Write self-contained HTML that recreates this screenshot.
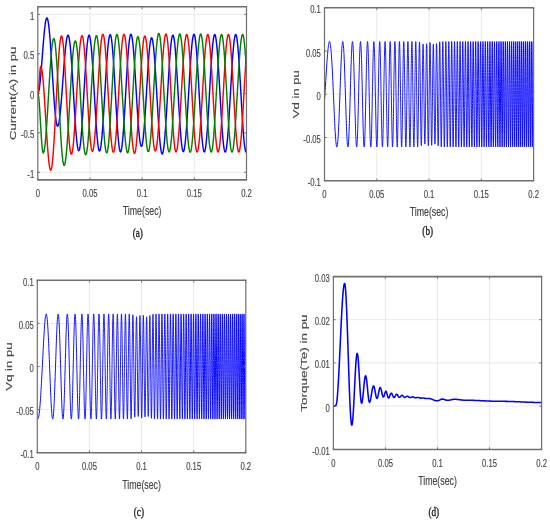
<!DOCTYPE html><html><head><meta charset="utf-8"><title>Figure</title><style>html,body{margin:0;padding:0;background:#fff;overflow:hidden}svg{display:block}.tk{font-family:"Liberation Sans",Arial,sans-serif;font-size:10.7px;fill:#454545;stroke:#454545;stroke-width:0.15px}.xl{font-family:"Liberation Sans",Arial,sans-serif;font-size:12.2px;fill:#454545;stroke:#454545;stroke-width:0.18px}.yl{font-family:"Liberation Sans",Arial,sans-serif;font-size:13px;fill:#454545;stroke:#454545;stroke-width:0.18px}.cap{font-family:"Liberation Serif","Times New Roman",serif;font-size:12.8px;fill:#1a1a1a;stroke:#1a1a1a;stroke-width:0.35px}</style></head><body>
<svg width="550" height="522" viewBox="0 0 550 522">
<rect width="550" height="522" fill="#fff"/>
<defs><filter id="blr" x="-5%" y="-5%" width="110%" height="110%"><feGaussianBlur stdDeviation="0.6 0.3"/></filter><filter id="blr2" x="-5%" y="-5%" width="110%" height="110%"><feGaussianBlur stdDeviation="0.6 0.3"/></filter></defs>
<line x1="37.8" y1="172.30" x2="246.5" y2="172.30" stroke="#e6e6e6" stroke-width="0.9"/>
<line x1="37.8" y1="132.82" x2="246.5" y2="132.82" stroke="#e6e6e6" stroke-width="0.9"/>
<line x1="37.8" y1="93.35" x2="246.5" y2="93.35" stroke="#e6e6e6" stroke-width="0.9"/>
<line x1="37.8" y1="53.87" x2="246.5" y2="53.87" stroke="#e6e6e6" stroke-width="0.9"/>
<line x1="37.8" y1="14.40" x2="246.5" y2="14.40" stroke="#e6e6e6" stroke-width="0.9"/>
<line x1="89.97" y1="6.8" x2="89.97" y2="179.9" stroke="#e6e6e6" stroke-width="0.9"/>
<line x1="142.15" y1="6.8" x2="142.15" y2="179.9" stroke="#e6e6e6" stroke-width="0.9"/>
<line x1="194.32" y1="6.8" x2="194.32" y2="179.9" stroke="#e6e6e6" stroke-width="0.9"/>
<defs><clipPath id="ca"><rect x="37.80" y="6.80" width="208.70" height="173.10"/></clipPath></defs>
<g clip-path="url(#ca)">
<polyline points="37.80,93.35 38.05,93.21 38.31,92.78 38.56,92.06 38.81,91.07 39.06,89.82 39.32,88.30 39.57,86.53 39.82,84.52 40.07,82.30 40.33,79.87 40.58,77.26 40.83,74.49 41.09,71.57 41.34,68.53 41.59,65.39 41.84,62.18 42.10,58.91 42.35,55.63 42.60,52.34 42.86,49.07 43.11,45.86 43.36,42.72 43.61,39.68 43.87,36.76 44.12,33.99 44.37,31.38 44.62,28.95 44.88,26.73 45.13,24.72 45.38,22.95 45.64,21.43 45.89,20.18 46.14,19.19 46.39,18.47 46.65,18.04 46.90,17.90 47.15,18.05 47.41,18.50 47.66,19.26 47.92,20.31 48.17,21.64 48.43,23.26 48.68,25.15 48.94,27.31 49.19,29.71 49.45,32.36 49.70,35.22 49.96,38.29 50.21,41.55 50.47,44.97 50.72,48.56 50.98,52.27 51.23,56.09 51.49,60.00 51.74,63.98 52.00,68.00 52.25,72.05 52.50,76.10 52.76,80.12 53.01,84.10 53.27,88.01 53.52,91.83 53.78,95.54 54.03,99.12 54.29,102.55 54.54,105.81 54.80,108.88 55.05,111.74 55.31,114.39 55.56,116.79 55.82,118.95 56.07,120.84 56.33,122.46 56.58,123.79 56.84,124.84 57.09,125.60 57.35,126.05 57.60,126.20 57.86,126.07 58.11,125.67 58.37,125.00 58.62,124.08 58.88,122.90 59.14,121.48 59.39,119.81 59.65,117.92 59.90,115.80 60.16,113.48 60.42,110.97 60.67,108.28 60.93,105.43 61.19,102.44 61.44,99.31 61.70,96.08 61.95,92.76 62.21,89.36 62.47,85.92 62.72,82.44 62.98,78.96 63.23,75.48 63.49,72.04 63.75,68.64 64.00,65.32 64.26,62.09 64.51,58.96 64.77,55.97 65.03,53.12 65.28,50.43 65.54,47.92 65.80,45.60 66.05,43.48 66.31,41.59 66.56,39.92 66.82,38.50 67.08,37.32 67.33,36.40 67.59,35.73 67.84,35.33 68.10,35.20 68.35,35.36 68.61,35.85 68.86,36.65 69.12,37.77 69.37,39.19 69.63,40.92 69.88,42.94 70.14,45.23 70.39,47.80 70.65,50.62 70.90,53.67 71.16,56.94 71.41,60.42 71.67,64.07 71.92,67.89 72.18,71.85 72.43,75.93 72.69,80.10 72.94,84.34 73.20,88.63 73.45,92.95 73.70,97.27 73.96,101.56 74.21,105.80 74.47,109.97 74.72,114.05 74.98,118.01 75.23,121.82 75.49,125.48 75.74,128.96 76.00,132.23 76.25,135.28 76.51,138.10 76.76,140.67 77.02,142.96 77.27,144.98 77.53,146.71 77.78,148.13 78.04,149.25 78.29,150.05 78.55,150.54 78.80,150.70 79.05,150.53 79.30,150.02 79.55,149.18 79.80,148.01 80.06,146.51 80.31,144.70 80.56,142.59 80.81,140.19 81.06,137.50 81.31,134.56 81.56,131.37 81.81,127.96 82.07,124.34 82.32,120.54 82.57,116.57 82.82,112.47 83.07,108.25 83.32,103.95 83.57,99.57 83.82,95.16 84.08,90.74 84.33,86.33 84.58,81.95 84.83,77.65 85.08,73.43 85.33,69.33 85.58,65.36 85.83,61.56 86.09,57.94 86.34,54.53 86.59,51.34 86.84,48.40 87.09,45.71 87.34,43.31 87.59,41.20 87.84,39.39 88.10,37.89 88.35,36.72 88.60,35.88 88.85,35.37 89.10,35.20 89.35,35.37 89.61,35.88 89.86,36.72 90.11,37.90 90.37,39.40 90.62,41.21 90.88,43.33 91.13,45.74 91.38,48.43 91.64,51.38 91.89,54.58 92.14,58.00 92.40,61.63 92.65,65.44 92.90,69.41 93.16,73.53 93.41,77.76 93.67,82.08 93.92,86.46 94.17,90.88 94.43,95.32 94.68,99.74 94.93,104.12 95.19,108.44 95.44,112.67 95.70,116.79 95.95,120.76 96.20,124.57 96.46,128.20 96.71,131.62 96.96,134.82 97.22,137.77 97.47,140.46 97.72,142.87 97.98,144.99 98.23,146.80 98.49,148.30 98.74,149.48 98.99,150.32 99.25,150.83 99.50,151.00 99.75,150.84 100.01,150.35 100.26,149.54 100.52,148.42 100.77,146.98 101.03,145.24 101.28,143.21 101.54,140.90 101.79,138.31 102.05,135.48 102.30,132.40 102.56,129.11 102.81,125.61 103.07,121.93 103.32,118.08 103.58,114.09 103.83,109.99 104.09,105.79 104.34,101.52 104.60,97.20 104.85,92.85 105.10,88.50 105.36,84.18 105.61,79.91 105.87,75.71 106.12,71.61 106.38,67.62 106.63,63.78 106.89,60.09 107.14,56.59 107.40,53.30 107.65,50.22 107.91,47.39 108.16,44.80 108.42,42.49 108.67,40.46 108.93,38.72 109.18,37.28 109.44,36.16 109.69,35.35 109.95,34.86 110.20,34.70 110.45,34.87 110.70,35.39 110.95,36.24 111.20,37.43 111.46,38.95 111.71,40.78 111.96,42.93 112.21,45.37 112.46,48.09 112.71,51.08 112.96,54.31 113.21,57.78 113.47,61.45 113.72,65.31 113.97,69.33 114.22,73.49 114.47,77.77 114.72,82.14 114.97,86.58 115.22,91.06 115.48,95.54 115.73,100.02 115.98,104.46 116.23,108.83 116.48,113.11 116.73,117.27 116.98,121.29 117.23,125.15 117.49,128.82 117.74,132.29 117.99,135.52 118.24,138.51 118.49,141.23 118.74,143.67 118.99,145.82 119.24,147.65 119.50,149.17 119.75,150.36 120.00,151.21 120.25,151.73 120.50,151.90 120.75,151.73 121.01,151.21 121.26,150.35 121.51,149.16 121.77,147.64 122.02,145.79 122.28,143.64 122.53,141.19 122.78,138.46 123.04,135.47 123.29,132.22 123.54,128.75 123.80,125.06 124.05,121.19 124.30,117.15 124.56,112.98 124.81,108.68 125.07,104.29 125.32,99.84 125.57,95.35 125.83,90.85 126.08,86.36 126.33,81.91 126.59,77.52 126.84,73.22 127.10,69.05 127.35,65.01 127.60,61.14 127.86,57.45 128.11,53.98 128.36,50.73 128.62,47.74 128.87,45.01 129.12,42.56 129.38,40.41 129.63,38.56 129.89,37.04 130.14,35.85 130.39,34.99 130.65,34.47 130.90,34.30 131.15,34.46 131.40,34.93 131.65,35.71 131.90,36.79 132.15,38.17 132.40,39.85 132.65,41.81 132.90,44.04 133.15,46.53 133.40,49.26 133.65,52.23 133.90,55.40 134.15,58.78 134.40,62.32 134.65,66.03 134.90,69.87 135.15,73.83 135.40,77.88 135.65,82.00 135.90,86.16 136.15,90.35 136.40,94.54 136.65,98.70 136.90,102.82 137.15,106.87 137.40,110.83 137.65,114.67 137.90,118.37 138.15,121.92 138.40,125.30 138.65,128.47 138.90,131.44 139.15,134.17 139.40,136.66 139.65,138.89 139.90,140.85 140.15,142.53 140.40,143.91 140.65,144.99 140.90,145.77 141.15,146.24 141.40,146.40 141.66,146.23 141.91,145.73 142.16,144.90 142.42,143.74 142.68,142.27 142.93,140.48 143.19,138.40 143.44,136.03 143.69,133.39 143.95,130.50 144.21,127.37 144.46,124.02 144.72,120.47 144.97,116.75 145.22,112.88 145.48,108.88 145.74,104.78 145.99,100.59 146.25,96.36 146.50,92.10 146.75,87.84 147.01,83.61 147.26,79.42 147.52,75.32 147.78,71.32 148.03,67.45 148.28,63.73 148.54,60.18 148.79,56.83 149.05,53.70 149.31,50.81 149.56,48.17 149.81,45.80 150.07,43.72 150.32,41.93 150.58,40.46 150.84,39.30 151.09,38.47 151.34,37.97 151.60,37.80 151.85,37.96 152.10,38.45 152.36,39.26 152.61,40.38 152.86,41.82 153.11,43.55 153.37,45.58 153.62,47.90 153.87,50.48 154.12,53.31 154.38,56.38 154.63,59.68 154.88,63.17 155.13,66.85 155.39,70.69 155.64,74.67 155.89,78.77 156.14,82.97 156.40,87.24 156.65,91.56 156.90,95.90 157.15,100.24 157.40,104.56 157.66,108.83 157.91,113.03 158.16,117.13 158.41,121.11 158.67,124.95 158.92,128.63 159.17,132.12 159.42,135.42 159.68,138.49 159.93,141.32 160.18,143.90 160.43,146.22 160.69,148.25 160.94,149.98 161.19,151.42 161.44,152.54 161.70,153.35 161.95,153.84 162.20,154.00 162.45,153.83 162.71,153.34 162.96,152.51 163.22,151.36 163.47,149.89 163.73,148.12 163.98,146.04 164.24,143.68 164.49,141.04 164.75,138.14 165.00,135.00 165.26,131.64 165.51,128.06 165.77,124.30 166.02,120.37 166.28,116.30 166.53,112.11 166.79,107.82 167.04,103.45 167.30,99.04 167.55,94.60 167.80,90.16 168.06,85.75 168.31,81.38 168.57,77.09 168.82,72.90 169.08,68.83 169.33,64.90 169.59,61.14 169.84,57.56 170.10,54.20 170.35,51.06 170.61,48.16 170.86,45.52 171.12,43.16 171.37,41.08 171.63,39.31 171.88,37.84 172.14,36.69 172.39,35.86 172.65,35.37 172.90,35.20 173.15,35.37 173.41,35.88 173.66,36.73 173.91,37.91 174.17,39.42 174.42,41.24 174.68,43.37 174.93,45.80 175.18,48.50 175.44,51.47 175.69,54.68 175.94,58.12 176.20,61.76 176.45,65.60 176.70,69.59 176.96,73.73 177.21,77.98 177.47,82.32 177.72,86.73 177.97,91.17 178.23,95.63 178.48,100.07 178.73,104.48 178.99,108.82 179.24,113.07 179.50,117.21 179.75,121.20 180.00,125.04 180.26,128.68 180.51,132.12 180.76,135.33 181.02,138.30 181.27,141.00 181.52,143.43 181.78,145.56 182.03,147.38 182.29,148.89 182.54,150.07 182.79,150.92 183.05,151.43 183.30,151.60 183.55,151.44 183.81,150.94 184.06,150.13 184.32,148.99 184.57,147.55 184.83,145.79 185.08,143.74 185.34,141.41 185.59,138.80 185.85,135.94 186.10,132.84 186.36,129.52 186.61,125.99 186.87,122.28 187.12,118.40 187.38,114.38 187.63,110.24 187.89,106.00 188.14,101.69 188.40,97.33 188.65,92.95 188.90,88.57 189.16,84.21 189.41,79.90 189.67,75.66 189.92,71.52 190.18,67.50 190.43,63.63 190.69,59.91 190.94,56.38 191.20,53.06 191.45,49.96 191.71,47.10 191.96,44.49 192.22,42.16 192.47,40.11 192.73,38.35 192.98,36.91 193.24,35.77 193.49,34.96 193.75,34.46 194.00,34.30 194.25,34.47 194.50,34.99 194.75,35.85 195.00,37.04 195.26,38.56 195.51,40.41 195.76,42.56 196.01,45.01 196.26,47.74 196.51,50.73 196.76,53.98 197.01,57.45 197.27,61.14 197.52,65.01 197.77,69.05 198.02,73.22 198.27,77.52 198.52,81.91 198.77,86.36 199.02,90.85 199.28,95.35 199.53,99.84 199.78,104.29 200.03,108.68 200.28,112.98 200.53,117.15 200.78,121.19 201.03,125.06 201.29,128.75 201.54,132.22 201.79,135.47 202.04,138.46 202.29,141.19 202.54,143.64 202.79,145.79 203.04,147.64 203.30,149.16 203.55,150.35 203.80,151.21 204.05,151.73 204.30,151.90 204.55,151.73 204.81,151.21 205.06,150.36 205.31,149.16 205.57,147.64 205.82,145.80 206.08,143.66 206.33,141.21 206.58,138.49 206.84,135.49 207.09,132.25 207.34,128.79 207.60,125.11 207.85,121.24 208.10,117.21 208.36,113.04 208.61,108.75 208.87,104.38 209.12,99.93 209.37,95.45 209.63,90.95 209.88,86.47 210.13,82.02 210.39,77.65 210.64,73.36 210.90,69.19 211.15,65.16 211.40,61.29 211.66,57.61 211.91,54.15 212.16,50.91 212.42,47.91 212.67,45.19 212.92,42.74 213.18,40.60 213.43,38.76 213.69,37.24 213.94,36.04 214.19,35.19 214.45,34.67 214.70,34.50 214.95,34.66 215.20,35.16 215.45,35.97 215.70,37.11 215.95,38.56 216.20,40.32 216.45,42.37 216.70,44.71 216.95,47.32 217.20,50.18 217.45,53.29 217.70,56.62 217.95,60.15 218.20,63.87 218.45,67.76 218.70,71.79 218.95,75.93 219.20,80.18 219.45,84.49 219.70,88.86 219.95,93.25 220.20,97.64 220.45,102.01 220.70,106.32 220.95,110.57 221.20,114.71 221.45,118.74 221.70,122.62 221.95,126.35 222.20,129.88 222.45,133.21 222.70,136.32 222.95,139.18 223.20,141.79 223.45,144.13 223.70,146.18 223.95,147.94 224.20,149.39 224.45,150.53 224.70,151.34 224.95,151.84 225.20,152.00 225.45,151.84 225.70,151.34 225.95,150.53 226.20,149.39 226.45,147.94 226.70,146.18 226.95,144.13 227.20,141.79 227.45,139.18 227.70,136.32 227.95,133.21 228.20,129.88 228.45,126.35 228.70,122.62 228.95,118.74 229.20,114.71 229.45,110.57 229.70,106.32 229.95,102.01 230.20,97.64 230.45,93.25 230.70,88.86 230.95,84.49 231.20,80.18 231.45,75.93 231.70,71.79 231.95,67.76 232.20,63.88 232.45,60.15 232.70,56.62 232.95,53.29 233.20,50.18 233.45,47.32 233.70,44.71 233.95,42.37 234.20,40.32 234.45,38.56 234.70,37.11 234.95,35.97 235.20,35.16 235.45,34.66 235.70,34.50 235.95,34.67 236.21,35.19 236.46,36.05 236.71,37.24 236.97,38.76 237.22,40.60 237.48,42.75 237.73,45.20 237.98,47.93 238.24,50.92 238.49,54.16 238.74,57.63 239.00,61.32 239.25,65.18 239.50,69.22 239.76,73.39 240.01,77.68 240.27,82.06 240.52,86.51 240.77,91.00 241.03,95.50 241.28,99.99 241.53,104.44 241.79,108.82 242.04,113.11 242.30,117.28 242.55,121.32 242.80,125.18 243.06,128.87 243.31,132.34 243.56,135.58 243.82,138.57 244.07,141.30 244.32,143.75 244.58,145.90 244.83,147.74 245.09,149.26 245.34,150.45 245.59,151.31 245.85,151.83 246.10,152.00 246.35,151.83 246.61,151.31 246.86,150.45 247.11,149.26 247.37,147.74 247.62,145.90 247.88,143.75 248.13,141.30 248.38,138.57 248.64,135.58 248.89,132.34 249.14,128.87 249.40,125.18 249.65,121.32 249.90,117.28 250.16,113.11 250.41,108.82 250.67,104.44 250.92,99.99 251.17,95.50 251.43,91.00 251.68,86.51 251.93,82.06 252.19,77.68 252.44,73.39 252.70,69.22 252.95,65.18 253.20,61.32 253.46,57.63 253.71,54.16 253.96,50.92 254.22,47.93 254.47,45.20 254.72,42.75 254.98,40.60 255.23,38.76 255.49,37.24 255.74,36.05 255.99,35.19 256.25,34.67 256.50,34.50" fill="none" stroke="#0000ff" stroke-width="1.45" stroke-linejoin="round" />
<polyline points="37.80,93.35 38.06,92.81 38.33,91.23 38.59,88.73 38.85,85.53 39.12,81.88 39.38,78.07 39.65,74.42 39.91,71.22 40.17,68.72 40.44,67.14 40.70,66.60 40.95,66.76 41.20,67.24 41.45,68.03 41.70,69.14 41.95,70.54 42.20,72.25 42.45,74.23 42.70,76.49 42.95,79.01 43.20,81.77 43.45,84.76 43.70,87.95 43.95,91.33 44.20,94.88 44.45,98.58 44.70,102.39 44.95,106.31 45.20,110.30 45.45,114.34 45.70,118.40 45.95,122.46 46.20,126.50 46.45,130.49 46.70,134.41 46.95,138.22 47.20,141.92 47.45,145.47 47.70,148.85 47.95,152.04 48.20,155.03 48.45,157.79 48.70,160.31 48.95,162.57 49.20,164.55 49.45,166.26 49.70,167.66 49.95,168.77 50.20,169.56 50.45,170.04 50.70,170.20 50.95,170.02 51.20,169.48 51.45,168.59 51.70,167.36 51.96,165.77 52.21,163.86 52.46,161.61 52.71,159.06 52.96,156.21 53.21,153.07 53.46,149.67 53.71,146.02 53.97,142.14 54.22,138.06 54.47,133.78 54.72,129.34 54.97,124.77 55.22,120.07 55.47,115.29 55.72,110.44 55.97,105.55 56.23,100.65 56.48,95.76 56.73,90.91 56.98,86.13 57.23,81.43 57.48,76.86 57.73,72.42 57.98,68.14 58.23,64.06 58.49,60.18 58.74,56.53 58.99,53.13 59.24,49.99 59.49,47.14 59.74,44.59 59.99,42.34 60.24,40.43 60.50,38.84 60.75,37.61 61.00,36.72 61.25,36.18 61.50,36.00 61.75,36.19 62.00,36.76 62.25,37.72 62.51,39.04 62.76,40.73 63.01,42.76 63.26,45.14 63.51,47.84 63.76,50.85 64.01,54.14 64.26,57.70 64.52,61.51 64.77,65.52 65.02,69.74 65.27,74.11 65.52,78.62 65.77,83.24 66.02,87.93 66.27,92.67 66.53,97.43 66.78,102.17 67.03,106.86 67.28,111.48 67.53,115.99 67.78,120.36 68.03,124.57 68.28,128.59 68.54,132.40 68.79,135.96 69.04,139.25 69.29,142.26 69.54,144.96 69.79,147.34 70.04,149.37 70.29,151.06 70.55,152.38 70.80,153.34 71.05,153.91 71.30,154.10 71.55,153.93 71.81,153.44 72.06,152.62 72.32,151.47 72.57,150.01 72.83,148.24 73.08,146.17 73.34,143.81 73.59,141.18 73.85,138.30 74.10,135.17 74.36,131.81 74.61,128.25 74.87,124.50 75.12,120.59 75.38,116.53 75.63,112.35 75.89,108.07 76.14,103.72 76.40,99.32 76.65,94.90 76.90,90.48 77.16,86.08 77.41,81.73 77.67,77.45 77.92,73.27 78.18,69.21 78.43,65.30 78.69,61.55 78.94,57.99 79.20,54.63 79.45,51.50 79.71,48.62 79.96,45.99 80.22,43.63 80.47,41.56 80.73,39.79 80.98,38.33 81.24,37.18 81.49,36.36 81.75,35.87 82.00,35.70 82.25,35.87 82.51,36.38 82.76,37.22 83.01,38.40 83.27,39.89 83.52,41.71 83.78,43.82 84.03,46.23 84.28,48.92 84.54,51.87 84.79,55.06 85.04,58.48 85.30,62.10 85.55,65.91 85.80,69.89 86.06,74.00 86.31,78.22 86.57,82.54 86.82,86.92 87.07,91.33 87.33,95.77 87.58,100.18 87.83,104.56 88.09,108.88 88.34,113.10 88.60,117.21 88.85,121.19 89.10,125.00 89.36,128.62 89.61,132.04 89.86,135.23 90.12,138.18 90.37,140.87 90.62,143.28 90.88,145.39 91.13,147.21 91.39,148.70 91.64,149.88 91.89,150.72 92.15,151.23 92.40,151.40 92.65,151.24 92.90,150.75 93.15,149.93 93.40,148.80 93.65,147.35 93.90,145.60 94.15,143.56 94.40,141.23 94.65,138.63 94.90,135.77 95.15,132.67 95.40,129.36 95.65,125.83 95.90,122.13 96.15,118.25 96.40,114.24 96.65,110.11 96.90,105.88 97.15,101.58 97.40,97.23 97.65,92.85 97.90,88.47 98.15,84.12 98.40,79.82 98.65,75.59 98.90,71.46 99.15,67.45 99.40,63.58 99.65,59.87 99.90,56.34 100.15,53.03 100.40,49.93 100.65,47.07 100.90,44.47 101.15,42.14 101.40,40.10 101.65,38.35 101.90,36.90 102.15,35.77 102.40,34.95 102.65,34.46 102.90,34.30 103.15,34.46 103.40,34.96 103.65,35.78 103.90,36.92 104.15,38.37 104.40,40.14 104.65,42.20 104.90,44.54 105.15,47.16 105.40,50.04 105.65,53.15 105.90,56.50 106.15,60.04 106.40,63.77 106.65,67.67 106.90,71.71 107.15,75.87 107.40,80.13 107.65,84.46 107.90,88.84 108.15,93.25 108.40,97.66 108.65,102.04 108.90,106.37 109.15,110.63 109.40,114.79 109.65,118.83 109.90,122.72 110.15,126.46 110.40,130.00 110.65,133.35 110.90,136.46 111.15,139.34 111.40,141.96 111.65,144.30 111.90,146.36 112.15,148.13 112.40,149.58 112.65,150.72 112.90,151.54 113.15,152.04 113.40,152.20 113.65,152.04 113.90,151.54 114.16,150.72 114.41,149.58 114.66,148.13 114.91,146.36 115.17,144.30 115.42,141.96 115.67,139.34 115.92,136.46 116.18,133.35 116.43,130.00 116.68,126.46 116.93,122.72 117.19,118.83 117.44,114.79 117.69,110.63 117.94,106.37 118.20,102.04 118.45,97.66 118.70,93.25 118.95,88.84 119.20,84.46 119.46,80.13 119.71,75.87 119.96,71.71 120.21,67.67 120.47,63.78 120.72,60.04 120.97,56.50 121.22,53.15 121.48,50.04 121.73,47.16 121.98,44.54 122.23,42.20 122.49,40.14 122.74,38.37 122.99,36.92 123.24,35.78 123.50,34.96 123.75,34.46 124.00,34.30 124.25,34.47 124.50,34.96 124.75,35.79 125.00,36.94 125.25,38.41 125.50,40.19 125.75,42.27 126.00,44.64 126.25,47.28 126.50,50.18 126.75,53.33 127.00,56.70 127.25,60.28 127.50,64.05 127.75,67.98 128.00,72.06 128.25,76.26 128.50,80.56 128.75,84.93 129.00,89.35 129.25,93.80 129.50,98.25 129.75,102.67 130.00,107.04 130.25,111.34 130.50,115.54 130.75,119.62 131.00,123.55 131.25,127.32 131.50,130.90 131.75,134.27 132.00,137.42 132.25,140.32 132.50,142.96 132.75,145.33 133.00,147.41 133.25,149.19 133.50,150.66 133.75,151.81 134.00,152.64 134.25,153.13 134.50,153.30 134.75,153.13 135.00,152.61 135.25,151.76 135.50,150.57 135.76,149.05 136.01,147.21 136.26,145.06 136.51,142.62 136.76,139.90 137.01,136.91 137.26,133.67 137.51,130.21 137.77,126.53 138.02,122.67 138.27,118.64 138.52,114.47 138.77,110.19 139.02,105.82 139.27,101.38 139.52,96.90 139.78,92.40 140.03,87.92 140.28,83.48 140.53,79.11 140.78,74.83 141.03,70.66 141.28,66.63 141.53,62.77 141.79,59.09 142.04,55.63 142.29,52.39 142.54,49.40 142.79,46.68 143.04,44.24 143.29,42.09 143.54,40.25 143.80,38.73 144.05,37.54 144.30,36.69 144.55,36.17 144.80,36.00 145.05,36.16 145.30,36.64 145.55,37.44 145.80,38.55 146.05,39.97 146.30,41.69 146.55,43.70 146.80,45.99 147.05,48.54 147.30,51.35 147.55,54.39 147.80,57.65 148.05,61.11 148.30,64.75 148.55,68.55 148.80,72.49 149.05,76.55 149.30,80.71 149.55,84.93 149.80,89.20 150.05,93.50 150.30,97.80 150.55,102.07 150.80,106.29 151.05,110.45 151.30,114.51 151.55,118.45 151.80,122.25 152.05,125.89 152.30,129.35 152.55,132.61 152.80,135.65 153.05,138.46 153.30,141.01 153.55,143.30 153.80,145.31 154.05,147.03 154.30,148.45 154.55,149.56 154.80,150.36 155.05,150.84 155.30,151.00 155.55,150.84 155.81,150.35 156.06,149.53 156.32,148.40 156.57,146.96 156.83,145.21 157.08,143.16 157.34,140.83 157.59,138.24 157.85,135.38 158.10,132.29 158.36,128.97 158.61,125.45 158.87,121.75 159.12,117.88 159.38,113.87 159.63,109.74 159.89,105.52 160.14,101.22 160.40,96.87 160.65,92.50 160.90,88.13 161.16,83.78 161.41,79.48 161.67,75.26 161.92,71.13 162.18,67.12 162.43,63.25 162.69,59.55 162.94,56.03 163.20,52.71 163.45,49.62 163.71,46.76 163.96,44.17 164.22,41.84 164.47,39.79 164.73,38.04 164.98,36.60 165.24,35.47 165.49,34.65 165.75,34.16 166.00,34.00 166.25,34.18 166.50,34.73 166.75,35.63 167.00,36.89 167.25,38.49 167.50,40.43 167.75,42.69 168.00,45.26 168.25,48.12 168.50,51.27 168.75,54.67 169.00,58.30 169.25,62.15 169.50,66.19 169.75,70.39 170.00,74.73 170.25,79.19 170.50,83.73 170.75,88.32 171.00,92.95 171.25,97.58 171.50,102.17 171.75,106.71 172.00,111.17 172.25,115.51 172.50,119.71 172.75,123.75 173.00,127.60 173.25,131.23 173.50,134.63 173.75,137.78 174.00,140.64 174.25,143.21 174.50,145.47 174.75,147.41 175.00,149.01 175.25,150.27 175.50,151.17 175.75,151.72 176.00,151.90 176.25,151.74 176.51,151.24 176.76,150.43 177.02,149.29 177.27,147.84 177.53,146.09 177.78,144.04 178.04,141.70 178.29,139.09 178.55,136.23 178.80,133.13 179.06,129.80 179.31,126.27 179.57,122.55 179.82,118.67 180.08,114.65 180.33,110.50 180.59,106.26 180.84,101.95 181.10,97.59 181.35,93.20 181.60,88.81 181.86,84.45 182.11,80.14 182.37,75.90 182.62,71.75 182.88,67.73 183.13,63.85 183.39,60.13 183.64,56.60 183.90,53.27 184.15,50.17 184.41,47.31 184.66,44.70 184.92,42.36 185.17,40.31 185.43,38.56 185.68,37.11 185.94,35.97 186.19,35.16 186.45,34.66 186.70,34.50 186.95,34.67 187.21,35.19 187.46,36.05 187.71,37.24 187.97,38.76 188.22,40.60 188.48,42.75 188.73,45.20 188.98,47.93 189.24,50.92 189.49,54.16 189.74,57.63 190.00,61.32 190.25,65.18 190.50,69.22 190.76,73.39 191.01,77.68 191.27,82.06 191.52,86.51 191.77,91.00 192.03,95.50 192.28,99.99 192.53,104.44 192.79,108.82 193.04,113.11 193.30,117.28 193.55,121.32 193.80,125.18 194.06,128.87 194.31,132.34 194.56,135.58 194.82,138.57 195.07,141.30 195.32,143.75 195.58,145.90 195.83,147.74 196.09,149.26 196.34,150.45 196.59,151.31 196.85,151.83 197.10,152.00 197.35,151.84 197.61,151.34 197.86,150.53 198.12,149.39 198.37,147.94 198.63,146.18 198.88,144.13 199.14,141.79 199.39,139.18 199.65,136.32 199.90,133.21 200.16,129.88 200.41,126.35 200.67,122.62 200.92,118.74 201.18,114.71 201.43,110.57 201.69,106.32 201.94,102.01 202.20,97.64 202.45,93.25 202.70,88.86 202.96,84.49 203.21,80.18 203.47,75.93 203.72,71.79 203.98,67.76 204.23,63.88 204.49,60.15 204.74,56.62 205.00,53.29 205.25,50.18 205.51,47.32 205.76,44.71 206.02,42.37 206.27,40.32 206.53,38.56 206.78,37.11 207.04,35.97 207.29,35.16 207.55,34.66 207.80,34.50 208.05,34.67 208.30,35.19 208.55,36.05 208.80,37.24 209.06,38.76 209.31,40.60 209.56,42.75 209.81,45.20 210.06,47.93 210.31,50.92 210.56,54.16 210.81,57.63 211.07,61.32 211.32,65.18 211.57,69.22 211.82,73.39 212.07,77.68 212.32,82.06 212.57,86.51 212.82,91.00 213.08,95.50 213.33,99.99 213.58,104.44 213.83,108.82 214.08,113.11 214.33,117.28 214.58,121.32 214.83,125.18 215.09,128.87 215.34,132.34 215.59,135.58 215.84,138.57 216.09,141.30 216.34,143.75 216.59,145.90 216.84,147.74 217.10,149.26 217.35,150.45 217.60,151.31 217.85,151.83 218.10,152.00 218.35,151.83 218.60,151.31 218.85,150.45 219.10,149.26 219.36,147.74 219.61,145.90 219.86,143.75 220.11,141.30 220.36,138.57 220.61,135.58 220.86,132.34 221.11,128.87 221.37,125.18 221.62,121.32 221.87,117.28 222.12,113.11 222.37,108.82 222.62,104.44 222.87,99.99 223.12,95.50 223.38,91.00 223.63,86.51 223.88,82.06 224.13,77.68 224.38,73.39 224.63,69.22 224.88,65.18 225.13,61.32 225.39,57.63 225.64,54.16 225.89,50.92 226.14,47.93 226.39,45.20 226.64,42.75 226.89,40.60 227.14,38.76 227.40,37.24 227.65,36.05 227.90,35.19 228.15,34.67 228.40,34.50 228.65,34.67 228.91,35.19 229.16,36.05 229.41,37.24 229.67,38.76 229.92,40.60 230.18,42.75 230.43,45.20 230.68,47.93 230.94,50.92 231.19,54.16 231.44,57.63 231.70,61.32 231.95,65.18 232.20,69.22 232.46,73.39 232.71,77.68 232.97,82.06 233.22,86.51 233.47,91.00 233.73,95.50 233.98,99.99 234.23,104.44 234.49,108.82 234.74,113.11 235.00,117.28 235.25,121.32 235.50,125.18 235.76,128.87 236.01,132.34 236.26,135.58 236.52,138.57 236.77,141.30 237.02,143.75 237.28,145.90 237.53,147.74 237.79,149.26 238.04,150.45 238.29,151.31 238.55,151.83 238.80,152.00 239.05,151.83 239.31,151.31 239.56,150.45 239.81,149.26 240.07,147.74 240.32,145.90 240.58,143.75 240.83,141.30 241.08,138.57 241.34,135.58 241.59,132.34 241.84,128.87 242.10,125.18 242.35,121.32 242.60,117.28 242.86,113.11 243.11,108.82 243.37,104.44 243.62,99.99 243.87,95.50 244.13,91.00 244.38,86.51 244.63,82.06 244.89,77.68 245.14,73.39 245.40,69.22 245.65,65.18 245.90,61.32 246.16,57.63 246.41,54.16 246.66,50.92 246.92,47.93 247.17,45.20 247.42,42.75 247.68,40.60 247.93,38.76 248.19,37.24 248.44,36.05 248.69,35.19 248.95,34.67 249.20,34.50" fill="none" stroke="#ff0000" stroke-width="1.45" stroke-linejoin="round" />
<polyline points="37.80,93.35 38.06,93.68 38.31,94.67 38.57,96.30 38.83,98.52 39.09,101.30 39.34,104.56 39.60,108.24 39.86,112.25 40.11,116.50 40.37,120.90 40.63,125.35 40.89,129.75 41.14,134.00 41.40,138.01 41.66,141.69 41.91,144.95 42.17,147.73 42.43,149.95 42.69,151.58 42.94,152.57 43.20,152.90 43.45,152.74 43.70,152.26 43.96,151.47 44.21,150.36 44.46,148.95 44.71,147.24 44.97,145.24 45.22,142.97 45.47,140.43 45.72,137.64 45.98,134.62 46.23,131.38 46.48,127.94 46.73,124.33 46.99,120.55 47.24,116.63 47.49,112.60 47.74,108.47 48.00,104.27 48.25,100.02 48.50,95.75 48.75,91.48 49.00,87.23 49.26,83.03 49.51,78.90 49.76,74.87 50.01,70.95 50.27,67.18 50.52,63.56 50.77,60.12 51.02,56.88 51.28,53.86 51.53,51.07 51.78,48.53 52.03,46.26 52.29,44.26 52.54,42.55 52.79,41.14 53.04,40.03 53.30,39.24 53.55,38.76 53.80,38.60 54.05,38.79 54.30,39.34 54.55,40.27 54.80,41.55 55.06,43.19 55.31,45.18 55.56,47.50 55.81,50.13 56.06,53.08 56.31,56.30 56.56,59.80 56.81,63.55 57.07,67.51 57.32,71.69 57.57,76.04 57.82,80.54 58.07,85.16 58.32,89.89 58.57,94.68 58.82,99.52 59.08,104.38 59.33,109.22 59.58,114.01 59.83,118.74 60.08,123.36 60.33,127.86 60.58,132.21 60.83,136.39 61.09,140.35 61.34,144.10 61.59,147.60 61.84,150.82 62.09,153.77 62.34,156.40 62.59,158.72 62.84,160.71 63.10,162.35 63.35,163.63 63.60,164.56 63.85,165.11 64.10,165.30 64.35,165.14 64.61,164.67 64.86,163.88 65.12,162.78 65.37,161.38 65.63,159.68 65.88,157.69 66.14,155.43 66.39,152.89 66.65,150.11 66.90,147.08 67.15,143.83 67.41,140.38 67.66,136.73 67.92,132.91 68.17,128.94 68.43,124.84 68.68,120.62 68.94,116.32 69.19,111.95 69.45,107.54 69.70,103.10 69.95,98.66 70.21,94.25 70.46,89.88 70.72,85.58 70.97,81.36 71.23,77.26 71.48,73.29 71.74,69.47 71.99,65.82 72.25,62.37 72.50,59.12 72.75,56.09 73.01,53.31 73.26,50.77 73.52,48.51 73.77,46.52 74.03,44.82 74.28,43.42 74.54,42.32 74.79,41.53 75.05,41.06 75.30,40.90 75.55,41.07 75.81,41.57 76.06,42.40 76.31,43.55 76.57,45.03 76.82,46.81 77.08,48.89 77.33,51.26 77.58,53.90 77.84,56.80 78.09,59.94 78.34,63.31 78.60,66.87 78.85,70.62 79.10,74.52 79.36,78.57 79.61,82.72 79.87,86.97 80.12,91.27 80.37,95.62 80.63,99.98 80.88,104.33 81.13,108.63 81.39,112.88 81.64,117.03 81.90,121.08 82.15,124.98 82.40,128.73 82.66,132.29 82.91,135.66 83.16,138.80 83.42,141.70 83.67,144.34 83.92,146.71 84.18,148.79 84.43,150.57 84.69,152.05 84.94,153.20 85.19,154.03 85.45,154.53 85.70,154.70 85.95,154.53 86.21,154.04 86.46,153.21 86.72,152.06 86.97,150.59 87.23,148.81 87.48,146.73 87.74,144.36 87.99,141.72 88.25,138.82 88.50,135.67 88.76,132.30 89.01,128.72 89.27,124.95 89.52,121.02 89.78,116.94 90.03,112.74 90.29,108.44 90.54,104.07 90.80,99.65 91.05,95.20 91.30,90.75 91.56,86.33 91.81,81.96 92.07,77.66 92.32,73.46 92.58,69.38 92.83,65.45 93.09,61.68 93.34,58.10 93.60,54.73 93.85,51.58 94.11,48.68 94.36,46.04 94.62,43.67 94.87,41.59 95.13,39.81 95.38,38.34 95.64,37.19 95.89,36.36 96.15,35.87 96.40,35.70 96.65,35.87 96.90,36.39 97.15,37.24 97.40,38.43 97.66,39.94 97.91,41.78 98.16,43.92 98.41,46.36 98.66,49.08 98.91,52.06 99.16,55.30 99.41,58.76 99.67,62.42 99.92,66.28 100.17,70.30 100.42,74.46 100.67,78.74 100.92,83.10 101.17,87.54 101.42,92.01 101.68,96.49 101.93,100.96 102.18,105.40 102.43,109.76 102.68,114.04 102.93,118.20 103.18,122.22 103.43,126.08 103.69,129.74 103.94,133.20 104.19,136.44 104.44,139.42 104.69,142.14 104.94,144.58 105.19,146.72 105.44,148.56 105.70,150.07 105.95,151.26 106.20,152.11 106.45,152.63 106.70,152.80 106.95,152.62 107.21,152.07 107.47,151.17 107.72,149.90 107.98,148.30 108.23,146.35 108.48,144.08 108.74,141.50 109.00,138.63 109.25,135.48 109.51,132.06 109.76,128.42 110.02,124.56 110.27,120.50 110.53,116.29 110.78,111.93 111.03,107.46 111.29,102.90 111.55,98.29 111.80,93.65 112.06,89.01 112.31,84.40 112.56,79.84 112.82,75.37 113.08,71.01 113.33,66.80 113.59,62.74 113.84,58.88 114.09,55.24 114.35,51.82 114.61,48.67 114.86,45.80 115.12,43.22 115.37,40.95 115.62,39.00 115.88,37.40 116.14,36.13 116.39,35.23 116.65,34.68 116.90,34.50 117.15,34.67 117.41,35.16 117.66,35.98 117.92,37.13 118.17,38.59 118.43,40.36 118.68,42.42 118.94,44.78 119.19,47.40 119.45,50.29 119.70,53.42 119.96,56.77 120.21,60.33 120.47,64.07 120.72,67.99 120.98,72.04 121.23,76.22 121.49,80.49 121.74,84.83 122.00,89.23 122.25,93.65 122.50,98.07 122.76,102.47 123.01,106.81 123.27,111.08 123.52,115.26 123.78,119.31 124.03,123.22 124.29,126.97 124.54,130.53 124.80,133.88 125.05,137.01 125.31,139.90 125.56,142.52 125.82,144.88 126.07,146.94 126.33,148.71 126.58,150.17 126.84,151.32 127.09,152.14 127.35,152.63 127.60,152.80 127.85,152.63 128.10,152.12 128.35,151.27 128.60,150.09 128.86,148.59 129.11,146.77 129.36,144.64 129.61,142.22 129.86,139.52 130.11,136.56 130.36,133.36 130.61,129.92 130.87,126.28 131.12,122.46 131.37,118.47 131.62,114.34 131.87,110.10 132.12,105.76 132.37,101.36 132.62,96.93 132.88,92.47 133.13,88.04 133.38,83.64 133.63,79.30 133.88,75.06 134.13,70.93 134.38,66.94 134.63,63.12 134.89,59.48 135.14,56.04 135.39,52.84 135.64,49.88 135.89,47.18 136.14,44.76 136.39,42.63 136.64,40.81 136.90,39.31 137.15,38.13 137.40,37.28 137.65,36.77 137.90,36.60 138.15,36.77 138.41,37.27 138.66,38.11 138.91,39.28 139.17,40.77 139.42,42.57 139.68,44.67 139.93,47.07 140.18,49.74 140.44,52.67 140.69,55.84 140.94,59.24 141.20,62.84 141.45,66.63 141.70,70.58 141.96,74.66 142.21,78.86 142.47,83.15 142.72,87.51 142.97,91.90 143.23,96.30 143.48,100.69 143.73,105.05 143.99,109.34 144.24,113.54 144.50,117.62 144.75,121.57 145.00,125.36 145.26,128.96 145.51,132.36 145.76,135.53 146.02,138.46 146.27,141.13 146.52,143.53 146.78,145.63 147.03,147.43 147.29,148.92 147.54,150.09 147.79,150.93 148.05,151.43 148.30,151.60 148.55,151.43 148.80,150.94 149.05,150.12 149.30,148.97 149.55,147.51 149.80,145.75 150.05,143.68 150.30,141.33 150.55,138.71 150.80,135.82 151.05,132.70 151.30,129.35 151.55,125.79 151.80,122.05 152.05,118.14 152.30,114.09 152.55,109.92 152.80,105.65 153.05,101.31 153.30,96.92 153.55,92.50 153.80,88.08 154.05,83.69 154.30,79.35 154.55,75.08 154.80,70.91 155.05,66.86 155.30,62.95 155.55,59.21 155.80,55.65 156.05,52.30 156.30,49.18 156.55,46.29 156.80,43.67 157.05,41.32 157.30,39.25 157.55,37.49 157.80,36.03 158.05,34.88 158.30,34.06 158.55,33.57 158.80,33.40 159.05,33.57 159.30,34.09 159.55,34.96 159.80,36.16 160.06,37.70 160.31,39.55 160.56,41.72 160.81,44.19 161.06,46.94 161.31,49.96 161.56,53.23 161.81,56.73 162.07,60.44 162.32,64.35 162.57,68.41 162.82,72.62 163.07,76.95 163.32,81.37 163.57,85.86 163.82,90.38 164.08,94.92 164.33,99.44 164.58,103.93 164.83,108.35 165.08,112.68 165.33,116.89 165.58,120.95 165.83,124.86 166.09,128.57 166.34,132.07 166.59,135.34 166.84,138.36 167.09,141.11 167.34,143.58 167.59,145.75 167.84,147.60 168.10,149.14 168.35,150.34 168.60,151.21 168.85,151.73 169.10,151.90 169.35,151.74 169.61,151.24 169.86,150.42 170.12,149.28 170.37,147.83 170.63,146.06 170.88,144.00 171.14,141.66 171.39,139.04 171.65,136.16 171.90,133.05 172.16,129.70 172.41,126.16 172.67,122.43 172.92,118.53 173.18,114.49 173.43,110.33 173.69,106.07 173.94,101.74 174.20,97.36 174.45,92.95 174.70,88.54 174.96,84.16 175.21,79.83 175.47,75.57 175.72,71.41 175.98,67.37 176.23,63.48 176.49,59.74 176.74,56.20 177.00,52.85 177.25,49.74 177.51,46.86 177.76,44.24 178.02,41.90 178.27,39.84 178.53,38.07 178.78,36.62 179.04,35.48 179.29,34.66 179.55,34.16 179.80,34.00 180.05,34.17 180.31,34.69 180.56,35.55 180.81,36.75 181.07,38.28 181.32,40.14 181.58,42.30 181.83,44.76 182.08,47.50 182.34,50.52 182.59,53.78 182.84,57.27 183.10,60.98 183.35,64.87 183.60,68.92 183.86,73.12 184.11,77.44 184.37,81.85 184.62,86.32 184.87,90.84 185.13,95.36 185.38,99.88 185.63,104.35 185.89,108.76 186.14,113.08 186.40,117.28 186.65,121.33 186.90,125.22 187.16,128.93 187.41,132.42 187.66,135.68 187.92,138.70 188.17,141.44 188.42,143.90 188.68,146.06 188.93,147.92 189.19,149.45 189.44,150.65 189.69,151.51 189.95,152.03 190.20,152.20 190.45,152.03 190.70,151.54 190.95,150.72 191.20,149.57 191.45,148.11 191.70,146.35 191.95,144.28 192.20,141.93 192.45,139.31 192.70,136.42 192.95,133.30 193.20,129.95 193.45,126.39 193.70,122.65 193.95,118.74 194.20,114.69 194.45,110.52 194.70,106.25 194.95,101.91 195.20,97.52 195.45,93.10 195.70,88.68 195.95,84.29 196.20,79.95 196.45,75.68 196.70,71.51 196.95,67.46 197.20,63.55 197.45,59.81 197.70,56.25 197.95,52.90 198.20,49.78 198.45,46.89 198.70,44.27 198.95,41.92 199.20,39.85 199.45,38.09 199.70,36.63 199.95,35.48 200.20,34.66 200.45,34.17 200.70,34.00 200.95,34.16 201.20,34.66 201.45,35.48 201.70,36.62 201.95,38.08 202.20,39.84 202.45,41.90 202.70,44.25 202.95,46.87 203.20,49.75 203.45,52.87 203.70,56.21 203.95,59.76 204.20,63.50 204.45,67.40 204.70,71.44 204.95,75.61 205.20,79.87 205.45,84.21 205.70,88.59 205.95,93.00 206.20,97.41 206.45,101.79 206.70,106.13 206.95,110.39 207.20,114.56 207.45,118.60 207.70,122.50 207.95,126.24 208.20,129.79 208.45,133.13 208.70,136.25 208.95,139.13 209.20,141.75 209.45,144.10 209.70,146.16 209.95,147.92 210.20,149.38 210.45,150.52 210.70,151.34 210.95,151.84 211.20,152.00 211.45,151.83 211.70,151.31 211.95,150.45 212.20,149.26 212.46,147.74 212.71,145.90 212.96,143.75 213.21,141.30 213.46,138.57 213.71,135.58 213.96,132.34 214.21,128.87 214.47,125.18 214.72,121.32 214.97,117.28 215.22,113.11 215.47,108.82 215.72,104.44 215.97,99.99 216.22,95.50 216.48,91.00 216.73,86.51 216.98,82.06 217.23,77.68 217.48,73.39 217.73,69.22 217.98,65.18 218.23,61.32 218.49,57.63 218.74,54.16 218.99,50.92 219.24,47.93 219.49,45.20 219.74,42.75 219.99,40.60 220.24,38.76 220.50,37.24 220.75,36.05 221.00,35.19 221.25,34.67 221.50,34.50 221.75,34.66 222.00,35.16 222.25,35.97 222.50,37.11 222.75,38.56 223.00,40.32 223.25,42.37 223.50,44.71 223.75,47.32 224.00,50.18 224.25,53.29 224.50,56.62 224.75,60.15 225.00,63.87 225.25,67.76 225.50,71.79 225.75,75.93 226.00,80.18 226.25,84.49 226.50,88.86 226.75,93.25 227.00,97.64 227.25,102.01 227.50,106.32 227.75,110.57 228.00,114.71 228.25,118.74 228.50,122.62 228.75,126.35 229.00,129.88 229.25,133.21 229.50,136.32 229.75,139.18 230.00,141.79 230.25,144.13 230.50,146.18 230.75,147.94 231.00,149.39 231.25,150.53 231.50,151.34 231.75,151.84 232.00,152.00 232.25,151.84 232.50,151.34 232.76,150.53 233.01,149.39 233.26,147.94 233.51,146.18 233.77,144.13 234.02,141.79 234.27,139.18 234.52,136.32 234.78,133.21 235.03,129.88 235.28,126.35 235.53,122.62 235.79,118.74 236.04,114.71 236.29,110.57 236.54,106.32 236.80,102.01 237.05,97.64 237.30,93.25 237.55,88.86 237.80,84.49 238.06,80.18 238.31,75.93 238.56,71.79 238.81,67.76 239.07,63.88 239.32,60.15 239.57,56.62 239.82,53.29 240.08,50.18 240.33,47.32 240.58,44.71 240.83,42.37 241.09,40.32 241.34,38.56 241.59,37.11 241.84,35.97 242.10,35.16 242.35,34.66 242.60,34.50 242.85,34.67 243.11,35.19 243.36,36.05 243.61,37.24 243.87,38.76 244.12,40.60 244.38,42.75 244.63,45.20 244.88,47.93 245.14,50.92 245.39,54.16 245.64,57.63 245.90,61.32 246.15,65.18 246.40,69.22 246.66,73.39 246.91,77.68 247.17,82.06 247.42,86.51 247.67,91.00 247.93,95.50 248.18,99.99 248.43,104.44 248.69,108.82 248.94,113.11 249.20,117.28 249.45,121.32 249.70,125.18 249.96,128.87 250.21,132.34 250.46,135.58 250.72,138.57 250.97,141.30 251.22,143.75 251.48,145.90 251.73,147.74 251.99,149.26 252.24,150.45 252.49,151.31 252.75,151.83 253.00,152.00" fill="none" stroke="#008000" stroke-width="1.45" stroke-linejoin="round" />
</g>
<line x1="37.8" y1="172.30" x2="40.0" y2="172.30" stroke="#707070" stroke-width="1"/>
<line x1="244.3" y1="172.30" x2="246.5" y2="172.30" stroke="#707070" stroke-width="1"/>
<line x1="37.8" y1="132.82" x2="40.0" y2="132.82" stroke="#707070" stroke-width="1"/>
<line x1="244.3" y1="132.82" x2="246.5" y2="132.82" stroke="#707070" stroke-width="1"/>
<line x1="37.8" y1="93.35" x2="40.0" y2="93.35" stroke="#707070" stroke-width="1"/>
<line x1="244.3" y1="93.35" x2="246.5" y2="93.35" stroke="#707070" stroke-width="1"/>
<line x1="37.8" y1="53.87" x2="40.0" y2="53.87" stroke="#707070" stroke-width="1"/>
<line x1="244.3" y1="53.87" x2="246.5" y2="53.87" stroke="#707070" stroke-width="1"/>
<line x1="37.8" y1="14.40" x2="40.0" y2="14.40" stroke="#707070" stroke-width="1"/>
<line x1="244.3" y1="14.40" x2="246.5" y2="14.40" stroke="#707070" stroke-width="1"/>
<line x1="37.80" y1="179.9" x2="37.80" y2="177.70000000000002" stroke="#707070" stroke-width="1"/>
<line x1="37.80" y1="6.8" x2="37.80" y2="9.0" stroke="#707070" stroke-width="1"/>
<line x1="89.97" y1="179.9" x2="89.97" y2="177.70000000000002" stroke="#707070" stroke-width="1"/>
<line x1="89.97" y1="6.8" x2="89.97" y2="9.0" stroke="#707070" stroke-width="1"/>
<line x1="142.15" y1="179.9" x2="142.15" y2="177.70000000000002" stroke="#707070" stroke-width="1"/>
<line x1="142.15" y1="6.8" x2="142.15" y2="9.0" stroke="#707070" stroke-width="1"/>
<line x1="194.32" y1="179.9" x2="194.32" y2="177.70000000000002" stroke="#707070" stroke-width="1"/>
<line x1="194.32" y1="6.8" x2="194.32" y2="9.0" stroke="#707070" stroke-width="1"/>
<line x1="246.50" y1="179.9" x2="246.50" y2="177.70000000000002" stroke="#707070" stroke-width="1"/>
<line x1="246.50" y1="6.8" x2="246.50" y2="9.0" stroke="#707070" stroke-width="1"/>
<path d="M37.20,6.8H247.10M37.20,179.9H247.10" stroke="#707070" stroke-width="1.6" fill="none"/>
<path d="M37.8,6.8V179.9M246.5,6.8V179.9" stroke="#707070" stroke-width="1.2" fill="none"/>
<text transform="translate(34.20,177.90) scale(0.72,1)" text-anchor="end" class="tk">-1</text>
<text transform="translate(34.20,138.42) scale(0.72,1)" text-anchor="end" class="tk">-0.5</text>
<text transform="translate(34.20,98.95) scale(0.72,1)" text-anchor="end" class="tk">0</text>
<text transform="translate(34.20,59.47) scale(0.72,1)" text-anchor="end" class="tk">0.5</text>
<text transform="translate(34.20,20.00) scale(0.72,1)" text-anchor="end" class="tk">1</text>
<text transform="translate(37.80,196.90) scale(0.72,1)" text-anchor="middle" class="tk">0</text>
<text transform="translate(89.97,196.90) scale(0.72,1)" text-anchor="middle" class="tk">0.05</text>
<text transform="translate(142.15,196.90) scale(0.72,1)" text-anchor="middle" class="tk">0.1</text>
<text transform="translate(194.32,196.90) scale(0.72,1)" text-anchor="middle" class="tk">0.15</text>
<text transform="translate(246.50,196.90) scale(0.72,1)" text-anchor="middle" class="tk">0.2</text>
<text transform="translate(142.15,215.00) scale(0.72,1)" text-anchor="middle" class="xl">Time(sec)</text>
<text transform="translate(16.20,93.35) scale(0.68,1) rotate(-90)" text-anchor="middle" class="yl" textLength="93.4" lengthAdjust="spacingAndGlyphs">Current(A) in pu</text>
<text transform="translate(137.80,237.00) scale(0.72,1)" text-anchor="middle" class="cap">(a)</text>
<line x1="324.5" y1="137.50" x2="533.6" y2="137.50" stroke="#e6e6e6" stroke-width="0.9"/>
<line x1="324.5" y1="94.25" x2="533.6" y2="94.25" stroke="#e6e6e6" stroke-width="0.9"/>
<line x1="324.5" y1="51.00" x2="533.6" y2="51.00" stroke="#e6e6e6" stroke-width="0.9"/>
<line x1="376.77" y1="7.7" x2="376.77" y2="180.8" stroke="#e6e6e6" stroke-width="0.9"/>
<line x1="429.05" y1="7.7" x2="429.05" y2="180.8" stroke="#e6e6e6" stroke-width="0.9"/>
<line x1="481.33" y1="7.7" x2="481.33" y2="180.8" stroke="#e6e6e6" stroke-width="0.9"/>
<defs><clipPath id="cb"><rect x="324.50" y="7.70" width="209.10" height="173.10"/></clipPath></defs>
<g clip-path="url(#cb)"><g filter="url(#blr)">
<g transform="scale(1.0,1)" fill="none" stroke="#0000ff" stroke-linejoin="round">
<path d="M324.50,101.19 L324.72,97.75 L324.93,94.30 L325.14,90.85 L325.36,87.41 L325.56,84.00 L325.77,80.64 L325.97,77.33 L326.18,74.10 L326.38,70.95 L326.58,67.90 L326.77,64.97 L326.97,62.16 L327.16,59.49 L327.35,56.96 L327.54,54.60 L327.73,52.41 L327.92,50.40 L328.10,48.57 L328.29,46.94 L328.47,45.51 L328.65,44.29 L328.83,43.29 L329.01,42.50 L329.19,41.94 L329.37,41.60 L329.54,41.49 L329.71,41.60 L329.89,41.93 L330.06,42.50 L330.23,43.28 L330.40,44.28 L330.56,45.50 L330.73,46.92 L330.90,48.55 L331.06,50.37 L331.23,52.39 L331.39,54.58 L331.55,56.94 L331.71,59.46 L331.87,62.13 L332.03,64.94 L332.19,67.87 L332.35,70.92 L332.50,74.06 L332.66,77.30 L332.81,80.60 L332.96,83.97 L333.12,87.37" stroke-width="0.950"/>
<path d="M333.12,87.37 L333.27,90.81 L333.42,94.26 L333.57,97.72 L333.72,101.15 L333.87,104.56 L334.02,107.93 L334.17,111.23 L334.31,114.46 L334.46,117.61 L334.60,120.65 L334.75,123.59 L334.89,126.39 L335.03,129.06 L335.18,131.58 L335.32,133.94 L335.46,136.13 L335.60,138.14 L335.74,139.96 L335.88,141.59 L336.02,143.01 L336.16,144.23 L336.29,145.23 L336.43,146.01 L336.57,146.57 L336.70,146.91 L336.84,147.01 L336.97,146.90 L337.11,146.56 L337.24,145.99 L337.37,145.20 L337.51,144.20 L337.64,142.98 L337.77,141.55 L337.90,139.92 L338.03,138.09 L338.16,136.07 L338.29,133.88 L338.42,131.52 L338.55,128.99 L338.67,126.32 L338.80,123.51 L338.93,120.57 L339.05,117.52 L339.18,114.38 L339.31,111.14 L339.43,107.83 L339.56,104.47 L339.68,101.06" stroke-width="0.950"/>
<path d="M339.68,101.06 L339.80,97.62 L339.93,94.17 L340.05,90.72 L340.17,87.28 L340.29,83.87 L340.42,80.51 L340.54,77.21 L340.66,73.98 L340.78,70.83 L340.90,67.79 L341.02,64.86 L341.14,62.05 L341.26,59.39 L341.37,56.87 L341.49,54.51 L341.61,52.33 L341.73,50.32 L341.84,48.50 L341.96,46.88 L342.08,45.46 L342.19,44.25 L342.31,43.25 L342.42,42.48 L342.54,41.92 L342.65,41.59 L342.77,41.49 L342.88,41.61 L342.99,41.95 L343.11,42.52 L343.22,43.31 L343.33,44.32 L343.45,45.55 L343.56,46.98 L343.67,48.62 L343.78,50.45 L343.89,52.47 L344.00,54.66 L344.11,57.03 L344.22,59.56 L344.33,62.23 L344.44,65.05 L344.55,67.99 L344.66,71.04 L344.77,74.19 L344.87,77.42 L344.98,80.73 L345.09,84.10 L345.20,87.51" stroke-width="0.950"/>
<path d="M345.20,87.51 L345.30,90.94 L345.41,94.40 L345.52,97.85 L345.62,101.29 L345.73,104.69 L345.84,108.05 L345.94,111.36 L346.05,114.59 L346.15,117.73 L346.26,120.77 L346.36,123.70 L346.46,126.50 L346.57,129.16 L346.67,131.68 L346.77,134.03 L346.88,136.21 L346.98,138.22 L347.08,140.03 L347.18,141.65 L347.29,143.06 L347.39,144.27 L347.49,145.26 L347.59,146.04 L347.69,146.59 L347.79,146.91 L347.89,147.01 L347.99,146.89 L348.09,146.54 L348.19,145.96 L348.29,145.17 L348.39,144.15 L348.49,142.93 L348.59,141.49 L348.69,139.85 L348.79,138.01 L348.89,135.99 L348.99,133.79 L349.08,131.42 L349.18,128.89 L349.28,126.21 L349.38,123.40 L349.47,120.46 L349.57,117.40 L349.67,114.25 L349.76,111.01 L349.86,107.70 L349.96,104.34 L350.05,100.93" stroke-width="0.950"/>
<path d="M350.05,100.93 L350.15,97.49 L350.24,94.04 L350.34,90.58 L350.43,87.15 L350.53,83.74 L350.62,80.38 L350.72,77.08 L350.81,73.85 L350.91,70.71 L351.00,67.67 L351.09,64.75 L351.19,61.95 L351.28,59.29 L351.37,56.78 L351.47,54.43 L351.56,52.25 L351.65,50.25 L351.74,48.44 L351.84,46.82 L351.93,45.41 L352.02,44.21 L352.11,43.22 L352.20,42.45 L352.29,41.91 L352.39,41.58 L352.48,41.49 L352.57,41.61 L352.66,41.97 L352.75,42.55 L352.84,43.35 L352.93,44.37 L353.02,45.60 L353.11,47.04 L353.20,48.68 L353.29,50.52 L353.38,52.55 L353.47,54.75 L353.56,57.13 L353.64,59.66 L353.73,62.34 L353.82,65.16 L353.91,68.10 L354.00,71.16 L354.09,74.31 L354.17,77.55 L354.26,80.86 L354.35,84.23 L354.44,87.64" stroke-width="0.950"/>
<path d="M354.44,87.64 L354.52,91.08 L354.61,94.53 L354.70,97.98 L354.79,101.42 L354.87,104.82 L354.96,108.18 L355.04,111.48 L355.13,114.71 L355.22,117.85 L355.30,120.89 L355.39,123.81 L355.47,126.60 L355.56,129.26 L355.65,131.77 L355.73,134.12 L355.82,136.29 L355.90,138.29 L355.99,140.10 L356.07,141.71 L356.15,143.11 L356.24,144.31 L356.32,145.30 L356.41,146.06 L356.49,146.60 L356.58,146.92 L356.66,147.01 L356.74,146.88 L356.83,146.52 L356.91,145.94 L356.99,145.13 L357.08,144.11 L357.16,142.87 L357.24,141.43 L357.32,139.78 L357.41,137.94 L357.49,135.91 L357.57,133.70 L357.65,131.33 L357.74,128.79 L357.82,126.11 L357.90,123.29 L357.98,120.34 L358.06,117.28 L358.14,114.13 L358.23,110.89 L358.31,107.58 L358.39,104.21 L358.47,100.80" stroke-width="0.940"/>
<path d="M358.47,100.80 L358.55,97.36 L358.63,93.90 L358.71,90.45 L358.79,87.02 L358.87,83.61 L358.95,80.25 L359.03,76.95 L359.11,73.73 L359.19,70.59 L359.27,67.56 L359.35,64.64 L359.43,61.84 L359.51,59.19 L359.59,56.68 L359.67,54.34 L359.75,52.17 L359.83,50.17 L359.90,48.37 L359.98,46.76 L360.06,45.36 L360.14,44.17 L360.22,43.19 L360.30,42.43 L360.38,41.89 L360.45,41.57 L360.53,41.49 L360.61,41.62 L360.69,41.99 L360.76,42.58 L360.84,43.38 L360.92,44.41 L361.00,45.65 L361.07,47.10 L361.15,48.75 L361.23,50.60 L361.30,52.63 L361.38,54.84 L361.46,57.22 L361.53,59.76 L361.61,62.45 L361.69,65.27 L361.76,68.22 L361.84,71.28 L361.92,74.43 L361.99,77.68 L362.07,80.99 L362.14,84.36 L362.22,87.77" stroke-width="0.930"/>
<path d="M362.22,87.77 L362.30,91.21 L362.37,94.66 L362.45,98.12 L362.52,101.55 L362.60,104.95 L362.67,108.31 L362.75,111.61 L362.82,114.83 L362.90,117.97 L362.97,121.00 L363.05,123.92 L363.12,126.71 L363.19,129.36 L363.27,131.86 L363.34,134.20 L363.42,136.37 L363.49,138.36 L363.57,140.16 L363.64,141.77 L363.71,143.16 L363.79,144.35 L363.86,145.33 L363.93,146.09 L364.01,146.62 L364.08,146.93 L364.15,147.01 L364.23,146.87 L364.30,146.50 L364.37,145.91 L364.45,145.10 L364.52,144.07 L364.59,142.82 L364.66,141.37 L364.74,139.71 L364.81,137.87 L364.88,135.83 L364.95,133.61 L365.03,131.23 L365.10,128.69 L365.17,126.00 L365.24,123.17 L365.31,120.22 L365.39,117.16 L365.46,114.00 L365.53,110.76 L365.60,107.45 L365.67,104.08 L365.74,100.66" stroke-width="0.930"/>
<path d="M365.74,100.66 L365.81,97.22 L365.89,93.77 L365.96,90.32 L366.03,86.88 L366.10,83.48 L366.17,80.12 L366.24,76.83 L366.31,73.61 L366.38,70.47 L366.45,67.44 L366.52,64.53 L366.59,61.74 L366.66,59.09 L366.73,56.59 L366.80,54.25 L366.87,52.09 L366.94,50.10 L367.01,48.30 L367.08,46.71 L367.15,45.31 L367.22,44.12 L367.29,43.15 L367.36,42.40 L367.43,41.87 L367.50,41.57 L367.57,41.49 L367.64,41.63 L367.71,42.01 L367.78,42.60 L367.85,43.42 L367.91,44.46 L367.98,45.70 L368.05,47.16 L368.12,48.82 L368.19,50.67 L368.26,52.71 L368.33,54.93 L368.39,57.32 L368.46,59.86 L368.53,62.55 L368.60,65.38 L368.67,68.33 L368.74,71.40 L368.80,74.56 L368.87,77.80 L368.94,81.12 L369.01,84.49 L369.07,87.90" stroke-width="0.920"/>
<path d="M369.07,87.90 L369.14,91.34 L369.21,94.80 L369.28,98.25 L369.34,101.68 L369.41,105.08 L369.48,108.44 L369.55,111.74 L369.61,114.95 L369.68,118.09 L369.75,121.11 L369.81,124.03 L369.88,126.82 L369.95,129.46 L370.01,131.96 L370.08,134.29 L370.15,136.45 L370.21,138.44 L370.28,140.23 L370.35,141.82 L370.41,143.21 L370.48,144.40 L370.55,145.36 L370.61,146.11 L370.68,146.64 L370.74,146.94 L370.81,147.01 L370.88,146.86 L370.94,146.48 L371.01,145.88 L371.07,145.06 L371.14,144.02 L371.20,142.77 L371.27,141.31 L371.33,139.65 L371.40,137.79 L371.47,135.75 L371.53,133.53 L371.60,131.14 L371.66,128.59 L371.73,125.89 L371.79,123.06 L371.86,120.11 L371.92,117.04 L371.99,113.88 L372.05,110.63 L372.11,107.32 L372.18,103.94 L372.24,100.53" stroke-width="0.920"/>
<path d="M372.24,100.53 L372.31,97.09 L372.37,93.64 L372.44,90.18 L372.50,86.75 L372.57,83.35 L372.63,80.00 L372.69,76.70 L372.76,73.48 L372.82,70.35 L372.89,67.33 L372.95,64.42 L373.01,61.63 L373.08,58.99 L373.14,56.50 L373.20,54.17 L373.27,52.01 L373.33,50.03 L373.39,48.24 L373.46,46.65 L373.52,45.26 L373.58,44.08 L373.65,43.12 L373.71,42.38 L373.77,41.86 L373.84,41.56 L373.90,41.49 L373.96,41.64 L374.03,42.03 L374.09,42.63 L374.15,43.46 L374.21,44.50 L374.28,45.76 L374.34,47.22 L374.40,48.89 L374.46,50.75 L374.53,52.79 L374.59,55.02 L374.65,57.41 L374.71,59.96 L374.78,62.66 L374.84,65.49 L374.90,68.45 L374.96,71.52 L375.02,74.68 L375.09,77.93 L375.15,81.25 L375.21,84.62 L375.27,88.04" stroke-width="0.910"/>
<path d="M375.27,88.04 L375.33,91.48 L375.40,94.93 L375.46,98.38 L375.52,101.81 L375.58,105.22 L375.64,108.57 L375.70,111.86 L375.76,115.08 L375.83,118.20 L375.89,121.23 L375.95,124.14 L376.01,126.92 L376.07,129.56 L376.13,132.05 L376.19,134.38 L376.25,136.53 L376.31,138.51 L376.38,140.29 L376.44,141.88 L376.50,143.26 L376.56,144.44 L376.62,145.40 L376.68,146.14 L376.74,146.65 L376.80,146.94 L376.86,147.01 L376.92,146.85 L376.98,146.47 L377.04,145.86 L377.10,145.03 L377.16,143.98 L377.22,142.72 L377.28,141.25 L377.34,139.58 L377.40,137.71 L377.46,135.66 L377.52,133.44 L377.58,131.04 L377.64,128.49 L377.70,125.79 L377.76,122.95 L377.82,119.99 L377.88,116.92 L377.94,113.76 L378.00,110.51 L378.06,107.19 L378.12,103.81 L378.18,100.40" stroke-width="0.910"/>
<path d="M378.18,100.40 L378.24,96.96 L378.30,93.50 L378.35,90.05 L378.41,86.62 L378.47,83.22 L378.53,79.87 L378.59,76.58 L378.65,73.36 L378.71,70.24 L378.77,67.21 L378.83,64.31 L378.89,61.53 L378.94,58.89 L379.00,56.40 L379.06,54.08 L379.12,51.93 L379.18,49.96 L379.24,48.17 L379.30,46.59 L379.35,45.21 L379.41,44.04 L379.47,43.09 L379.53,42.35 L379.59,41.84 L379.65,41.55 L379.70,41.49 L379.76,41.65 L379.82,42.04 L379.88,42.66 L379.94,43.49 L379.99,44.54 L380.05,45.81 L380.11,47.28 L380.17,48.96 L380.23,50.82 L380.28,52.88 L380.34,55.11 L380.40,57.51 L380.46,60.06 L380.51,62.77 L380.57,65.61 L380.63,68.57 L380.69,71.64 L380.74,74.80 L380.80,78.06 L380.86,81.38 L380.91,84.75 L380.97,88.17" stroke-width="0.910"/>
<path d="M380.97,88.17 L381.03,91.61 L381.09,95.06 L381.14,98.51 L381.20,101.95 L381.26,105.35 L381.31,108.70 L381.37,111.99 L381.43,115.20 L381.48,118.32 L381.54,121.34 L381.60,124.25 L381.66,127.02 L381.71,129.66 L381.77,132.14 L381.83,134.46 L381.88,136.61 L381.94,138.58 L381.99,140.36 L382.05,141.94 L382.11,143.31 L382.16,144.48 L382.22,145.43 L382.28,146.16 L382.33,146.67 L382.39,146.95 L382.44,147.01 L382.50,146.84 L382.56,146.45 L382.61,145.83 L382.67,144.99 L382.72,143.93 L382.78,142.66 L382.84,141.19 L382.89,139.51 L382.95,137.64 L383.00,135.58 L383.06,133.35 L383.12,130.94 L383.17,128.38 L383.23,125.68 L383.28,122.84 L383.34,119.88 L383.39,116.80 L383.45,113.63 L383.50,110.38 L383.56,107.06 L383.61,103.68 L383.67,100.27" stroke-width="0.900"/>
<path d="M383.67,100.27 L383.72,96.82 L383.78,93.37 L383.83,89.92 L383.89,86.49 L383.95,83.09 L384.00,79.74 L384.06,76.45 L384.11,73.24 L384.17,70.12 L384.22,67.10 L384.27,64.20 L384.33,61.42 L384.38,58.79 L384.44,56.31 L384.49,53.99 L384.55,51.85 L384.60,49.88 L384.66,48.11 L384.71,46.53 L384.77,45.16 L384.82,44.00 L384.88,43.06 L384.93,42.33 L384.98,41.83 L385.04,41.55 L385.09,41.49 L385.15,41.67 L385.20,42.06 L385.26,42.69 L385.31,43.53 L385.36,44.59 L385.42,45.86 L385.47,47.34 L385.53,49.02 L385.58,50.90 L385.63,52.96 L385.69,55.20 L385.74,57.60 L385.80,60.17 L385.85,62.87 L385.90,65.72 L385.96,68.68 L386.01,71.76 L386.06,74.93 L386.12,78.18 L386.17,81.51 L386.23,84.88 L386.28,88.30" stroke-width="0.900"/>
<path d="M386.28,88.30 L386.33,91.74 L386.39,95.20 L386.44,98.65 L386.49,102.08 L386.55,105.48 L386.60,108.83 L386.65,112.11 L386.71,115.32 L386.76,118.44 L386.81,121.46 L386.86,124.36 L386.92,127.13 L386.97,129.76 L387.02,132.24 L387.08,134.55 L387.13,136.69 L387.18,138.65 L387.24,140.42 L387.29,142.00 L387.34,143.36 L387.39,144.52 L387.45,145.46 L387.50,146.18 L387.55,146.68 L387.61,146.96 L387.66,147.01 L387.71,146.83 L387.76,146.43 L387.82,145.80 L387.87,144.95 L387.92,143.89 L387.97,142.61 L388.03,141.13 L388.08,139.44 L388.13,137.56 L388.18,135.50 L388.23,133.26 L388.29,130.85 L388.34,128.28 L388.39,125.57 L388.44,122.73 L388.50,119.76 L388.55,116.68 L388.60,113.51 L388.65,110.25 L388.70,106.93 L388.76,103.55 L388.81,100.13" stroke-width="0.900"/>
<path d="M388.81,100.13 L388.86,96.69 L388.91,93.24 L388.96,89.79 L389.02,86.36 L389.07,82.96 L389.12,79.61 L389.17,76.33 L389.22,73.12 L389.27,70.00 L389.33,66.98 L389.38,64.09 L389.43,61.32 L389.48,58.69 L389.53,56.22 L389.58,53.91 L389.63,51.77 L389.69,49.81 L389.74,48.04 L389.79,46.48 L389.84,45.11 L389.89,43.96 L389.94,43.02 L389.99,42.31 L390.04,41.81 L390.10,41.54 L390.15,41.50 L390.20,41.68 L390.25,42.08 L390.30,42.71 L390.35,43.57 L390.40,44.63 L390.45,45.92 L390.50,47.40 L390.55,49.09 L390.61,50.98 L390.66,53.04 L390.71,55.29 L390.76,57.70 L390.81,60.27 L390.86,62.98 L390.91,65.83 L390.96,68.80 L391.01,71.88 L391.06,75.05 L391.11,78.31 L391.16,81.64 L391.21,85.01 L391.26,88.43" stroke-width="0.900"/>
<path d="M391.26,88.43 L391.31,91.88 L391.36,95.33 L391.41,98.78 L391.47,102.21 L391.52,105.61 L391.57,108.95 L391.62,112.24 L391.67,115.44 L391.72,118.56 L391.77,121.57 L391.82,124.47 L391.87,127.23 L391.92,129.86 L391.97,132.33 L392.02,134.64 L392.07,136.77 L392.12,138.73 L392.17,140.49 L392.22,142.05 L392.27,143.41 L392.32,144.56 L392.37,145.49 L392.42,146.21 L392.47,146.70 L392.52,146.96 L392.57,147.00 L392.62,146.82 L392.67,146.41 L392.71,145.77 L392.76,144.92 L392.81,143.84 L392.86,142.56 L392.91,141.07 L392.96,139.37 L393.01,137.49 L393.06,135.41 L393.11,133.17 L393.16,130.75 L393.21,128.18 L393.26,125.46 L393.31,122.61 L393.36,119.64 L393.41,116.56 L393.46,113.38 L393.51,110.13 L393.55,106.80 L393.60,103.42 L393.65,100.00" stroke-width="0.900"/>
<path d="M393.65,100.00 L393.70,96.56 L393.75,93.10 L393.80,89.65 L393.85,86.22 L393.90,82.83 L393.95,79.48 L394.00,76.20 L394.04,72.99 L394.09,69.88 L394.14,66.87 L394.19,63.98 L394.24,61.21 L394.29,58.59 L394.34,56.13 L394.39,53.82 L394.44,51.69 L394.48,49.74 L394.53,47.98 L394.58,46.42 L394.63,45.06 L394.68,43.92 L394.73,42.99 L394.78,42.28 L394.82,41.80 L394.87,41.53 L394.92,41.50 L394.97,41.69 L395.02,42.10 L395.07,42.74 L395.11,43.60 L395.16,44.68 L395.21,45.97 L395.26,47.47 L395.31,49.16 L395.36,51.05 L395.40,53.13 L395.45,55.38 L395.50,57.80 L395.55,60.37 L395.60,63.09 L395.64,65.94 L395.69,68.92 L395.74,72.00 L395.79,75.18 L395.84,78.44 L395.88,81.76 L395.93,85.15 L395.98,88.57" stroke-width="0.900"/>
<path d="M395.98,88.57 L396.03,92.01 L396.08,95.46 L396.12,98.91 L396.17,102.34 L396.22,105.74 L396.27,109.08 L396.31,112.36 L396.36,115.57 L396.41,118.68 L396.46,121.69 L396.51,124.58 L396.55,127.34 L396.60,129.96 L396.65,132.42 L396.70,134.72 L396.74,136.85 L396.79,138.80 L396.84,140.55 L396.89,142.11 L396.93,143.46 L396.98,144.60 L397.03,145.52 L397.07,146.23 L397.12,146.71 L397.17,146.97 L397.22,147.00 L397.26,146.81 L397.31,146.39 L397.36,145.74 L397.41,144.88 L397.45,143.80 L397.50,142.50 L397.55,141.00 L397.59,139.30 L397.64,137.41 L397.69,135.33 L397.73,133.08 L397.78,130.66 L397.83,128.08 L397.88,125.36 L397.92,122.50 L397.97,119.52 L398.02,116.44 L398.06,113.26 L398.11,110.00 L398.16,106.67 L398.20,103.29 L398.25,99.87" stroke-width="0.900"/>
<path d="M398.25,99.87 L398.30,96.42 L398.34,92.97 L398.39,89.52 L398.44,86.09 L398.48,82.70 L398.53,79.35 L398.58,76.07 L398.62,72.87 L398.67,69.76 L398.72,66.76 L398.76,63.87 L398.81,61.11 L398.86,58.50 L398.90,56.03 L398.95,53.73 L398.99,51.61 L399.04,49.67 L399.09,47.92 L399.13,46.36 L399.18,45.02 L399.23,43.88 L399.27,42.96 L399.32,42.26 L399.36,41.78 L399.41,41.53 L399.46,41.50 L399.50,41.70 L399.55,42.12 L399.60,42.77 L399.64,43.64 L399.69,44.73 L399.73,46.02 L399.78,47.53 L399.83,49.23 L399.87,51.13 L399.92,53.21 L399.96,55.47 L400.01,57.89 L400.06,60.47 L400.10,63.20 L400.15,66.06 L400.19,69.03 L400.24,72.12 L400.28,75.30 L400.33,78.56 L400.38,81.89 L400.42,85.28 L400.47,88.70" stroke-width="0.900"/>
<path d="M400.47,88.70 L400.51,92.14 L400.56,95.60 L400.60,99.05 L400.65,102.47 L400.69,105.87 L400.74,109.21 L400.79,112.49 L400.83,115.69 L400.88,118.80 L400.92,121.80 L400.97,124.69 L401.01,127.44 L401.06,130.05 L401.10,132.51 L401.15,134.81 L401.19,136.93 L401.24,138.87 L401.29,140.62 L401.33,142.16 L401.38,143.51 L401.42,144.64 L401.47,145.56 L401.51,146.25 L401.56,146.73 L401.60,146.97 L401.65,147.00 L401.69,146.79 L401.74,146.36 L401.78,145.71 L401.83,144.84 L401.87,143.75 L401.92,142.45 L401.96,140.94 L402.01,139.23 L402.05,137.33 L402.10,135.25 L402.14,132.99 L402.19,130.56 L402.23,127.98 L402.28,125.25 L402.32,122.39 L402.37,119.41 L402.41,116.32 L402.46,113.14 L402.50,109.87 L402.54,106.54 L402.59,103.16 L402.63,99.74" stroke-width="0.900"/>
<path d="M402.63,99.74 L402.68,96.29 L402.72,92.84 L402.77,89.39 L402.81,85.96 L402.86,82.57 L402.90,79.23 L402.95,75.95 L402.99,72.75 L403.04,69.64 L403.08,66.64 L403.12,63.76 L403.17,61.01 L403.21,58.40 L403.26,55.94 L403.30,53.65 L403.35,51.53 L403.39,49.60 L403.44,47.85 L403.48,46.31 L403.52,44.97 L403.57,43.84 L403.61,42.93 L403.66,42.24 L403.70,41.77 L403.74,41.52 L403.79,41.50 L403.83,41.71 L403.88,42.15 L403.92,42.80 L403.97,43.68 L404.01,44.77 L404.05,46.08 L404.10,47.59 L404.14,49.30 L404.19,51.21 L404.23,53.29 L404.27,55.56 L404.32,57.99 L404.36,60.58 L404.40,63.31 L404.45,66.17 L404.49,69.15 L404.54,72.24 L404.58,75.43 L404.62,78.69 L404.67,82.02 L404.71,85.41 L404.76,88.83" stroke-width="0.900"/>
<path d="M404.76,88.83 L404.80,92.28 L404.84,95.73 L404.89,99.18 L404.93,102.61 L404.97,106.00 L405.02,109.34 L405.06,112.61 L405.10,115.81 L405.15,118.92 L405.19,121.91 L405.24,124.79 L405.28,127.54 L405.32,130.15 L405.37,132.60 L405.41,134.89 L405.45,137.01 L405.50,138.94 L405.54,140.68 L405.58,142.22 L405.63,143.56 L405.67,144.68 L405.71,145.59 L405.76,146.27 L405.80,146.74 L405.84,146.98 L405.89,146.99 L405.93,146.78 L405.97,146.34 L406.02,145.68 L406.06,144.80 L406.10,143.70 L406.15,142.40 L406.19,140.88 L406.23,139.16 L406.27,137.26 L406.32,135.16 L406.36,132.90 L406.40,130.46 L406.45,127.87 L406.49,125.14 L406.53,122.28 L406.58,119.29 L406.62,116.20 L406.66,113.01 L406.70,109.74 L406.75,106.41 L406.79,103.03 L406.83,99.60" stroke-width="0.900"/>
<path d="M406.83,99.60 L406.88,96.16 L406.92,92.70 L406.96,89.25 L407.00,85.83 L407.05,82.44 L407.09,79.10 L407.13,75.82 L407.18,72.63 L407.22,69.53 L407.26,66.53 L407.30,63.65 L407.35,60.90 L407.39,58.30 L407.43,55.85 L407.47,53.56 L407.52,51.45 L407.56,49.53 L407.60,47.79 L407.64,46.25 L407.69,44.92 L407.73,43.80 L407.77,42.90 L407.81,42.21 L407.86,41.75 L407.90,41.52 L407.94,41.51 L407.98,41.73 L408.03,42.17 L408.07,42.83 L408.11,43.72 L408.15,44.82 L408.20,46.13 L408.24,47.65 L408.28,49.37 L408.32,51.28 L408.36,53.38 L408.41,55.65 L408.45,58.09 L408.49,60.68 L408.53,63.41 L408.58,66.28 L408.62,69.27 L408.66,72.36 L408.70,75.55 L408.74,78.82 L408.79,82.15 L408.83,85.54 L408.87,88.96" stroke-width="0.900"/>
<path d="M408.87,88.96 L408.91,92.41 L408.95,95.86 L409.00,99.31 L409.04,102.74 L409.08,106.13 L409.12,109.47 L409.16,112.74 L409.21,115.93 L409.25,119.03 L409.29,122.03 L409.33,124.90 L409.37,127.65 L409.41,130.25 L409.46,132.70 L409.50,134.98 L409.54,137.09 L409.58,139.01 L409.62,140.74 L409.67,142.28 L409.71,143.60 L409.75,144.72 L409.79,145.62 L409.83,146.30 L409.87,146.75 L409.92,146.98 L409.96,146.99 L410.00,146.77 L410.04,146.32 L410.08,145.65 L410.12,144.76 L410.16,143.66 L410.21,142.34 L410.25,140.82 L410.29,139.09 L410.33,137.18 L410.37,135.08 L410.41,132.80 L410.45,130.36 L410.50,127.77 L410.54,125.03 L410.58,122.16 L410.62,119.17 L410.66,116.08 L410.70,112.89 L410.74,109.62 L410.79,106.28 L410.83,102.89 L410.87,99.47" stroke-width="0.890"/>
<path d="M410.87,99.47 L410.91,96.02 L410.95,92.57 L410.99,89.12 L411.03,85.70 L411.07,82.31 L411.12,78.97 L411.16,75.70 L411.20,72.51 L411.24,69.41 L411.28,66.42 L411.32,63.54 L411.36,60.80 L411.40,58.20 L411.44,55.76 L411.48,53.48 L411.53,51.38 L411.57,49.45 L411.61,47.73 L411.65,46.20 L411.69,44.87 L411.73,43.76 L411.77,42.87 L411.81,42.19 L411.85,41.74 L411.89,41.51 L411.93,41.51 L411.98,41.74 L412.02,42.19 L412.06,42.86 L412.10,43.76 L412.14,44.87 L412.18,46.19 L412.22,47.71 L412.26,49.44 L412.30,51.36 L412.34,53.46 L412.38,55.74 L412.42,58.18 L412.46,60.78 L412.51,63.52 L412.55,66.39 L412.59,69.39 L412.63,72.48 L412.67,75.68 L412.71,78.95 L412.75,82.28 L412.79,85.67 L412.83,89.10" stroke-width="0.890"/>
<path d="M412.83,89.10 L412.87,92.54 L412.91,96.00 L412.95,99.44 L412.99,102.87 L413.03,106.26 L413.07,109.59 L413.11,112.86 L413.15,116.05 L413.19,119.15 L413.23,122.14 L413.27,125.01 L413.31,127.75 L413.35,130.35 L413.40,132.79 L413.44,135.06 L413.48,137.16 L413.52,139.08 L413.56,140.80 L413.60,142.33 L413.64,143.65 L413.68,144.76 L413.72,145.65 L413.76,146.32 L413.80,146.77 L413.84,146.99 L413.88,146.98 L413.92,146.75 L413.96,146.30 L414.00,145.62 L414.04,144.72 L414.08,143.61 L414.12,142.28 L414.16,140.75 L414.20,139.02 L414.24,137.10 L414.28,134.99 L414.32,132.71 L414.36,130.27 L414.40,127.67 L414.44,124.92 L414.48,122.05 L414.52,119.05 L414.56,115.95 L414.60,112.76 L414.64,109.49 L414.68,106.15 L414.72,102.76 L414.76,99.34" stroke-width="0.890"/>
<path d="M414.76,99.34 L414.80,95.89 L414.84,92.44 L414.88,88.99 L414.92,85.57 L414.96,82.18 L415.00,78.84 L415.04,75.58 L415.07,72.39 L415.11,69.29 L415.15,66.30 L415.19,63.44 L415.23,60.70 L415.27,58.11 L415.31,55.67 L415.35,53.40 L415.39,51.30 L415.43,49.39 L415.47,47.67 L415.51,46.15 L415.55,44.83 L415.59,43.73 L415.63,42.84 L415.67,42.18 L415.71,41.74 L415.75,41.52 L415.79,41.53 L415.83,41.76 L415.87,42.22 L415.91,42.90 L415.94,43.81 L415.98,44.92 L416.02,46.25 L416.06,47.79 L416.10,49.52 L416.14,51.45 L416.18,53.56 L416.22,55.84 L416.26,58.29 L416.30,60.90 L416.34,63.64 L416.38,66.52 L416.42,69.51 L416.46,72.61 L416.49,75.81 L416.53,79.08 L416.57,82.42 L416.61,85.81 L416.65,89.23" stroke-width="0.890"/>
<path d="M416.65,89.23 L416.69,92.68 L416.73,96.13 L416.77,99.57 L416.81,103.00 L416.85,106.38 L416.89,109.71 L416.93,112.97 L416.96,116.16 L417.00,119.25 L417.04,122.23 L417.08,125.09 L417.12,127.82 L417.16,130.41 L417.20,132.84 L417.24,135.11 L417.28,137.20 L417.32,139.10 L417.35,140.81 L417.39,142.33 L417.43,143.63 L417.47,144.73 L417.51,145.61 L417.55,146.27 L417.59,146.70 L417.63,146.91 L417.66,146.90 L417.70,146.66 L417.74,146.19 L417.78,145.50 L417.82,144.59 L417.86,143.47 L417.90,142.13 L417.94,140.59 L417.97,138.86 L418.01,136.93 L418.05,134.81 L418.09,132.53 L418.13,130.08 L418.17,127.48 L418.21,124.73 L418.25,121.86 L418.28,118.87 L418.32,115.77 L418.36,112.58 L418.40,109.31 L418.44,105.98 L418.48,102.60 L418.52,99.19" stroke-width="0.890"/>
<path d="M418.52,99.19 L418.55,95.75 L418.59,92.31 L418.63,88.88 L418.67,85.47 L418.71,82.10 L418.75,78.78 L418.78,75.54 L418.82,72.37 L418.86,69.30 L418.90,66.33 L418.94,63.49 L418.98,60.78 L419.01,58.21 L419.05,55.80 L419.09,53.55 L419.13,51.48 L419.17,49.60 L419.21,47.90 L419.24,46.41 L419.28,45.12 L419.32,44.05 L419.36,43.18 L419.40,42.54 L419.44,42.12 L419.47,41.93 L419.51,41.96 L419.55,42.21 L419.59,42.69 L419.63,43.38 L419.66,44.30 L419.70,45.43 L419.74,46.76 L419.78,48.31 L419.82,50.04 L419.86,51.97 L419.89,54.07 L419.93,56.35 L419.97,58.79 L420.01,61.38 L420.05,64.11 L420.08,66.96 L420.12,69.93 L420.16,73.01 L420.20,76.17 L420.24,79.41 L420.27,82.71 L420.31,86.05 L420.35,89.43" stroke-width="0.890"/>
<path d="M420.35,89.43 L420.39,92.83 L420.42,96.23 L420.46,99.62 L420.50,102.99 L420.54,106.31 L420.58,109.58 L420.61,112.79 L420.65,115.91 L420.69,118.93 L420.73,121.85 L420.77,124.65 L420.80,127.31 L420.84,129.83 L420.88,132.19 L420.92,134.39 L420.95,136.42 L420.99,138.26 L421.03,139.91 L421.07,141.37 L421.10,142.62 L421.14,143.67 L421.18,144.50 L421.22,145.11 L421.26,145.51 L421.29,145.69 L421.33,145.64 L421.37,145.38 L421.41,144.89 L421.44,144.19 L421.48,143.28 L421.52,142.15 L421.56,140.83 L421.59,139.30 L421.63,137.58 L421.67,135.68 L421.71,133.61 L421.74,131.36 L421.78,128.96 L421.82,126.42 L421.86,123.73 L421.89,120.93 L421.93,118.01 L421.97,115.00 L422.01,111.89 L422.04,108.72 L422.08,105.49 L422.12,102.21 L422.15,98.90" stroke-width="0.890"/>
<path d="M422.15,98.90 L422.19,95.57 L422.23,92.25 L422.27,88.93 L422.30,85.64 L422.34,82.39 L422.38,79.19 L422.42,76.07 L422.45,73.02 L422.49,70.06 L422.53,67.22 L422.56,64.49 L422.60,61.89 L422.64,59.43 L422.68,57.12 L422.71,54.98 L422.75,53.00 L422.79,51.21 L422.83,49.59 L422.86,48.17 L422.90,46.95 L422.94,45.94 L422.97,45.13 L423.01,44.53 L423.05,44.14 L423.08,43.97 L423.12,44.02 L423.16,44.27 L423.20,44.75 L423.23,45.43 L423.27,46.32 L423.31,47.42 L423.34,48.71 L423.38,50.20 L423.42,51.88 L423.45,53.74 L423.49,55.77 L423.53,57.96 L423.57,60.31 L423.60,62.80 L423.64,65.42 L423.68,68.16 L423.71,71.02 L423.75,73.97 L423.79,77.01 L423.82,80.12 L423.86,83.29 L423.90,86.50 L423.93,89.75" stroke-width="0.890"/>
<path d="M423.93,89.75 L423.97,93.01 L424.01,96.28 L424.04,99.54 L424.08,102.78 L424.12,105.97 L424.15,109.12 L424.19,112.20 L424.23,115.21 L424.26,118.12 L424.30,120.93 L424.34,123.63 L424.37,126.20 L424.41,128.64 L424.45,130.93 L424.48,133.06 L424.52,135.02 L424.56,136.81 L424.59,138.42 L424.63,139.84 L424.67,141.06 L424.70,142.09 L424.74,142.91 L424.78,143.52 L424.81,143.92 L424.85,144.11 L424.89,144.09 L424.92,143.85 L424.96,143.41 L425.00,142.75 L425.03,141.88 L425.07,140.81 L425.11,139.54 L425.14,138.08 L425.18,136.43 L425.21,134.59 L425.25,132.59 L425.29,130.42 L425.32,128.09 L425.36,125.62 L425.40,123.01 L425.43,120.28 L425.47,117.44 L425.51,114.49 L425.54,111.46 L425.58,108.35 L425.61,105.18 L425.65,101.96 L425.69,98.70" stroke-width="0.890"/>
<path d="M425.69,98.70 L425.72,95.43 L425.76,92.15 L425.80,88.87 L425.83,85.61 L425.87,82.39 L425.90,79.22 L425.94,76.11 L425.98,73.08 L426.01,70.13 L426.05,67.29 L426.09,64.56 L426.12,61.95 L426.16,59.48 L426.19,57.16 L426.23,54.99 L426.27,52.99 L426.30,51.16 L426.34,49.52 L426.37,48.07 L426.41,46.82 L426.45,45.76 L426.48,44.92 L426.52,44.28 L426.55,43.86 L426.59,43.65 L426.63,43.66 L426.66,43.89 L426.70,44.34 L426.73,44.99 L426.77,45.86 L426.81,46.94 L426.84,48.22 L426.88,49.70 L426.91,51.37 L426.95,53.23 L426.99,55.27 L427.02,57.47 L427.06,59.83 L427.09,62.35 L427.13,65.00 L427.16,67.78 L427.20,70.68 L427.24,73.68 L427.27,76.77 L427.31,79.94 L427.34,83.17 L427.38,86.45 L427.42,89.77" stroke-width="0.890"/>
<path d="M427.42,89.77 L427.45,93.11 L427.49,96.46 L427.52,99.80 L427.56,103.13 L427.59,106.41 L427.63,109.65 L427.67,112.82 L427.70,115.91 L427.74,118.92 L427.77,121.82 L427.81,124.61 L427.84,127.26 L427.88,129.78 L427.92,132.15 L427.95,134.35 L427.99,136.39 L428.02,138.24 L428.06,139.91 L428.09,141.38 L428.13,142.65 L428.16,143.72 L428.20,144.57 L428.24,145.21 L428.27,145.63 L428.31,145.82 L428.34,145.80 L428.38,145.56 L428.41,145.09 L428.45,144.41 L428.48,143.51 L428.52,142.40 L428.55,141.08 L428.59,139.56 L428.63,137.84 L428.66,135.94 L428.70,133.86 L428.73,131.60 L428.77,129.19 L428.80,126.62 L428.84,123.91 L428.87,121.08 L428.91,118.13 L428.94,115.07 L428.98,111.93 L429.01,108.71 L429.05,105.42 L429.08,102.09 L429.12,98.72" stroke-width="0.890"/>
<path d="M429.12,98.72 L429.16,95.34 L429.19,91.94 L429.23,88.56 L429.26,85.20 L429.30,81.88 L429.33,78.61 L429.37,75.41 L429.40,72.29 L429.44,69.26 L429.47,66.34 L429.51,63.54 L429.54,60.88 L429.58,58.35 L429.61,55.98 L429.65,53.78 L429.68,51.74 L429.72,49.90 L429.75,48.24 L429.79,46.78 L429.82,45.52 L429.86,44.47 L429.89,43.64 L429.93,43.02 L429.96,42.63 L430.00,42.45 L430.03,42.50 L430.07,42.77 L430.10,43.26 L430.14,43.97 L430.17,44.90 L430.21,46.04 L430.24,47.38 L430.28,48.93 L430.31,50.67 L430.35,52.59 L430.38,54.69 L430.42,56.97 L430.45,59.40 L430.49,61.98 L430.52,64.69 L430.56,67.54 L430.59,70.49 L430.63,73.55 L430.66,76.69 L430.70,79.91 L430.73,83.19 L430.77,86.51 L430.80,89.86" stroke-width="0.890"/>
<path d="M430.80,89.86 L430.84,93.23 L430.87,96.61 L430.91,99.97 L430.94,103.30 L430.98,106.60 L431.01,109.83 L431.05,113.00 L431.08,116.09 L431.12,119.08 L431.15,121.96 L431.18,124.73 L431.22,127.35 L431.25,129.84 L431.29,132.17 L431.32,134.34 L431.36,136.33 L431.39,138.14 L431.43,139.76 L431.46,141.18 L431.50,142.41 L431.53,143.42 L431.57,144.23 L431.60,144.81 L431.64,145.18 L431.67,145.34 L431.70,145.27 L431.74,144.98 L431.77,144.48 L431.81,143.76 L431.84,142.84 L431.88,141.70 L431.91,140.36 L431.95,138.83 L431.98,137.10 L432.02,135.19 L432.05,133.11 L432.08,130.87 L432.12,128.47 L432.15,125.92 L432.19,123.24 L432.22,120.44 L432.26,117.53 L432.29,114.52 L432.33,111.43 L432.36,108.27 L432.39,105.05 L432.43,101.78 L432.46,98.49" stroke-width="0.890"/>
<path d="M432.46,98.49 L432.50,95.18 L432.53,91.87 L432.57,88.58 L432.60,85.31 L432.63,82.08 L432.67,78.90 L432.70,75.80 L432.74,72.77 L432.77,69.84 L432.81,67.02 L432.84,64.31 L432.87,61.74 L432.91,59.31 L432.94,57.02 L432.98,54.90 L433.01,52.95 L433.05,51.18 L433.08,49.59 L433.11,48.19 L433.15,47.00 L433.18,46.00 L433.22,45.22 L433.25,44.64 L433.29,44.27 L433.32,44.12 L433.35,44.19 L433.39,44.47 L433.42,44.96 L433.46,45.66 L433.49,46.57 L433.52,47.68 L433.56,48.99 L433.59,50.49 L433.63,52.18 L433.66,54.05 L433.69,56.09 L433.73,58.30 L433.76,60.65 L433.80,63.15 L433.83,65.78 L433.86,68.53 L433.90,71.39 L433.93,74.35 L433.97,77.39 L434.00,80.50 L434.03,83.67 L434.07,86.89 L434.10,90.13" stroke-width="0.890"/>
<path d="M434.10,90.13 L434.14,93.39 L434.17,96.66 L434.20,99.91 L434.24,103.14 L434.27,106.33 L434.31,109.47 L434.34,112.55 L434.37,115.54 L434.41,118.44 L434.44,121.25 L434.48,123.93 L434.51,126.49 L434.54,128.91 L434.58,131.18 L434.61,133.29 L434.64,135.24 L434.68,137.01 L434.71,138.60 L434.75,140.00 L434.78,141.21 L434.81,142.21 L434.85,143.01 L434.88,143.60 L434.91,143.98 L434.95,144.15 L434.98,144.11 L435.02,143.85 L435.05,143.37 L435.08,142.69 L435.12,141.80 L435.15,140.71 L435.18,139.42 L435.22,137.93 L435.25,136.26 L435.28,134.41 L435.32,132.38 L435.35,130.19 L435.39,127.84 L435.42,125.35 L435.45,122.73 L435.49,119.98 L435.52,117.12 L435.55,114.16 L435.59,111.12 L435.62,108.00 L435.65,104.82 L435.69,101.59 L435.72,98.33" stroke-width="0.890"/>
<path d="M435.72,98.33 L435.76,95.05 L435.79,91.76 L435.82,88.48 L435.86,85.23 L435.89,82.01 L435.92,78.84 L435.96,75.74 L435.99,72.71 L436.02,69.77 L436.06,66.94 L436.09,64.22 L436.12,61.62 L436.16,59.17 L436.19,56.86 L436.22,54.71 L436.26,52.73 L436.29,50.92 L436.32,49.30 L436.36,47.87 L436.39,46.64 L436.42,45.61 L436.46,44.79 L436.49,44.18 L436.52,43.78 L436.56,43.60 L436.59,43.63 L436.62,43.89 L436.66,44.36 L436.69,45.04 L436.72,45.93 L436.76,47.04 L436.79,48.34 L436.82,49.85 L436.86,51.54 L436.89,53.42 L436.92,55.48 L436.96,57.71 L436.99,60.09 L437.02,62.62 L437.06,65.29 L437.09,68.09 L437.12,71.00 L437.16,74.01 L437.19,77.12 L437.22,80.30 L437.26,83.54 L437.29,86.83 L437.32,90.15" stroke-width="0.890"/>
<path d="M437.32,90.15 L437.35,93.50 L437.39,96.85 L437.42,100.20 L437.45,103.52 L437.49,106.80 L437.52,110.03 L437.55,113.20 L437.59,116.29 L437.62,119.29 L437.65,122.18 L437.69,124.96 L437.72,127.60 L437.75,130.11 L437.78,132.46 L437.82,134.65 L437.85,136.67 L437.88,138.51 L437.92,140.16 L437.95,141.62" stroke-width="0.890"/>
</g>
</g><g filter="url(#blr2)">
<g transform="scale(1.0,1)" fill="none" stroke="#0000ff" stroke-linejoin="round">
<path d="M437.95,141.62 L437.98,142.87 L438.02,143.92 L438.05,144.75 L438.08,145.37 L438.11,145.77 L438.15,145.94 L438.18,145.90 L438.21,145.63 L438.25,145.15 L438.28,144.44 L438.31,143.52 L438.34,142.39 L438.38,141.05 L438.41,139.50 L438.44,137.77 L438.48,135.84 L438.51,133.74 L438.54,131.46 L438.57,129.02 L438.61,126.43 L438.64,123.71 L438.67,120.85 L438.71,117.88 L438.74,114.80 L438.77,111.64 L438.80,108.40 L438.84,105.09 L438.87,101.74 L438.90,98.35 L438.94,94.95 L438.97,91.54 L439.00,88.14 L439.03,84.76 L439.07,81.42 L439.10,78.14 L439.13,74.92 L439.16,71.78 L439.20,68.74 L439.23,65.81 L439.26,63.00 L439.29,60.32 L439.33,57.78 L439.36,55.40 L439.39,53.19 L439.43,51.15 L439.46,49.29 L439.49,47.63 L439.52,46.17" stroke-width="0.890"/>
<path d="M439.52,46.17 L439.56,44.91 L439.59,43.86 L439.62,43.03 L439.65,42.42 L439.69,42.03 L439.72,41.86 L439.75,41.92 L439.78,42.21 L439.82,42.71 L439.85,43.44 L439.88,44.39 L439.91,45.55 L439.95,46.92 L439.98,48.49 L440.01,50.26 L440.04,52.22 L440.08,54.36 L440.11,56.67 L440.14,59.15 L440.17,61.77 L440.21,64.54 L440.24,67.43 L440.27,70.44 L440.30,73.55 L440.34,76.75 L440.37,80.03 L440.40,83.37 L440.43,86.76 L440.47,90.18 L440.50,93.61 L440.53,97.05 L440.56,100.48 L440.60,103.89 L440.63,107.25 L440.66,110.56 L440.69,113.80 L440.72,116.95 L440.76,120.01 L440.79,122.96 L440.82,125.79 L440.85,128.48 L440.89,131.02 L440.92,133.41 L440.95,135.63 L440.98,137.67 L441.01,139.53 L441.05,141.19 L441.08,142.66" stroke-width="0.890"/>
<path d="M441.08,142.66 L441.11,143.91 L441.14,144.95 L441.18,145.78 L441.21,146.38 L441.24,146.76 L441.27,146.92 L441.30,146.85 L441.34,146.55 L441.37,146.03 L441.40,145.29 L441.43,144.33 L441.47,143.15 L441.50,141.77 L441.53,140.18 L441.56,138.39 L441.59,136.42 L441.63,134.26 L441.66,131.93 L441.69,129.44 L441.72,126.80 L441.75,124.02 L441.79,121.11 L441.82,118.08 L441.85,114.96 L441.88,111.74 L441.92,108.45 L441.95,105.10 L441.98,101.70 L442.01,98.27 L442.04,94.82 L442.08,91.37 L442.11,87.93 L442.14,84.52 L442.17,81.15 L442.20,77.84 L442.24,74.59 L442.27,71.43 L442.30,68.37 L442.33,65.42 L442.36,62.59 L442.39,59.90 L442.43,57.35 L442.46,54.97 L442.49,52.75 L442.52,50.71 L442.55,48.85 L442.59,47.19 L442.62,45.73" stroke-width="0.890"/>
<path d="M442.62,45.73 L442.65,44.48 L442.68,43.45 L442.71,42.63 L442.75,42.03 L442.78,41.65 L442.81,41.50 L442.84,41.58 L442.87,41.88 L442.90,42.41 L442.94,43.16 L442.97,44.13 L443.00,45.31 L443.03,46.71 L443.06,48.30 L443.10,50.10 L443.13,52.08 L443.16,54.24 L443.19,56.58 L443.22,59.08 L443.25,61.72 L443.29,64.51 L443.32,67.43 L443.35,70.45 L443.38,73.59 L443.41,76.81 L443.44,80.10 L443.48,83.46 L443.51,86.86 L443.54,90.29 L443.57,93.74 L443.60,97.20 L443.63,100.64 L443.67,104.05 L443.70,107.42 L443.73,110.74 L443.76,113.98 L443.79,117.14 L443.82,120.20 L443.86,123.15 L443.89,125.98 L443.92,128.67 L443.95,131.21 L443.98,133.59 L444.01,135.81 L444.05,137.85 L444.08,139.70 L444.11,141.36 L444.14,142.81" stroke-width="0.890"/>
<path d="M444.14,142.81 L444.17,144.06 L444.20,145.09 L444.23,145.90 L444.27,146.50 L444.30,146.87 L444.33,147.01 L444.36,146.93 L444.39,146.62 L444.42,146.09 L444.46,145.33 L444.49,144.36 L444.52,143.17 L444.55,141.78 L444.58,140.17 L444.61,138.38 L444.64,136.39 L444.68,134.22 L444.71,131.88 L444.74,129.38 L444.77,126.73 L444.80,123.94 L444.83,121.02 L444.86,117.99 L444.90,114.86 L444.93,111.63 L444.96,108.34 L444.99,104.98 L445.02,101.58 L445.05,98.14 L445.08,94.69 L445.11,91.24 L445.15,87.80 L445.18,84.38 L445.21,81.01 L445.24,77.70 L445.27,74.46 L445.30,71.30 L445.33,68.24 L445.37,65.29 L445.40,62.47 L445.43,59.78 L445.46,57.24 L445.49,54.86 L445.52,52.65 L445.55,50.61 L445.58,48.76 L445.62,47.11 L445.65,45.66" stroke-width="0.890"/>
<path d="M445.65,45.66 L445.68,44.42 L445.71,43.39 L445.74,42.58 L445.77,41.99 L445.80,41.63 L445.83,41.49 L445.86,41.57 L445.90,41.89 L445.93,42.42 L445.96,43.18 L445.99,44.16 L446.02,45.35 L446.05,46.75 L446.08,48.36 L446.11,50.16 L446.14,52.15 L446.18,54.32 L446.21,56.67 L446.24,59.17 L446.27,61.82 L446.30,64.62 L446.33,67.54 L446.36,70.57 L446.39,73.71 L446.42,76.93 L446.46,80.23 L446.49,83.59 L446.52,86.99 L446.55,90.43 L446.58,93.88 L446.61,97.33 L446.64,100.77 L446.67,104.18 L446.70,107.55 L446.73,110.86 L446.77,114.11 L446.80,117.26 L446.83,120.32 L446.86,123.26 L446.89,126.09 L446.92,128.77 L446.95,131.31 L446.98,133.69 L447.01,135.90 L447.04,137.93 L447.07,139.77 L447.11,141.42 L447.14,142.86" stroke-width="0.890"/>
<path d="M447.14,142.86 L447.17,144.10 L447.20,145.13 L447.23,145.93 L447.26,146.52 L447.29,146.88 L447.32,147.01 L447.35,146.92 L447.38,146.61 L447.41,146.07 L447.45,145.30 L447.48,144.32 L447.51,143.12 L447.54,141.72 L447.57,140.11 L447.60,138.30 L447.63,136.31 L447.66,134.13 L447.69,131.79 L447.72,129.28 L447.75,126.62 L447.78,123.83 L447.81,120.91 L447.85,117.87 L447.88,114.73 L447.91,111.51 L447.94,108.21 L447.97,104.85 L448.00,101.44 L448.03,98.01 L448.06,94.56 L448.09,91.10 L448.12,87.66 L448.15,84.25 L448.18,80.88 L448.21,77.57 L448.24,74.33 L448.28,71.18 L448.31,68.12 L448.34,65.18 L448.37,62.36 L448.40,59.68 L448.43,57.14 L448.46,54.77 L448.49,52.56 L448.52,50.54 L448.55,48.70 L448.58,47.05 L448.61,45.61" stroke-width="0.900"/>
<path d="M448.61,45.61 L448.64,44.38 L448.67,43.36 L448.70,42.55 L448.73,41.97 L448.76,41.62 L448.80,41.49 L448.83,41.58 L448.86,41.90 L448.89,42.45 L448.92,43.21 L448.95,44.20 L448.98,45.40 L449.01,46.81 L449.04,48.42 L449.07,50.23 L449.10,52.23 L449.13,54.41 L449.16,56.76 L449.19,59.27 L449.22,61.93 L449.25,64.73 L449.28,67.65 L449.31,70.69 L449.34,73.83 L449.37,77.06 L449.40,80.36 L449.44,83.72 L449.47,87.12 L449.50,90.56 L449.53,94.01 L449.56,97.46 L449.59,100.90 L449.62,104.31 L449.65,107.68 L449.68,110.99 L449.71,114.23 L449.74,117.38 L449.77,120.43 L449.80,123.38 L449.83,126.19 L449.86,128.87 L449.89,131.40 L449.92,133.77 L449.95,135.98 L449.98,138.00 L450.01,139.84 L450.04,141.48 L450.07,142.92" stroke-width="0.900"/>
<path d="M450.07,142.92 L450.10,144.15 L450.13,145.16 L450.16,145.96 L450.19,146.54 L450.22,146.89 L450.25,147.01 L450.28,146.92 L450.31,146.59 L450.34,146.04 L450.37,145.27 L450.41,144.28 L450.44,143.07 L450.47,141.66 L450.50,140.04 L450.53,138.23 L450.56,136.23 L450.59,134.05 L450.62,131.69 L450.65,129.18 L450.68,126.52 L450.71,123.72 L450.74,120.79 L450.77,117.75 L450.80,114.61 L450.83,111.38 L450.86,108.08 L450.89,104.72 L450.92,101.31 L450.95,97.87 L450.98,94.42 L451.01,90.97 L451.04,87.53 L451.07,84.12 L451.10,80.76 L451.13,77.45 L451.16,74.21 L451.19,71.06 L451.22,68.01 L451.25,65.07 L451.28,62.25 L451.31,59.58 L451.34,57.05 L451.37,54.68 L451.40,52.48 L451.43,50.46 L451.46,48.63 L451.49,46.99 L451.52,45.56" stroke-width="0.900"/>
<path d="M451.52,45.56 L451.55,44.33 L451.58,43.32 L451.61,42.53 L451.64,41.96 L451.67,41.61 L451.70,41.49 L451.73,41.59 L451.76,41.92 L451.79,42.47 L451.82,43.25 L451.85,44.24 L451.88,45.45 L451.91,46.87 L451.94,48.49 L451.97,50.31 L452.00,52.31 L452.03,54.50 L452.06,56.85 L452.09,59.37 L452.12,62.03 L452.15,64.84 L452.18,67.77 L452.21,70.81 L452.24,73.95 L452.27,77.18 L452.30,80.49 L452.33,83.85 L452.36,87.25 L452.39,90.69 L452.42,94.14 L452.45,97.60 L452.48,101.03 L452.51,104.44 L452.53,107.81 L452.56,111.12 L452.59,114.35 L452.62,117.50 L452.65,120.55 L452.68,123.49 L452.71,126.30 L452.74,128.97 L452.77,131.50 L452.80,133.86 L452.83,136.06 L452.86,138.08 L452.89,139.90 L452.92,141.54 L452.95,142.97" stroke-width="0.910"/>
<path d="M452.95,142.97 L452.98,144.19 L453.01,145.20 L453.04,145.99 L453.07,146.55 L453.10,146.90 L453.13,147.01 L453.16,146.91 L453.19,146.57 L453.22,146.01 L453.25,145.23 L453.28,144.24 L453.31,143.02 L453.34,141.60 L453.37,139.98 L453.40,138.16 L453.43,136.15 L453.46,133.96 L453.48,131.60 L453.51,129.08 L453.54,126.41 L453.57,123.61 L453.60,120.68 L453.63,117.63 L453.66,114.49 L453.69,111.25 L453.72,107.95 L453.75,104.59 L453.78,101.18 L453.81,97.74 L453.84,94.29 L453.87,90.84 L453.90,87.40 L453.93,83.99 L453.96,80.63 L453.99,77.32 L454.02,74.09 L454.05,70.94 L454.08,67.89 L454.11,64.96 L454.13,62.15 L454.16,59.48 L454.19,56.96 L454.22,54.59 L454.25,52.40 L454.28,50.39 L454.31,48.56 L454.34,46.93 L454.37,45.51" stroke-width="0.910"/>
<path d="M454.37,45.51 L454.40,44.29 L454.43,43.29 L454.46,42.50 L454.49,41.94 L454.52,41.60 L454.55,41.49 L454.58,41.60 L454.61,41.94 L454.63,42.50 L454.66,43.28 L454.69,44.29 L454.72,45.50 L454.75,46.93 L454.78,48.56 L454.81,50.38 L454.84,52.39 L454.87,54.59 L454.90,56.95 L454.93,59.47 L454.96,62.14 L454.99,64.95 L455.02,67.88 L455.05,70.93 L455.07,74.08 L455.10,77.31 L455.13,80.61 L455.16,83.98 L455.19,87.39 L455.22,90.82 L455.25,94.28 L455.28,97.73 L455.31,101.17 L455.34,104.57 L455.37,107.94 L455.40,111.24 L455.43,114.48 L455.46,117.62 L455.48,120.67 L455.51,123.60 L455.54,126.40 L455.57,129.07 L455.60,131.59 L455.63,133.95 L455.66,136.14 L455.69,138.15 L455.72,139.97 L455.75,141.60 L455.78,143.02" stroke-width="0.910"/>
<path d="M455.78,143.02 L455.81,144.23 L455.83,145.23 L455.86,146.01 L455.89,146.57 L455.92,146.91 L455.95,147.01 L455.98,146.90 L456.01,146.56 L456.04,145.99 L456.07,145.20 L456.10,144.19 L456.13,142.97 L456.15,141.54 L456.18,139.91 L456.21,138.08 L456.24,136.07 L456.27,133.87 L456.30,131.51 L456.33,128.98 L456.36,126.31 L456.39,123.50 L456.42,120.56 L456.45,117.51 L456.47,114.36 L456.50,111.13 L456.53,107.82 L456.56,104.46 L456.59,101.05 L456.62,97.61 L456.65,94.16 L456.68,90.70 L456.71,87.27 L456.74,83.86 L456.76,80.50 L456.79,77.19 L456.82,73.96 L456.85,70.82 L456.88,67.78 L456.91,64.85 L456.94,62.04 L456.97,59.38 L457.00,56.86 L457.02,54.51 L457.05,52.32 L457.08,50.31 L457.11,48.50 L457.14,46.87 L457.17,45.46" stroke-width="0.910"/>
<path d="M457.17,45.46 L457.20,44.25 L457.23,43.25 L457.26,42.47 L457.29,41.92 L457.31,41.59 L457.34,41.49 L457.37,41.61 L457.40,41.95 L457.43,42.52 L457.46,43.32 L457.49,44.33 L457.52,45.55 L457.54,46.99 L457.57,48.62 L457.60,50.46 L457.63,52.47 L457.66,54.67 L457.69,57.04 L457.72,59.57 L457.75,62.25 L457.78,65.06 L457.80,68.00 L457.83,71.05 L457.86,74.20 L457.89,77.43 L457.92,80.74 L457.95,84.11 L457.98,87.52 L458.01,90.96 L458.03,94.41 L458.06,97.86 L458.09,101.30 L458.12,104.71 L458.15,108.07 L458.18,111.37 L458.21,114.60 L458.24,117.74 L458.26,120.78 L458.29,123.71 L458.32,126.51 L458.35,129.17 L458.38,131.69 L458.41,134.04 L458.44,136.22 L458.46,138.22 L458.49,140.04 L458.52,141.65 L458.55,143.07" stroke-width="0.920"/>
<path d="M458.55,143.07 L458.58,144.27 L458.61,145.27 L458.64,146.04 L458.66,146.59 L458.69,146.91 L458.72,147.01 L458.75,146.89 L458.78,146.54 L458.81,145.96 L458.84,145.17 L458.87,144.15 L458.89,142.92 L458.92,141.48 L458.95,139.84 L458.98,138.01 L459.01,135.98 L459.04,133.78 L459.07,131.41 L459.09,128.88 L459.12,126.20 L459.15,123.39 L459.18,120.45 L459.21,117.39 L459.24,114.24 L459.26,111.00 L459.29,107.69 L459.32,104.32 L459.35,100.91 L459.38,97.48 L459.41,94.02 L459.44,90.57 L459.46,87.13 L459.49,83.73 L459.52,80.37 L459.55,77.07 L459.58,73.84 L459.61,70.70 L459.64,67.66 L459.66,64.74 L459.69,61.94 L459.72,59.28 L459.75,56.77 L459.78,54.42 L459.81,52.24 L459.83,50.24 L459.86,48.43 L459.89,46.82 L459.92,45.41" stroke-width="0.920"/>
<path d="M459.92,45.41 L459.95,44.20 L459.98,43.22 L460.00,42.45 L460.03,41.90 L460.06,41.58 L460.09,41.49 L460.12,41.62 L460.15,41.97 L460.17,42.55 L460.20,43.35 L460.23,44.37 L460.26,45.61 L460.29,47.05 L460.32,48.69 L460.34,50.53 L460.37,52.56 L460.40,54.76 L460.43,57.14 L460.46,59.67 L460.49,62.35 L460.51,65.17 L460.54,68.11 L460.57,71.17 L460.60,74.32 L460.63,77.56 L460.66,80.87 L460.68,84.24 L460.71,87.65 L460.74,91.09 L460.77,94.54 L460.80,98.00 L460.83,101.43 L460.85,104.84 L460.88,108.20 L460.91,111.50 L460.94,114.72 L460.97,117.86 L460.99,120.90 L461.02,123.82 L461.05,126.62 L461.08,129.27 L461.11,131.78 L461.14,134.13 L461.16,136.30 L461.19,138.30 L461.22,140.10 L461.25,141.71 L461.28,143.12" stroke-width="0.920"/>
<path d="M461.28,143.12 L461.30,144.32 L461.33,145.30 L461.36,146.06 L461.39,146.60 L461.42,146.92 L461.45,147.01 L461.47,146.88 L461.50,146.52 L461.53,145.94 L461.56,145.13 L461.59,144.11 L461.61,142.87 L461.64,141.42 L461.67,139.78 L461.70,137.93 L461.73,135.90 L461.75,133.69 L461.78,131.32 L461.81,128.78 L461.84,126.10 L461.87,123.27 L461.89,120.33 L461.92,117.27 L461.95,114.12 L461.98,110.88 L462.01,107.56 L462.03,104.19 L462.06,100.78 L462.09,97.34 L462.12,93.89 L462.15,90.44 L462.17,87.00 L462.20,83.60 L462.23,80.24 L462.26,76.94 L462.29,73.72 L462.31,70.58 L462.34,67.55 L462.37,64.63 L462.40,61.83 L462.43,59.18 L462.45,56.67 L462.48,54.33 L462.51,52.16 L462.54,50.17 L462.57,48.36 L462.59,46.76 L462.62,45.36" stroke-width="0.930"/>
<path d="M462.62,45.36 L462.65,44.16 L462.68,43.18 L462.71,42.42 L462.73,41.89 L462.76,41.57 L462.79,41.49 L462.82,41.63 L462.85,41.99 L462.87,42.58 L462.90,43.39 L462.93,44.42 L462.96,45.66 L462.98,47.11 L463.01,48.76 L463.04,50.60 L463.07,52.64 L463.10,54.85 L463.12,57.23 L463.15,59.77 L463.18,62.46 L463.21,65.28 L463.24,68.23 L463.26,71.29 L463.29,74.45 L463.32,77.69 L463.35,81.00 L463.37,84.37 L463.40,87.78 L463.43,91.22 L463.46,94.68 L463.49,98.13 L463.51,101.56 L463.54,104.97 L463.57,108.32 L463.60,111.62 L463.62,114.84 L463.65,117.98 L463.68,121.01 L463.71,123.93 L463.74,126.72 L463.76,129.37 L463.79,131.87 L463.82,134.21 L463.85,136.38 L463.87,138.37 L463.90,140.17 L463.93,141.77 L463.96,143.17" stroke-width="0.930"/>
<path d="M463.96,143.17 L463.98,144.36 L464.01,145.33 L464.04,146.09 L464.07,146.62 L464.10,146.93 L464.12,147.01 L464.15,146.87 L464.18,146.50 L464.21,145.91 L464.23,145.09 L464.26,144.06 L464.29,142.82 L464.32,141.36 L464.34,139.71 L464.37,137.86 L464.40,135.82 L464.43,133.61 L464.45,131.22 L464.48,128.68 L464.51,125.99 L464.54,123.16 L464.56,120.21 L464.59,117.15 L464.62,113.99 L464.65,110.75 L464.68,107.43 L464.70,104.06 L464.73,100.65 L464.76,97.21 L464.79,93.76 L464.81,90.30 L464.84,86.87 L464.87,83.47 L464.90,80.11 L464.92,76.82 L464.95,73.59 L464.98,70.46 L465.01,67.43 L465.03,64.52 L465.06,61.73 L465.09,59.08 L465.12,56.58 L465.14,54.24 L465.17,52.08 L465.20,50.09 L465.23,48.30 L465.25,46.70 L465.28,45.31" stroke-width="0.930"/>
<path d="M465.28,45.31 L465.31,44.12 L465.34,43.15 L465.36,42.40 L465.39,41.87 L465.42,41.57 L465.45,41.49 L465.47,41.64 L465.50,42.01 L465.53,42.61 L465.55,43.42 L465.58,44.46 L465.61,45.71 L465.64,47.17 L465.66,48.83 L465.69,50.68 L465.72,52.72 L465.75,54.94 L465.77,57.33 L465.80,59.87 L465.83,62.56 L465.86,65.39 L465.88,68.34 L465.91,71.41 L465.94,74.57 L465.97,77.81 L465.99,81.13 L466.02,84.50 L466.05,87.92 L466.08,91.36 L466.10,94.81 L466.13,98.26 L466.16,101.70 L466.18,105.10 L466.21,108.45 L466.24,111.75 L466.27,114.97 L466.29,118.10 L466.32,121.13 L466.35,124.04 L466.38,126.83 L466.40,129.47 L466.43,131.97 L466.46,134.30 L466.48,136.46 L466.51,138.44 L466.54,140.23 L466.57,141.83 L466.59,143.22" stroke-width="0.930"/>
<path d="M466.59,143.22 L466.62,144.40 L466.65,145.37 L466.68,146.11 L466.70,146.64 L466.73,146.94 L466.76,147.01 L466.78,146.86 L466.81,146.48 L466.84,145.88 L466.87,145.06 L466.89,144.02 L466.92,142.76 L466.95,141.30 L466.97,139.64 L467.00,137.78 L467.03,135.74 L467.06,133.52 L467.08,131.13 L467.11,128.58 L467.14,125.88 L467.16,123.05 L467.19,120.10 L467.22,117.03 L467.25,113.87 L467.27,110.62 L467.30,107.30 L467.33,103.93 L467.35,100.52 L467.38,97.08 L467.41,93.62 L467.44,90.17 L467.46,86.74 L467.49,83.34 L467.52,79.98 L467.54,76.69 L467.57,73.47 L467.60,70.34 L467.63,67.32 L467.65,64.41 L467.68,61.62 L467.71,58.98 L467.73,56.49 L467.76,54.16 L467.79,52.00 L467.82,50.02 L467.84,48.23 L467.87,46.64 L467.90,45.26" stroke-width="0.940"/>
<path d="M467.90,45.26 L467.92,44.08 L467.95,43.12 L467.98,42.37 L468.00,41.85 L468.03,41.56 L468.06,41.49 L468.09,41.65 L468.11,42.03 L468.14,42.63 L468.17,43.46 L468.19,44.50 L468.22,45.76 L468.25,47.23 L468.27,48.89 L468.30,50.76 L468.33,52.80 L468.36,55.03 L468.38,57.42 L468.41,59.97 L468.44,62.67 L468.46,65.50 L468.49,68.46 L468.52,71.53 L468.54,74.69 L468.57,77.94 L468.60,81.26 L468.62,84.63 L468.65,88.05 L468.68,91.49 L468.71,94.94 L468.73,98.39 L468.76,101.83 L468.79,105.23 L468.81,108.58 L468.84,111.87 L468.87,115.09 L468.89,118.22 L468.92,121.24 L468.95,124.15 L468.97,126.93 L469.00,129.57 L469.03,132.06 L469.05,134.39 L469.08,136.54 L469.11,138.52 L469.14,140.30 L469.16,141.89 L469.19,143.27" stroke-width="0.940"/>
<path d="M469.19,143.27 L469.22,144.44 L469.24,145.40 L469.27,146.14 L469.30,146.65 L469.32,146.94 L469.35,147.01 L469.38,146.85 L469.40,146.46 L469.43,145.85 L469.46,145.02 L469.48,143.97 L469.51,142.71 L469.54,141.24 L469.56,139.57 L469.59,137.71 L469.62,135.66 L469.64,133.43 L469.67,131.03 L469.70,128.48 L469.72,125.78 L469.75,122.94 L469.78,119.98 L469.80,116.91 L469.83,113.75 L469.86,110.50 L469.89,107.18 L469.91,103.80 L469.94,100.38 L469.97,96.94 L469.99,93.49 L470.02,90.04 L470.05,86.61 L470.07,83.21 L470.10,79.85 L470.13,76.56 L470.15,73.35 L470.18,70.22 L470.21,67.20 L470.23,64.30 L470.26,61.52 L470.29,58.88 L470.31,56.39 L470.34,54.07 L470.37,51.92 L470.39,49.95 L470.42,48.17 L470.45,46.58 L470.47,45.21" stroke-width="0.940"/>
<path d="M470.47,45.21 L470.50,44.04 L470.53,43.08 L470.55,42.35 L470.58,41.84 L470.60,41.55 L470.63,41.49 L470.66,41.66 L470.68,42.05 L470.71,42.66 L470.74,43.50 L470.76,44.55 L470.79,45.81 L470.82,47.29 L470.84,48.96 L470.87,50.83 L470.90,52.89 L470.92,55.12 L470.95,57.52 L470.98,60.07 L471.00,62.78 L471.03,65.62 L471.06,68.58 L471.08,71.65 L471.11,74.82 L471.14,78.07 L471.16,81.39 L471.19,84.76 L471.22,88.18 L471.24,91.62 L471.27,95.08 L471.30,98.53 L471.32,101.96 L471.35,105.36 L471.37,108.71 L471.40,112.00 L471.43,115.21 L471.45,118.34 L471.48,121.36 L471.51,124.26 L471.53,127.03 L471.56,129.67 L471.59,132.15 L471.61,134.47 L471.64,136.62 L471.67,138.59 L471.69,140.36 L471.72,141.94 L471.75,143.32" stroke-width="0.940"/>
<path d="M471.75,143.32 L471.77,144.48 L471.80,145.43 L471.82,146.16 L471.85,146.67 L471.88,146.95 L471.90,147.01 L471.93,146.84 L471.96,146.44 L471.98,145.83 L472.01,144.99 L472.04,143.93 L472.06,142.66 L472.09,141.18 L472.11,139.50 L472.14,137.63 L472.17,135.57 L472.19,133.34 L472.22,130.93 L472.25,128.37 L472.27,125.67 L472.30,122.83 L472.33,119.86 L472.35,116.79 L472.38,113.62 L472.40,110.37 L472.43,107.05 L472.46,103.67 L472.48,100.25 L472.51,96.81 L472.54,93.36 L472.56,89.91 L472.59,86.47 L472.61,83.08 L472.64,79.73 L472.67,76.44 L472.69,73.23 L472.72,70.11 L472.75,67.09 L472.77,64.19 L472.80,61.41 L472.83,58.78 L472.85,56.30 L472.88,53.98 L472.90,51.84 L472.93,49.88 L472.96,48.10 L472.98,46.53 L473.01,45.16" stroke-width="0.940"/>
<path d="M473.01,45.16 L473.04,44.00 L473.06,43.05 L473.09,42.33 L473.11,41.82 L473.14,41.55 L473.17,41.49 L473.19,41.67 L473.22,42.07 L473.24,42.69 L473.27,43.53 L473.30,44.59 L473.32,45.87 L473.35,47.35 L473.38,49.03 L473.40,50.91 L473.43,52.97 L473.45,55.21 L473.48,57.61 L473.51,60.18 L473.53,62.89 L473.56,65.73 L473.59,68.69 L473.61,71.77 L473.64,74.94 L473.66,78.20 L473.69,81.52 L473.72,84.90 L473.74,88.31 L473.77,91.76 L473.79,95.21 L473.82,98.66 L473.85,102.09 L473.87,105.49 L473.90,108.84 L473.92,112.12 L473.95,115.33 L473.98,118.45 L474.00,121.47 L474.03,124.37 L474.05,127.14 L474.08,129.77 L474.11,132.25 L474.13,134.56 L474.16,136.70 L474.19,138.66 L474.21,140.43 L474.24,142.00 L474.26,143.37" stroke-width="0.950"/>
<path d="M474.26,143.37 L474.29,144.52 L474.32,145.46 L474.34,146.19 L474.37,146.68 L474.39,146.96 L474.42,147.01 L474.45,146.83 L474.47,146.42 L474.50,145.80 L474.52,144.95 L474.55,143.88 L474.58,142.61 L474.60,141.12 L474.63,139.43 L474.65,137.56 L474.68,135.49 L474.71,133.25 L474.73,130.84 L474.76,128.27 L474.78,125.56 L474.81,122.72 L474.84,119.75 L474.86,116.67 L474.89,113.50 L474.91,110.24 L474.94,106.92 L474.97,103.54 L474.99,100.12 L475.02,96.68 L475.04,93.22 L475.07,89.77 L475.09,86.34 L475.12,82.95 L475.15,79.60 L475.17,76.31 L475.20,73.10 L475.22,69.99 L475.25,66.97 L475.28,64.08 L475.30,61.31 L475.33,58.68 L475.35,56.21 L475.38,53.90 L475.41,51.76 L475.43,49.80 L475.46,48.04 L475.48,46.47 L475.51,45.11" stroke-width="0.950"/>
<path d="M475.51,45.11 L475.53,43.96 L475.56,43.02 L475.59,42.30 L475.61,41.81 L475.64,41.54 L475.66,41.50 L475.69,41.68 L475.72,42.09 L475.74,42.72 L475.77,43.57 L475.79,44.64 L475.82,45.92 L475.84,47.41 L475.87,49.10 L475.90,50.98 L475.92,53.05 L475.95,55.30 L475.97,57.71 L476.00,60.28 L476.03,62.99 L476.05,65.84 L476.08,68.81 L476.10,71.89 L476.13,75.07 L476.15,78.32 L476.18,81.65 L476.21,85.03 L476.23,88.45 L476.26,91.89 L476.28,95.34 L476.31,98.79 L476.33,102.22 L476.36,105.62 L476.39,108.97 L476.41,112.25 L476.44,115.46 L476.46,118.57 L476.49,121.58 L476.51,124.48 L476.54,127.24 L476.57,129.87 L476.59,132.34 L476.62,134.65 L476.64,136.78 L476.67,138.73 L476.69,140.49 L476.72,142.06 L476.75,143.42" stroke-width="0.950"/>
<path d="M476.75,143.42 L476.77,144.56 L476.80,145.50 L476.82,146.21 L476.85,146.70 L476.87,146.96 L476.90,147.00 L476.93,146.82 L476.95,146.40 L476.98,145.77 L477.00,144.91 L477.03,143.84 L477.05,142.55 L477.08,141.06 L477.10,139.37 L477.13,137.48 L477.16,135.41 L477.18,133.16 L477.21,130.74 L477.23,128.17 L477.26,125.45 L477.28,122.60 L477.31,119.63 L477.34,116.55 L477.36,113.37 L477.39,110.11 L477.41,106.79 L477.44,103.41 L477.46,99.99 L477.49,96.54 L477.51,93.09 L477.54,89.64 L477.57,86.21 L477.59,82.82 L477.62,79.47 L477.64,76.19 L477.67,72.98 L477.69,69.87 L477.72,66.86 L477.74,63.97 L477.77,61.20 L477.80,58.58 L477.82,56.12 L477.85,53.81 L477.87,51.68 L477.90,49.73 L477.92,47.97 L477.95,46.41 L477.97,45.06" stroke-width="0.950"/>
<path d="M477.97,45.06 L478.00,43.92 L478.02,42.99 L478.05,42.28 L478.08,41.79 L478.10,41.53 L478.13,41.50 L478.15,41.69 L478.18,42.11 L478.20,42.75 L478.23,43.61 L478.25,44.68 L478.28,45.97 L478.31,47.47 L478.33,49.17 L478.36,51.06 L478.38,53.14 L478.41,55.39 L478.43,57.81 L478.46,60.38 L478.48,63.10 L478.51,65.95 L478.53,68.93 L478.56,72.01 L478.58,75.19 L478.61,78.45 L478.64,81.78 L478.66,85.16 L478.69,88.58 L478.71,92.02 L478.74,95.48 L478.76,98.93 L478.79,102.36 L478.81,105.75 L478.84,109.09 L478.86,112.38 L478.89,115.58 L478.91,118.69 L478.94,121.70 L478.97,124.59 L478.99,127.35 L479.02,129.97 L479.04,132.43 L479.07,134.73 L479.09,136.86 L479.12,138.80 L479.14,140.56 L479.17,142.11 L479.19,143.46" stroke-width="0.960"/>
<path d="M479.19,143.46 L479.22,144.60 L479.24,145.53 L479.27,146.23 L479.29,146.71 L479.32,146.97 L479.35,147.00 L479.37,146.80 L479.40,146.38 L479.42,145.74 L479.45,144.87 L479.47,143.79 L479.50,142.50 L479.52,141.00 L479.55,139.30 L479.57,137.40 L479.60,135.32 L479.62,133.07 L479.65,130.65 L479.67,128.07 L479.70,125.35 L479.72,122.49 L479.75,119.51 L479.78,116.43 L479.80,113.25 L479.83,109.99 L479.85,106.66 L479.88,103.28 L479.90,99.85 L479.93,96.41 L479.95,92.96 L479.98,89.51 L480.00,86.08 L480.03,82.69 L480.05,79.34 L480.08,76.06 L480.10,72.86 L480.13,69.75 L480.15,66.75 L480.18,63.86 L480.20,61.10 L480.23,58.49 L480.25,56.02 L480.28,53.73 L480.30,51.60 L480.33,49.66 L480.35,47.91 L480.38,46.36 L480.40,45.01" stroke-width="0.960"/>
<path d="M480.40,45.01 L480.43,43.88 L480.46,42.96 L480.48,42.26 L480.51,41.78 L480.53,41.53 L480.56,41.50 L480.58,41.70 L480.61,42.13 L480.63,42.78 L480.66,43.64 L480.68,44.73 L480.71,46.03 L480.73,47.53 L480.76,49.24 L480.78,51.14 L480.81,53.22 L480.83,55.48 L480.86,57.90 L480.88,60.48 L480.91,63.21 L480.93,66.07 L480.96,69.05 L480.98,72.13 L481.01,75.31 L481.03,78.58 L481.06,81.91 L481.08,85.29 L481.11,88.71 L481.13,92.16 L481.16,95.61 L481.18,99.06 L481.21,102.49 L481.23,105.88 L481.26,109.22 L481.28,112.50 L481.31,115.70 L481.33,118.81 L481.36,121.81 L481.38,124.70 L481.41,127.45 L481.43,130.06 L481.46,132.52 L481.48,134.82 L481.51,136.94 L481.53,138.88 L481.56,140.62 L481.58,142.17 L481.61,143.51" stroke-width="0.960"/>
<path d="M481.61,143.51 L481.63,144.64 L481.66,145.56 L481.68,146.25 L481.71,146.73 L481.73,146.97 L481.76,147.00 L481.78,146.79 L481.81,146.36 L481.83,145.71 L481.86,144.84 L481.88,143.75 L481.91,142.44 L481.93,140.94 L481.96,139.23 L481.98,137.33 L482.01,135.24 L482.03,132.98 L482.06,130.55 L482.08,127.97 L482.11,125.24 L482.13,122.38 L482.16,119.40 L482.18,116.31 L482.21,113.12 L482.23,109.86 L482.26,106.53 L482.28,103.14 L482.31,99.72 L482.33,96.28 L482.36,92.82 L482.38,89.37 L482.41,85.95 L482.43,82.56 L482.46,79.21 L482.48,75.94 L482.51,72.74 L482.53,69.63 L482.56,66.63 L482.58,63.75 L482.60,61.00 L482.63,58.39 L482.65,55.93 L482.68,53.64 L482.70,51.52 L482.73,49.59 L482.75,47.85 L482.78,46.30 L482.80,44.96" stroke-width="0.960"/>
<path d="M482.80,44.96 L482.83,43.84 L482.85,42.93 L482.88,42.23 L482.90,41.77 L482.93,41.52 L482.95,41.51 L482.98,41.71 L483.00,42.15 L483.03,42.80 L483.05,43.68 L483.08,44.78 L483.10,46.08 L483.13,47.60 L483.15,49.31 L483.18,51.21 L483.20,53.30 L483.23,55.57 L483.25,58.00 L483.27,60.59 L483.30,63.32 L483.32,66.18 L483.35,69.16 L483.37,72.25 L483.40,75.44 L483.42,78.70 L483.45,82.04 L483.47,85.42 L483.50,88.84 L483.52,92.29 L483.55,95.74 L483.57,99.19 L483.60,102.62 L483.62,106.01 L483.65,109.35 L483.67,112.63 L483.70,115.82 L483.72,118.93 L483.74,121.93 L483.77,124.81 L483.79,127.55 L483.82,130.16 L483.84,132.61 L483.87,134.90 L483.89,137.02 L483.92,138.95 L483.94,140.69 L483.97,142.23 L483.99,143.56" stroke-width="0.960"/>
<path d="M483.99,143.56 L484.02,144.68 L484.04,145.59 L484.07,146.28 L484.09,146.74 L484.11,146.98 L484.14,146.99 L484.16,146.78 L484.19,146.34 L484.21,145.68 L484.24,144.80 L484.26,143.70 L484.29,142.39 L484.31,140.87 L484.34,139.16 L484.36,137.25 L484.39,135.16 L484.41,132.89 L484.43,130.45 L484.46,127.86 L484.48,125.13 L484.51,122.26 L484.53,119.28 L484.56,116.19 L484.58,113.00 L484.61,109.73 L484.63,106.40 L484.66,103.01 L484.68,99.59 L484.71,96.14 L484.73,92.69 L484.75,89.24 L484.78,85.82 L484.80,82.43 L484.83,79.09 L484.85,75.81 L484.88,72.62 L484.90,69.51 L484.93,66.52 L484.95,63.64 L484.98,60.89 L485.00,58.29 L485.02,55.84 L485.05,53.56 L485.07,51.45 L485.10,49.52 L485.12,47.78 L485.15,46.25 L485.17,44.92" stroke-width="0.960"/>
<path d="M485.17,44.92 L485.20,43.80 L485.22,42.89 L485.24,42.21 L485.27,41.75 L485.29,41.52 L485.32,41.51 L485.34,41.73 L485.37,42.17 L485.39,42.83 L485.42,43.72 L485.44,44.82 L485.47,46.14 L485.49,47.66 L485.51,49.38 L485.54,51.29 L485.56,53.39 L485.59,55.66 L485.61,58.10 L485.64,60.69 L485.66,63.42 L485.69,66.29 L485.71,69.28 L485.73,72.37 L485.76,75.56 L485.78,78.83 L485.81,82.17 L485.83,85.55 L485.86,88.98 L485.88,92.42 L485.90,95.88 L485.93,99.32 L485.95,102.75 L485.98,106.14 L486.00,109.48 L486.03,112.75 L486.05,115.94 L486.08,119.04 L486.10,122.04 L486.12,124.91 L486.15,127.66 L486.17,130.26 L486.20,132.71 L486.22,134.99 L486.25,137.09 L486.27,139.02 L486.30,140.75 L486.32,142.28 L486.34,143.61" stroke-width="0.970"/>
<path d="M486.34,143.61 L486.37,144.72 L486.39,145.62 L486.42,146.30 L486.44,146.75 L486.47,146.98 L486.49,146.99 L486.51,146.77 L486.54,146.32 L486.56,145.65 L486.59,144.76 L486.61,143.65 L486.64,142.34 L486.66,140.81 L486.68,139.09 L486.71,137.17 L486.73,135.07 L486.76,132.80 L486.78,130.36 L486.81,127.76 L486.83,125.02 L486.85,122.15 L486.88,119.16 L486.90,116.06 L486.93,112.87 L486.95,109.60 L486.98,106.27 L487.00,102.88 L487.02,99.46 L487.05,96.01 L487.07,92.56 L487.10,89.11 L487.12,85.68 L487.15,82.30 L487.17,78.96 L487.19,75.69 L487.22,72.50 L487.24,69.40 L487.27,66.40 L487.29,63.53 L487.32,60.79 L487.34,58.19 L487.36,55.75 L487.39,53.47 L487.41,51.37 L487.44,49.45 L487.46,47.72 L487.48,46.19 L487.51,44.87" stroke-width="0.970"/>
<path d="M487.51,44.87 L487.53,43.76 L487.56,42.86 L487.58,42.19 L487.61,41.74 L487.63,41.51 L487.65,41.51 L487.68,41.74 L487.70,42.19 L487.73,42.86 L487.75,43.76 L487.77,44.87 L487.80,46.19 L487.82,47.72 L487.85,49.45 L487.87,51.37 L487.90,53.47 L487.92,55.75 L487.94,58.19 L487.97,60.79 L487.99,63.53 L488.02,66.41 L488.04,69.40 L488.06,72.50 L488.09,75.69 L488.11,78.96 L488.14,82.30 L488.16,85.68 L488.19,89.11 L488.21,92.56 L488.23,96.01 L488.26,99.46 L488.28,102.88 L488.31,106.27 L488.33,109.61 L488.35,112.88 L488.38,116.07 L488.40,119.16 L488.43,122.15 L488.45,125.02 L488.47,127.76 L488.50,130.36 L488.52,132.80 L488.55,135.07 L488.57,137.17 L488.59,139.09 L488.62,140.81 L488.64,142.34 L488.67,143.65" stroke-width="0.970"/>
<path d="M488.67,143.65 L488.69,144.76 L488.71,145.65 L488.74,146.32 L488.76,146.77 L488.79,146.99 L488.81,146.98 L488.84,146.75 L488.86,146.30 L488.88,145.62 L488.91,144.72 L488.93,143.61 L488.96,142.28 L488.98,140.75 L489.00,139.02 L489.03,137.09 L489.05,134.99 L489.08,132.70 L489.10,130.26 L489.12,127.66 L489.15,124.91 L489.17,122.04 L489.20,119.04 L489.22,115.94 L489.24,112.75 L489.27,109.48 L489.29,106.14 L489.32,102.75 L489.34,99.32 L489.36,95.88 L489.39,92.42 L489.41,88.98 L489.43,85.55 L489.46,82.17 L489.48,78.83 L489.51,75.56 L489.53,72.37 L489.55,69.28 L489.58,66.29 L489.60,63.42 L489.63,60.69 L489.65,58.10 L489.67,55.66 L489.70,53.39 L489.72,51.29 L489.75,49.38 L489.77,47.66 L489.79,46.14 L489.82,44.82" stroke-width="0.970"/>
<path d="M489.82,44.82 L489.84,43.72 L489.87,42.83 L489.89,42.17 L489.91,41.73 L489.94,41.51 L489.96,41.52 L489.98,41.75 L490.01,42.21 L490.03,42.90 L490.06,43.80 L490.08,44.92 L490.10,46.25 L490.13,47.78 L490.15,49.52 L490.18,51.45 L490.20,53.56 L490.22,55.84 L490.25,58.29 L490.27,60.89 L490.30,63.64 L490.32,66.52 L490.34,69.52 L490.37,72.62 L490.39,75.81 L490.41,79.09 L490.44,82.43 L490.46,85.82 L490.49,89.24 L490.51,92.69 L490.53,96.14 L490.56,99.59 L490.58,103.01 L490.60,106.40 L490.63,109.73 L490.65,113.00 L490.68,116.19 L490.70,119.28 L490.72,122.27 L490.75,125.13 L490.77,127.86 L490.80,130.45 L490.82,132.89 L490.84,135.16 L490.87,137.25 L490.89,139.16 L490.91,140.87 L490.94,142.39 L490.96,143.70" stroke-width="0.970"/>
<path d="M490.96,143.70 L490.99,144.80 L491.01,145.68 L491.03,146.34 L491.06,146.78 L491.08,146.99 L491.10,146.98 L491.13,146.74 L491.15,146.28 L491.18,145.59 L491.20,144.68 L491.22,143.56 L491.25,142.22 L491.27,140.68 L491.29,138.95 L491.32,137.02 L491.34,134.90 L491.37,132.61 L491.39,130.16 L491.41,127.55 L491.44,124.80 L491.46,121.92 L491.48,118.93 L491.51,115.82 L491.53,112.62 L491.55,109.35 L491.58,106.01 L491.60,102.62 L491.63,99.19 L491.65,95.74 L491.67,92.29 L491.70,88.84 L491.72,85.42 L491.74,82.04 L491.77,78.70 L491.79,75.44 L491.82,72.25 L491.84,69.16 L491.86,66.18 L491.89,63.32 L491.91,60.58 L491.93,58.00 L491.96,55.57 L491.98,53.30 L492.00,51.21 L492.03,49.31 L492.05,47.59 L492.08,46.08 L492.10,44.78" stroke-width="0.970"/>
<path d="M492.10,44.78 L492.12,43.68 L492.15,42.80 L492.17,42.15 L492.19,41.71 L492.22,41.51 L492.24,41.52 L492.26,41.77 L492.29,42.23 L492.31,42.93 L492.33,43.84 L492.36,44.96 L492.38,46.30 L492.41,47.85 L492.43,49.59 L492.45,51.52 L492.48,53.64 L492.50,55.93 L492.52,58.39 L492.55,61.00 L492.57,63.75 L492.59,66.63 L492.62,69.63 L492.64,72.74 L492.66,75.94 L492.69,79.22 L492.71,82.56 L492.74,85.95 L492.76,89.38 L492.78,92.82 L492.81,96.28 L492.83,99.72 L492.85,103.15 L492.88,106.53 L492.90,109.86 L492.92,113.12 L492.95,116.31 L492.97,119.40 L492.99,122.38 L493.02,125.24 L493.04,127.97 L493.06,130.55 L493.09,132.98 L493.11,135.24 L493.14,137.33 L493.16,139.23 L493.18,140.94 L493.21,142.44 L493.23,143.75" stroke-width="0.980"/>
<path d="M493.23,143.75 L493.25,144.84 L493.28,145.71 L493.30,146.36 L493.32,146.79 L493.35,147.00 L493.37,146.97 L493.39,146.73 L493.42,146.25 L493.44,145.56 L493.46,144.64 L493.49,143.51 L493.51,142.17 L493.53,140.62 L493.56,138.87 L493.58,136.94 L493.60,134.82 L493.63,132.52 L493.65,130.06 L493.67,127.45 L493.70,124.70 L493.72,121.81 L493.75,118.81 L493.77,115.70 L493.79,112.50 L493.82,109.22 L493.84,105.88 L493.86,102.49 L493.89,99.06 L493.91,95.61 L493.93,92.16 L493.96,88.71 L493.98,85.29 L494.00,81.91 L494.03,78.58 L494.05,75.31 L494.07,72.13 L494.10,69.04 L494.12,66.07 L494.14,63.21 L494.17,60.48 L494.19,57.90 L494.21,55.48 L494.24,53.22 L494.26,51.14 L494.28,49.24 L494.31,47.53 L494.33,46.03 L494.35,44.73" stroke-width="0.980"/>
<path d="M494.35,44.73 L494.38,43.64 L494.40,42.77 L494.42,42.13 L494.45,41.70 L494.47,41.50 L494.49,41.53 L494.52,41.78 L494.54,42.26 L494.56,42.96 L494.59,43.88 L494.61,45.01 L494.63,46.36 L494.66,47.91 L494.68,49.66 L494.70,51.60 L494.73,53.73 L494.75,56.02 L494.77,58.49 L494.80,61.10 L494.82,63.86 L494.84,66.75 L494.87,69.75 L494.89,72.86 L494.91,76.06 L494.94,79.34 L494.96,82.69 L494.98,86.08 L495.01,89.51 L495.03,92.96 L495.05,96.41 L495.08,99.86 L495.10,103.28 L495.12,106.66 L495.15,109.99 L495.17,113.25 L495.19,116.43 L495.21,119.51 L495.24,122.49 L495.26,125.35 L495.28,128.07 L495.31,130.65 L495.33,133.07 L495.35,135.32 L495.38,137.40 L495.40,139.30 L495.42,141.00 L495.45,142.50 L495.47,143.79" stroke-width="0.980"/>
<path d="M495.47,143.79 L495.49,144.87 L495.52,145.74 L495.54,146.38 L495.56,146.80 L495.59,147.00 L495.61,146.97 L495.63,146.71 L495.66,146.23 L495.68,145.53 L495.70,144.60 L495.73,143.46 L495.75,142.11 L495.77,140.56 L495.80,138.80 L495.82,136.86 L495.84,134.73 L495.86,132.43 L495.89,129.96 L495.91,127.35 L495.93,124.59 L495.96,121.70 L495.98,118.69 L496.00,115.58 L496.03,112.37 L496.05,109.09 L496.07,105.75 L496.10,102.35 L496.12,98.93 L496.14,95.48 L496.17,92.02 L496.19,88.58 L496.21,85.16 L496.24,81.78 L496.26,78.45 L496.28,75.19 L496.30,72.01 L496.33,68.93 L496.35,65.95 L496.37,63.10 L496.40,60.38 L496.42,57.80 L496.44,55.39 L496.47,53.13 L496.49,51.06 L496.51,49.17 L496.54,47.47 L496.56,45.97 L496.58,44.68" stroke-width="0.980"/>
<path d="M496.58,44.68 L496.60,43.61 L496.63,42.75 L496.65,42.11 L496.67,41.69 L496.70,41.50 L496.72,41.53 L496.74,41.79 L496.77,42.28 L496.79,42.99 L496.81,43.92 L496.84,45.06 L496.86,46.41 L496.88,47.97 L496.90,49.73 L496.93,51.68 L496.95,53.81 L496.97,56.12 L497.00,58.58 L497.02,61.21 L497.04,63.97 L497.07,66.86 L497.09,69.87 L497.11,72.98 L497.13,76.19 L497.16,79.47 L497.18,82.82 L497.20,86.21 L497.23,89.64 L497.25,93.09 L497.27,96.54 L497.30,99.99 L497.32,103.41 L497.34,106.79 L497.36,110.11 L497.39,113.37 L497.41,116.55 L497.43,119.63 L497.46,122.60 L497.48,125.45 L497.50,128.17 L497.53,130.74 L497.55,133.16 L497.57,135.41 L497.59,137.48 L497.62,139.37 L497.64,141.06 L497.66,142.55 L497.69,143.84" stroke-width="0.980"/>
<path d="M497.69,143.84 L497.71,144.91 L497.73,145.77 L497.76,146.40 L497.78,146.82 L497.80,147.00 L497.82,146.96 L497.85,146.70 L497.87,146.21 L497.89,145.50 L497.92,144.56 L497.94,143.42 L497.96,142.06 L497.98,140.49 L498.01,138.73 L498.03,136.78 L498.05,134.64 L498.08,132.34 L498.10,129.87 L498.12,127.24 L498.14,124.48 L498.17,121.58 L498.19,118.57 L498.21,115.46 L498.24,112.25 L498.26,108.97 L498.28,105.62 L498.31,102.22 L498.33,98.79 L498.35,95.34 L498.37,91.89 L498.40,88.45 L498.42,85.03 L498.44,81.65 L498.47,78.32 L498.49,75.06 L498.51,71.89 L498.53,68.81 L498.56,65.84 L498.58,62.99 L498.60,60.28 L498.63,57.71 L498.65,55.30 L498.67,53.05 L498.69,50.98 L498.72,49.10 L498.74,47.41 L498.76,45.92 L498.79,44.64" stroke-width="0.980"/>
<path d="M498.79,44.64 L498.81,43.57 L498.83,42.72 L498.85,42.09 L498.88,41.68 L498.90,41.50 L498.92,41.54 L498.94,41.81 L498.97,42.30 L498.99,43.02 L499.01,43.96 L499.04,45.11 L499.06,46.47 L499.08,48.04 L499.10,49.80 L499.13,51.76 L499.15,53.90 L499.17,56.21 L499.20,58.68 L499.22,61.31 L499.24,64.08 L499.26,66.97 L499.29,69.99 L499.31,73.11 L499.33,76.31 L499.35,79.60 L499.38,82.95 L499.40,86.34 L499.42,89.77 L499.45,93.22 L499.47,96.68 L499.49,100.12 L499.51,103.54 L499.54,106.92 L499.56,110.24 L499.58,113.50 L499.61,116.67 L499.63,119.75 L499.65,122.72 L499.67,125.56 L499.70,128.27 L499.72,130.84 L499.74,133.25 L499.76,135.49 L499.79,137.56 L499.81,139.44 L499.83,141.12 L499.86,142.61 L499.88,143.88" stroke-width="0.980"/>
<path d="M499.88,143.88 L499.90,144.95 L499.92,145.80 L499.95,146.42 L499.97,146.83 L499.99,147.01 L500.01,146.96 L500.04,146.68 L500.06,146.19 L500.08,145.46 L500.10,144.52 L500.13,143.37 L500.15,142.00 L500.17,140.43 L500.20,138.66 L500.22,136.70 L500.24,134.56 L500.26,132.24 L500.29,129.77 L500.31,127.14 L500.33,124.37 L500.35,121.47 L500.38,118.45 L500.40,115.33 L500.42,112.12 L500.44,108.84 L500.47,105.49 L500.49,102.09 L500.51,98.66 L500.54,95.21 L500.56,91.76 L500.58,88.31 L500.60,84.90 L500.63,81.52 L500.65,78.19 L500.67,74.94 L500.69,71.77 L500.72,68.69 L500.74,65.73 L500.76,62.88 L500.78,60.18 L500.81,57.61 L500.83,55.21 L500.85,52.97 L500.87,50.91 L500.90,49.03 L500.92,47.35 L500.94,45.87 L500.96,44.59" stroke-width="0.990"/>
<path d="M500.96,44.59 L500.99,43.53 L501.01,42.69 L501.03,42.07 L501.05,41.67 L501.08,41.49 L501.10,41.55 L501.12,41.82 L501.15,42.33 L501.17,43.05 L501.19,44.00 L501.21,45.16 L501.24,46.53 L501.26,48.10 L501.28,49.88 L501.30,51.84 L501.33,53.98 L501.35,56.30 L501.37,58.78 L501.39,61.41 L501.42,64.19 L501.44,67.09 L501.46,70.11 L501.48,73.23 L501.51,76.44 L501.53,79.73 L501.55,83.08 L501.57,86.48 L501.60,89.91 L501.62,93.36 L501.64,96.81 L501.66,100.25 L501.69,103.67 L501.71,107.05 L501.73,110.37 L501.75,113.62 L501.78,116.79 L501.80,119.86 L501.82,122.83 L501.84,125.67 L501.87,128.38 L501.89,130.94 L501.91,133.34 L501.93,135.57 L501.96,137.63 L501.98,139.50 L502.00,141.18 L502.02,142.66 L502.05,143.93" stroke-width="0.990"/>
<path d="M502.05,143.93 L502.07,144.99 L502.09,145.83 L502.11,146.44 L502.14,146.84 L502.16,147.01 L502.18,146.95 L502.20,146.67 L502.23,146.16 L502.25,145.43 L502.27,144.48 L502.29,143.32 L502.31,141.94 L502.34,140.36 L502.36,138.59 L502.38,136.62 L502.40,134.47 L502.43,132.15 L502.45,129.67 L502.47,127.03 L502.49,124.26 L502.52,121.35 L502.54,118.33 L502.56,115.21 L502.58,112.00 L502.61,108.71 L502.63,105.36 L502.65,101.96 L502.67,98.53 L502.70,95.08 L502.72,91.62 L502.74,88.18 L502.76,84.76 L502.79,81.39 L502.81,78.07 L502.83,74.82 L502.85,71.65 L502.87,68.58 L502.90,65.62 L502.92,62.78 L502.94,60.07 L502.96,57.52 L502.99,55.12 L503.01,52.88 L503.03,50.83 L503.05,48.96 L503.08,47.29 L503.10,45.81 L503.12,44.55" stroke-width="0.990"/>
<path d="M503.12,44.55 L503.14,43.50 L503.17,42.66 L503.19,42.05 L503.21,41.66 L503.23,41.49 L503.25,41.55 L503.28,41.84 L503.30,42.35 L503.32,43.08 L503.34,44.04 L503.37,45.21 L503.39,46.59 L503.41,48.17 L503.43,49.95 L503.46,51.92 L503.48,54.07 L503.50,56.39 L503.52,58.88 L503.54,61.52 L503.57,64.30 L503.59,67.20 L503.61,70.22 L503.63,73.35 L503.66,76.56 L503.68,79.86 L503.70,83.21 L503.72,86.61 L503.75,90.04 L503.77,93.49 L503.79,96.94 L503.81,100.39 L503.83,103.80 L503.86,107.18 L503.88,110.50 L503.90,113.75 L503.92,116.91 L503.95,119.98 L503.97,122.94 L503.99,125.78 L504.01,128.48 L504.03,131.03 L504.06,133.43 L504.08,135.66 L504.10,137.71 L504.12,139.57 L504.15,141.24 L504.17,142.71 L504.19,143.97" stroke-width="0.990"/>
<path d="M504.19,143.97 L504.21,145.02 L504.23,145.85 L504.26,146.46 L504.28,146.85 L504.30,147.01 L504.32,146.94 L504.35,146.65 L504.37,146.14 L504.39,145.40 L504.41,144.44 L504.43,143.27 L504.46,141.89 L504.48,140.30 L504.50,138.52 L504.52,136.54 L504.55,134.39 L504.57,132.06 L504.59,129.57 L504.61,126.93 L504.63,124.15 L504.66,121.24 L504.68,118.22 L504.70,115.09 L504.72,111.87 L504.75,108.58 L504.77,105.23 L504.79,101.83 L504.81,98.39 L504.83,94.94 L504.86,91.49 L504.88,88.05 L504.90,84.63 L504.92,81.26 L504.94,77.94 L504.97,74.69 L504.99,71.53 L505.01,68.46 L505.03,65.50 L505.06,62.67 L505.08,59.97 L505.10,57.42 L505.12,55.03 L505.14,52.80 L505.17,50.75 L505.19,48.89 L505.21,47.23 L505.23,45.76 L505.25,44.50" stroke-width="0.990"/>
<path d="M505.25,44.50 L505.28,43.46 L505.30,42.63 L505.32,42.03 L505.34,41.65 L505.36,41.49 L505.39,41.56 L505.41,41.85 L505.43,42.37 L505.45,43.12 L505.48,44.08 L505.50,45.26 L505.52,46.64 L505.54,48.23 L505.56,50.02 L505.59,52.00 L505.61,54.16 L505.63,56.49 L505.65,58.98 L505.67,61.62 L505.70,64.41 L505.72,67.32 L505.74,70.34 L505.76,73.47 L505.78,76.69 L505.81,79.98 L505.83,83.34 L505.85,86.74 L505.87,90.17 L505.89,93.62 L505.92,97.08 L505.94,100.52 L505.96,103.93 L505.98,107.31 L506.00,110.62 L506.03,113.87 L506.05,117.03 L506.07,120.10 L506.09,123.05 L506.11,125.88 L506.14,128.58 L506.16,131.13 L506.18,133.52 L506.20,135.74 L506.22,137.78 L506.25,139.64 L506.27,141.30 L506.29,142.77 L506.31,144.02" stroke-width="0.990"/>
<path d="M506.31,144.02 L506.33,145.06 L506.36,145.88 L506.38,146.48 L506.40,146.86 L506.42,147.01 L506.44,146.94 L506.47,146.64 L506.49,146.11 L506.51,145.37 L506.53,144.40 L506.55,143.22 L506.58,141.83 L506.60,140.23 L506.62,138.44 L506.64,136.46 L506.66,134.30 L506.69,131.97 L506.71,129.47 L506.73,126.82 L506.75,124.04 L506.77,121.13 L506.80,118.10 L506.82,114.97 L506.84,111.75 L506.86,108.45 L506.88,105.10 L506.91,101.69 L506.93,98.26 L506.95,94.81 L506.97,91.36 L506.99,87.92 L507.02,84.50 L507.04,81.13 L507.06,77.81 L507.08,74.57 L507.10,71.41 L507.13,68.34 L507.15,65.39 L507.17,62.56 L507.19,59.87 L507.21,57.33 L507.23,54.94 L507.26,52.72 L507.28,50.68 L507.30,48.83 L507.32,47.17 L507.34,45.71 L507.37,44.46" stroke-width="0.990"/>
<path d="M507.37,44.46 L507.39,43.42 L507.41,42.61 L507.43,42.01 L507.45,41.64 L507.48,41.49 L507.50,41.57 L507.52,41.87 L507.54,42.40 L507.56,43.15 L507.58,44.12 L507.61,45.31 L507.63,46.70 L507.65,48.30 L507.67,50.09 L507.69,52.08 L507.72,54.24 L507.74,56.58 L507.76,59.08 L507.78,61.73 L507.80,64.52 L507.83,67.43 L507.85,70.46 L507.87,73.60 L507.89,76.82 L507.91,80.11 L507.93,83.47 L507.96,86.87 L507.98,90.31 L508.00,93.76 L508.02,97.21 L508.04,100.65 L508.07,104.06 L508.09,107.44 L508.11,110.75 L508.13,113.99 L508.15,117.15 L508.17,120.21 L508.20,123.16 L508.22,125.99 L508.24,128.68 L508.26,131.22 L508.28,133.61 L508.30,135.82 L508.33,137.86 L508.35,139.71 L508.37,141.36 L508.39,142.82 L508.41,144.06" stroke-width="0.990"/>
<path d="M508.41,144.06 L508.44,145.09 L508.46,145.91 L508.48,146.50 L508.50,146.87 L508.52,147.01 L508.54,146.93 L508.57,146.62 L508.59,146.09 L508.61,145.33 L508.63,144.36 L508.65,143.17 L508.67,141.77 L508.70,140.17 L508.72,138.37 L508.74,136.38 L508.76,134.21 L508.78,131.87 L508.81,129.37 L508.83,126.72 L508.85,123.93 L508.87,121.01 L508.89,117.98 L508.91,114.84 L508.94,111.62 L508.96,108.32 L508.98,104.97 L509.00,101.56 L509.02,98.13 L509.04,94.68 L509.07,91.22 L509.09,87.78 L509.11,84.37 L509.13,81.00 L509.15,77.69 L509.17,74.44 L509.20,71.29 L509.22,68.23 L509.24,65.28 L509.26,62.46 L509.28,59.77 L509.30,57.23 L509.33,54.85 L509.35,52.64 L509.37,50.60 L509.39,48.76 L509.41,47.11 L509.43,45.66 L509.46,44.42" stroke-width="1.000"/>
<path d="M509.46,44.42 L509.48,43.39 L509.50,42.58 L509.52,41.99 L509.54,41.63 L509.56,41.49 L509.59,41.57 L509.61,41.89 L509.63,42.42 L509.65,43.18 L509.67,44.16 L509.69,45.36 L509.72,46.76 L509.74,48.36 L509.76,50.17 L509.78,52.16 L509.80,54.33 L509.82,56.67 L509.85,59.18 L509.87,61.83 L509.89,64.63 L509.91,67.55 L509.93,70.58 L509.95,73.72 L509.98,76.94 L510.00,80.24 L510.02,83.60 L510.04,87.00 L510.06,90.44 L510.08,93.89 L510.11,97.34 L510.13,100.78 L510.15,104.19 L510.17,107.56 L510.19,110.88 L510.21,114.12 L510.24,117.27 L510.26,120.33 L510.28,123.28 L510.30,126.10 L510.32,128.78 L510.34,131.32 L510.36,133.69 L510.39,135.90 L510.41,137.93 L510.43,139.78 L510.45,141.42 L510.47,142.87 L510.49,144.11" stroke-width="1.000"/>
<path d="M510.49,144.11 L510.52,145.13 L510.54,145.94 L510.56,146.52 L510.58,146.88 L510.60,147.01 L510.62,146.92 L510.64,146.60 L510.67,146.06 L510.69,145.30 L510.71,144.32 L510.73,143.12 L510.75,141.71 L510.77,140.10 L510.80,138.30 L510.82,136.30 L510.84,134.13 L510.86,131.78 L510.88,129.27 L510.90,126.61 L510.92,123.82 L510.95,120.90 L510.97,117.86 L510.99,114.72 L511.01,111.49 L511.03,108.19 L511.05,104.84 L511.08,101.43 L511.10,97.99 L511.12,94.54 L511.14,91.09 L511.16,87.65 L511.18,84.24 L511.20,80.87 L511.23,77.56 L511.25,74.32 L511.27,71.17 L511.29,68.11 L511.31,65.17 L511.33,62.35 L511.35,59.67 L511.38,57.14 L511.40,54.76 L511.42,52.56 L511.44,50.53 L511.46,48.69 L511.48,47.05 L511.50,45.60 L511.53,44.37" stroke-width="1.000"/>
<path d="M511.53,44.37 L511.55,43.35 L511.57,42.55 L511.59,41.97 L511.61,41.62 L511.63,41.49 L511.66,41.58 L511.68,41.90 L511.70,42.45 L511.72,43.22 L511.74,44.20 L511.76,45.41 L511.78,46.82 L511.81,48.43 L511.83,50.24 L511.85,52.24 L511.87,54.42 L511.89,56.77 L511.91,59.28 L511.93,61.94 L511.96,64.74 L511.98,67.66 L512.00,70.70 L512.02,73.84 L512.04,77.07 L512.06,80.37 L512.08,83.73 L512.10,87.14 L512.13,90.57 L512.15,94.02 L512.17,97.48 L512.19,100.92 L512.21,104.33 L512.23,107.69 L512.25,111.00 L512.28,114.24 L512.30,117.39 L512.32,120.45 L512.34,123.39 L512.36,126.20 L512.38,128.88 L512.40,131.41 L512.43,133.78 L512.45,135.98 L512.47,138.01 L512.49,139.84 L512.51,141.48 L512.53,142.92 L512.55,144.15" stroke-width="1.000"/>
<path d="M512.55,144.15 L512.58,145.17 L512.60,145.96 L512.62,146.54 L512.64,146.89 L512.66,147.01 L512.68,146.91 L512.70,146.59 L512.72,146.04 L512.75,145.27 L512.77,144.27 L512.79,143.07 L512.81,141.65 L512.83,140.04 L512.85,138.22 L512.87,136.22 L512.90,134.04 L512.92,131.69 L512.94,129.17 L512.96,126.51 L512.98,123.71 L513.00,120.78 L513.02,117.74 L513.04,114.60 L513.07,111.37 L513.09,108.07 L513.11,104.70 L513.13,101.30 L513.15,97.86 L513.17,94.41 L513.19,90.96 L513.21,87.52 L513.24,84.11 L513.26,80.74 L513.28,77.43 L513.30,74.20 L513.32,71.05 L513.34,68.00 L513.36,65.06 L513.39,62.24 L513.41,59.57 L513.43,57.04 L513.45,54.67 L513.47,52.47 L513.49,50.45 L513.51,48.62 L513.53,46.99 L513.56,45.55 L513.58,44.33" stroke-width="1.000"/>
<path d="M513.58,44.33 L513.60,43.32 L513.62,42.52 L513.64,41.95 L513.66,41.61 L513.68,41.49 L513.70,41.59 L513.73,41.92 L513.75,42.48 L513.77,43.25 L513.79,44.25 L513.81,45.46 L513.83,46.88 L513.85,48.50 L513.87,50.31 L513.89,52.32 L513.92,54.51 L513.94,56.86 L513.96,59.38 L513.98,62.04 L514.00,64.85 L514.02,67.78 L514.04,70.82 L514.06,73.96 L514.09,77.19 L514.11,80.50 L514.13,83.86 L514.15,87.27 L514.17,90.70 L514.19,94.16 L514.21,97.61 L514.23,101.05 L514.26,104.46 L514.28,107.82 L514.30,111.13 L514.32,114.36 L514.34,117.51 L514.36,120.56 L514.38,123.50 L514.40,126.31 L514.42,128.98 L514.45,131.51 L514.47,133.87 L514.49,136.07 L514.51,138.08 L514.53,139.91 L514.55,141.54 L514.57,142.97 L514.59,144.19" stroke-width="1.000"/>
<path d="M514.59,144.19 L514.62,145.20 L514.64,145.99 L514.66,146.56 L514.68,146.90 L514.70,147.01 L514.72,146.91 L514.74,146.57 L514.76,146.01 L514.78,145.23 L514.81,144.23 L514.83,143.02 L514.85,141.60 L514.87,139.97 L514.89,138.15 L514.91,136.14 L514.93,133.95 L514.95,131.59 L514.97,129.07 L515.00,126.40 L515.02,123.60 L515.04,120.66 L515.06,117.62 L515.08,114.47 L515.10,111.24 L515.12,107.94 L515.14,104.57 L515.16,101.17 L515.19,97.73 L515.21,94.28 L515.23,90.82 L515.25,87.39 L515.27,83.98 L515.29,80.61 L515.31,77.31 L515.33,74.07 L515.35,70.93 L515.38,67.88 L515.40,64.95 L515.42,62.14 L515.44,59.47 L515.46,56.95 L515.48,54.58 L515.50,52.39 L515.52,50.38 L515.54,48.56 L515.56,46.93 L515.59,45.50 L515.61,44.29" stroke-width="1.000"/>
<path d="M515.61,44.29 L515.63,43.28 L515.65,42.50 L515.67,41.94 L515.69,41.60 L515.71,41.49 L515.73,41.60 L515.75,41.94 L515.78,42.50 L515.80,43.29 L515.82,44.29 L515.84,45.51 L515.86,46.93 L515.88,48.56 L515.90,50.39 L515.92,52.40 L515.94,54.59 L515.96,56.96 L515.99,59.48 L516.01,62.15 L516.03,64.96 L516.05,67.89 L516.07,70.94 L516.09,74.09 L516.11,77.32 L516.13,80.63 L516.15,83.99 L516.17,87.40 L516.20,90.84 L516.22,94.29 L516.24,97.74 L516.26,101.18 L516.28,104.59 L516.30,107.95 L516.32,111.26 L516.34,114.49 L516.36,117.63 L516.38,120.68 L516.41,123.61 L516.43,126.41 L516.45,129.08 L516.47,131.60 L516.49,133.96 L516.51,136.15 L516.53,138.16 L516.55,139.98 L516.57,141.60 L516.59,143.02 L516.62,144.24" stroke-width="1.000"/>
<path d="M516.62,144.24 L516.64,145.23 L516.66,146.01 L516.68,146.57 L516.70,146.91 L516.72,147.01 L516.74,146.90 L516.76,146.55 L516.78,145.99 L516.80,145.20 L516.82,144.19 L516.85,142.97 L516.87,141.54 L516.89,139.90 L516.91,138.07 L516.93,136.06 L516.95,133.86 L516.97,131.50 L516.99,128.97 L517.01,126.30 L517.03,123.49 L517.05,120.55 L517.08,117.50 L517.10,114.35 L517.12,111.12 L517.14,107.81 L517.16,104.44 L517.18,101.03 L517.20,97.60 L517.22,94.14 L517.24,90.69 L517.26,87.25 L517.28,83.85 L517.31,80.48 L517.33,77.18 L517.35,73.95 L517.37,70.81 L517.39,67.77 L517.41,64.84 L517.43,62.03 L517.45,59.37 L517.47,56.85 L517.49,54.50 L517.51,52.31 L517.54,50.31 L517.56,48.49 L517.58,46.87 L517.60,45.45 L517.62,44.24" stroke-width="1.000"/>
<path d="M517.62,44.24 L517.64,43.25 L517.66,42.47 L517.68,41.92 L517.70,41.59 L517.72,41.49 L517.74,41.61 L517.76,41.96 L517.79,42.53 L517.81,43.32 L517.83,44.33 L517.85,45.56 L517.87,46.99 L517.89,48.63 L517.91,50.46 L517.93,52.48 L517.95,54.68 L517.97,57.05 L517.99,59.58 L518.01,62.26 L518.04,65.07 L518.06,68.01 L518.08,71.06 L518.10,74.21 L518.12,77.45 L518.14,80.76 L518.16,84.12 L518.18,87.53 L518.20,90.97 L518.22,94.42 L518.24,97.88 L518.26,101.31 L518.29,104.72 L518.31,108.08 L518.33,111.38 L518.35,114.61 L518.37,117.75 L518.39,120.79 L518.41,123.72 L518.43,126.52 L518.45,129.18 L518.47,131.69 L518.49,134.05 L518.51,136.23 L518.53,138.23 L518.56,140.04 L518.58,141.66 L518.60,143.07 L518.62,144.28" stroke-width="1.000"/>
<path d="M518.62,144.28 L518.64,145.27 L518.66,146.04 L518.68,146.59 L518.70,146.92 L518.72,147.01 L518.74,146.89 L518.76,146.54 L518.78,145.96 L518.80,145.16 L518.83,144.15 L518.85,142.92 L518.87,141.48 L518.89,139.84 L518.91,138.00 L518.93,135.98 L518.95,133.77 L518.97,131.40 L518.99,128.87 L519.01,126.19 L519.03,123.37 L519.05,120.43 L519.07,117.38 L519.09,114.23 L519.12,110.99 L519.14,107.68 L519.16,104.31 L519.18,100.90 L519.20,97.46 L519.22,94.01 L519.24,90.56 L519.26,87.12 L519.28,83.72 L519.30,80.36 L519.32,77.06 L519.34,73.83 L519.36,70.69 L519.38,67.65 L519.41,64.73 L519.43,61.93 L519.45,59.27 L519.47,56.76 L519.49,54.41 L519.51,52.23 L519.53,50.23 L519.55,48.42 L519.57,46.81 L519.59,45.40 L519.61,44.20" stroke-width="1.000"/>
<path d="M519.61,44.20 L519.63,43.21 L519.65,42.45 L519.67,41.90 L519.70,41.58 L519.72,41.49 L519.74,41.62 L519.76,41.97 L519.78,42.55 L519.80,43.36 L519.82,44.38 L519.84,45.61 L519.86,47.05 L519.88,48.70 L519.90,50.54 L519.92,52.56 L519.94,54.77 L519.96,57.15 L519.98,59.68 L520.00,62.36 L520.03,65.18 L520.05,68.12 L520.07,71.18 L520.09,74.33 L520.11,77.57 L520.13,80.88 L520.15,84.25 L520.17,87.66 L520.19,91.10 L520.21,94.56 L520.23,98.01 L520.25,101.44 L520.27,104.85 L520.29,108.21 L520.31,111.51 L520.33,114.73 L520.36,117.87 L520.38,120.91 L520.40,123.83 L520.42,126.63 L520.44,129.28 L520.46,131.79 L520.48,134.13 L520.50,136.31 L520.52,138.30 L520.54,140.11 L520.56,141.72 L520.58,143.12 L520.60,144.32" stroke-width="1.000"/>
<path d="M520.60,144.32 L520.62,145.30 L520.64,146.07 L520.66,146.61 L520.68,146.92 L520.71,147.01 L520.73,146.88 L520.75,146.52 L520.77,145.93 L520.79,145.13 L520.81,144.10 L520.83,142.86 L520.85,141.42 L520.87,139.77 L520.89,137.93 L520.91,135.89 L520.93,133.69 L520.95,131.31 L520.97,128.77 L520.99,126.09 L521.01,123.26 L521.03,120.32 L521.05,117.26 L521.08,114.10 L521.10,110.86 L521.12,107.55 L521.14,104.18 L521.16,100.77 L521.18,97.33 L521.20,93.88 L521.22,90.42 L521.24,86.99 L521.26,83.59 L521.28,80.23 L521.30,76.93 L521.32,73.71 L521.34,70.57 L521.36,67.53 L521.38,64.61 L521.40,61.82 L521.42,59.17 L521.44,56.66 L521.47,54.32 L521.49,52.15 L521.51,50.16 L521.53,48.36 L521.55,46.75 L521.57,45.35 L521.59,44.16" stroke-width="1.000"/>
<path d="M521.59,44.16 L521.61,43.18 L521.63,42.42 L521.65,41.89 L521.67,41.57 L521.69,41.49 L521.71,41.63 L521.73,41.99 L521.75,42.58 L521.77,43.39 L521.79,44.42 L521.81,45.66 L521.83,47.11 L521.85,48.76 L521.87,50.61 L521.90,52.65 L521.92,54.86 L521.94,57.24 L521.96,59.78 L521.98,62.47 L522.00,65.29 L522.02,68.24 L522.04,71.30 L522.06,74.46 L522.08,77.70 L522.10,81.01 L522.12,84.38 L522.14,87.80 L522.16,91.24 L522.18,94.69 L522.20,98.14 L522.22,101.58 L522.24,104.98 L522.26,108.34 L522.28,111.63 L522.30,114.86 L522.32,117.99 L522.34,121.02 L522.37,123.94 L522.39,126.73 L522.41,129.38 L522.43,131.88 L522.45,134.22 L522.47,136.39 L522.49,138.38 L522.51,140.18 L522.53,141.78 L522.55,143.17 L522.57,144.36" stroke-width="1.000"/>
<path d="M522.57,144.36 L522.59,145.34 L522.61,146.09 L522.63,146.62 L522.65,146.93 L522.67,147.01 L522.69,146.87 L522.71,146.50 L522.73,145.91 L522.75,145.09 L522.77,144.06 L522.79,142.81 L522.81,141.36 L522.83,139.70 L522.85,137.85 L522.88,135.81 L522.90,133.60 L522.92,131.21 L522.94,128.67 L522.96,125.98 L522.98,123.15 L523.00,120.20 L523.02,117.14 L523.04,113.98 L523.06,110.74 L523.08,107.42 L523.10,104.05 L523.12,100.64 L523.14,97.20 L523.16,93.74 L523.18,90.29 L523.20,86.86 L523.22,83.46 L523.24,80.10 L523.26,76.80 L523.28,73.58 L523.30,70.45 L523.32,67.42 L523.34,64.50 L523.36,61.72 L523.38,59.07 L523.40,56.57 L523.42,54.23 L523.44,52.07 L523.47,50.09 L523.49,48.29 L523.51,46.69 L523.53,45.30 L523.55,44.12" stroke-width="1.000"/>
<path d="M523.55,44.12 L523.57,43.15 L523.59,42.40 L523.61,41.87 L523.63,41.57 L523.65,41.49 L523.67,41.64 L523.69,42.01 L523.71,42.61 L523.73,43.43 L523.75,44.46 L523.77,45.71 L523.79,47.17 L523.81,48.83 L523.83,50.69 L523.85,52.73 L523.87,54.95 L523.89,57.34 L523.91,59.88 L523.93,62.57 L523.95,65.40 L523.97,68.36 L523.99,71.42 L524.01,74.58 L524.03,77.83 L524.05,81.14 L524.07,84.52 L524.09,87.93 L524.11,91.37 L524.13,94.82 L524.15,98.27 L524.18,101.71 L524.20,105.11 L524.22,108.47 L524.24,111.76 L524.26,114.98 L524.28,118.11 L524.30,121.14 L524.32,124.05 L524.34,126.84 L524.36,129.48 L524.38,131.98 L524.40,134.31 L524.42,136.47 L524.44,138.45 L524.46,140.24 L524.48,141.83 L524.50,143.22 L524.52,144.40" stroke-width="1.000"/>
<path d="M524.52,144.40 L524.54,145.37 L524.56,146.12 L524.58,146.64 L524.60,146.94 L524.62,147.01 L524.64,146.86 L524.66,146.48 L524.68,145.88 L524.70,145.06 L524.72,144.01 L524.74,142.76 L524.76,141.30 L524.78,139.63 L524.80,137.78 L524.82,135.73 L524.84,133.51 L524.86,131.12 L524.88,128.57 L524.90,125.87 L524.92,123.04 L524.94,120.09 L524.96,117.02 L524.98,113.86 L525.00,110.61 L525.02,107.29 L525.04,103.92 L525.06,100.50 L525.08,97.06 L525.11,93.61 L525.13,90.16 L525.15,86.73 L525.17,83.32 L525.19,79.97 L525.21,76.68 L525.23,73.46 L525.25,70.33 L525.27,67.31 L525.29,64.39 L525.31,61.61 L525.33,58.97 L525.35,56.48 L525.37,54.15 L525.39,51.99 L525.41,50.01 L525.43,48.23 L525.45,46.64 L525.47,45.25 L525.49,44.07" stroke-width="1.000"/>
<path d="M525.49,44.07 L525.51,43.11 L525.53,42.37 L525.55,41.85 L525.57,41.56 L525.59,41.49 L525.61,41.65 L525.63,42.03 L525.65,42.64 L525.67,43.46 L525.69,44.51 L525.71,45.77 L525.73,47.23 L525.75,48.90 L525.77,50.76 L525.79,52.81 L525.81,55.04 L525.83,57.43 L525.85,59.98 L525.87,62.68 L525.89,65.52 L525.91,68.47 L525.93,71.54 L525.95,74.71 L525.97,77.95 L525.99,81.27 L526.01,84.65 L526.03,88.06 L526.05,91.50 L526.07,94.96 L526.09,98.41 L526.11,101.84 L526.13,105.24 L526.15,108.59 L526.17,111.89 L526.19,115.10 L526.21,118.23 L526.23,121.25 L526.25,124.16 L526.27,126.94 L526.29,129.58 L526.31,132.07 L526.33,134.40 L526.35,136.55 L526.37,138.52 L526.39,140.31 L526.41,141.89 L526.43,143.27 L526.45,144.45" stroke-width="1.000"/>
<path d="M526.45,144.45 L526.47,145.40 L526.49,146.14 L526.51,146.65 L526.53,146.95 L526.55,147.01 L526.57,146.85 L526.59,146.46 L526.61,145.85 L526.63,145.02 L526.65,143.97 L526.67,142.71 L526.69,141.24 L526.71,139.57 L526.73,137.70 L526.75,135.65 L526.77,133.42 L526.79,131.02 L526.81,128.47 L526.83,125.76 L526.85,122.93 L526.87,119.97 L526.89,116.90 L526.91,113.73 L526.93,110.48 L526.95,107.16 L526.97,103.79 L526.99,100.37 L527.01,96.93 L527.03,93.48 L527.05,90.03 L527.07,86.59 L527.09,83.19 L527.11,79.84 L527.13,76.55 L527.15,73.34 L527.17,70.21 L527.19,67.19 L527.21,64.28 L527.23,61.51 L527.25,58.87 L527.27,56.38 L527.29,54.06 L527.31,51.91 L527.33,49.94 L527.35,48.16 L527.37,46.58 L527.39,45.20 L527.41,44.03" stroke-width="1.000"/>
<path d="M527.41,44.03 L527.43,43.08 L527.45,42.35 L527.47,41.84 L527.49,41.55 L527.51,41.49 L527.53,41.66 L527.55,42.05 L527.57,42.66 L527.59,43.50 L527.61,44.55 L527.63,45.82 L527.65,47.29 L527.67,48.97 L527.69,50.84 L527.71,52.89 L527.73,55.13 L527.75,57.53 L527.77,60.08 L527.79,62.79 L527.81,65.63 L527.83,68.59 L527.85,71.66 L527.87,74.83 L527.89,78.08 L527.91,81.40 L527.93,84.78 L527.95,88.19 L527.97,91.64 L527.99,95.09 L528.01,98.54 L528.03,101.97 L528.05,105.37 L528.07,108.72 L528.09,112.01 L528.11,115.22 L528.13,118.35 L528.15,121.37 L528.17,124.27 L528.19,127.05 L528.21,129.68 L528.23,132.16 L528.25,134.48 L528.27,136.63 L528.29,138.60 L528.31,140.37 L528.33,141.95 L528.35,143.32 L528.37,144.49" stroke-width="1.000"/>
<path d="M528.37,144.49 L528.39,145.43 L528.41,146.16 L528.43,146.67 L528.45,146.95 L528.47,147.01 L528.49,146.84 L528.51,146.44 L528.53,145.82 L528.55,144.98 L528.57,143.92 L528.59,142.65 L528.61,141.18 L528.63,139.50 L528.65,137.62 L528.67,135.56 L528.69,133.33 L528.71,130.93 L528.73,128.36 L528.75,125.66 L528.77,122.82 L528.79,119.85 L528.81,116.78 L528.83,113.61 L528.85,110.36 L528.87,107.03 L528.89,103.66 L528.91,100.24 L528.93,96.80 L528.95,93.34 L528.97,89.89 L528.99,86.46 L529.01,83.06 L529.02,79.71 L529.04,76.43 L529.06,73.21 L529.08,70.09 L529.10,67.08 L529.12,64.18 L529.14,61.40 L529.16,58.77 L529.18,56.29 L529.20,53.98 L529.22,51.83 L529.24,49.87 L529.26,48.10 L529.28,46.52 L529.30,45.15 L529.32,43.99" stroke-width="1.000"/>
<path d="M529.32,43.99 L529.34,43.05 L529.36,42.32 L529.38,41.82 L529.40,41.54 L529.42,41.49 L529.44,41.67 L529.46,42.07 L529.48,42.69 L529.50,43.54 L529.52,44.60 L529.54,45.87 L529.56,47.35 L529.58,49.04 L529.60,50.91 L529.62,52.98 L529.64,55.22 L529.66,57.62 L529.68,60.19 L529.70,62.90 L529.72,65.74 L529.74,68.71 L529.76,71.78 L529.78,74.95 L529.80,78.21 L529.82,81.53 L529.84,84.91 L529.86,88.33 L529.88,91.77 L529.90,95.22 L529.92,98.67 L529.94,102.10 L529.96,105.50 L529.97,108.85 L529.99,112.14 L530.01,115.35 L530.03,118.47 L530.05,121.48 L530.07,124.38 L530.09,127.15 L530.11,129.78 L530.13,132.25 L530.15,134.57 L530.17,136.71 L530.19,138.67 L530.21,140.44 L530.23,142.01 L530.25,143.37 L530.27,144.53" stroke-width="1.000"/>
<path d="M530.27,144.53 L530.29,145.47 L530.31,146.19 L530.33,146.69 L530.35,146.96 L530.37,147.01 L530.39,146.83 L530.41,146.42 L530.43,145.79 L530.45,144.95 L530.47,143.88 L530.49,142.60 L530.51,141.11 L530.53,139.43 L530.55,137.55 L530.57,135.48 L530.59,133.24 L530.61,130.83 L530.63,128.26 L530.65,125.55 L530.66,122.70 L530.68,119.74 L530.70,116.66 L530.72,113.48 L530.74,110.23 L530.76,106.90 L530.78,103.53 L530.80,100.11 L530.82,96.66 L530.84,93.21 L530.86,89.76 L530.88,86.33 L530.90,82.93 L530.92,79.59 L530.94,76.30 L530.96,73.09 L530.98,69.98 L531.00,66.96 L531.02,64.07 L531.04,61.30 L531.06,58.67 L531.08,56.20 L531.10,53.89 L531.12,51.75 L531.14,49.80 L531.16,48.03 L531.18,46.47 L531.20,45.10 L531.22,43.95" stroke-width="1.000"/>
<path d="M531.22,43.95 L531.24,43.02 L531.25,42.30 L531.27,41.81 L531.29,41.54 L531.31,41.50 L531.33,41.68 L531.35,42.09 L531.37,42.72 L531.39,43.57 L531.41,44.64 L531.43,45.93 L531.45,47.42 L531.47,49.11 L531.49,50.99 L531.51,53.06 L531.53,55.31 L531.55,57.72 L531.57,60.29 L531.59,63.00 L531.61,65.85 L531.63,68.82 L531.65,71.90 L531.67,75.08 L531.69,78.33 L531.71,81.66 L531.73,85.04 L531.75,88.46 L531.77,91.90 L531.78,95.36 L531.80,98.81 L531.82,102.24 L531.84,105.63 L531.86,108.98 L531.88,112.26 L531.90,115.47 L531.92,118.58 L531.94,121.60 L531.96,124.49 L531.98,127.25 L532.00,129.88 L532.02,132.35 L532.04,134.65 L532.06,136.79 L532.08,138.74 L532.10,140.50 L532.12,142.06 L532.14,143.42 L532.16,144.57" stroke-width="1.000"/>
<path d="M532.16,144.57 L532.18,145.50 L532.20,146.21 L532.22,146.70 L532.23,146.96 L532.25,147.00 L532.27,146.81 L532.29,146.40 L532.31,145.77 L532.33,144.91 L532.35,143.83 L532.37,142.55 L532.39,141.05 L532.41,139.36 L532.43,137.47 L532.45,135.40 L532.47,133.15 L532.49,130.73 L532.51,128.16 L532.53,125.44 L532.55,122.59 L532.57,119.62 L532.59,116.54 L532.61,113.36 L532.63,110.10 L532.65,106.77 L532.66,103.39 L532.68,99.97 L532.70,96.53 L532.72,93.08 L532.74,89.63 L532.76,86.20 L532.78,82.80 L532.80,79.46 L532.82,76.18 L532.84,72.97 L532.86,69.86 L532.88,66.85 L532.90,63.96 L532.92,61.19 L532.94,58.57 L532.96,56.11 L532.98,53.80 L533.00,51.67 L533.02,49.72 L533.04,47.97 L533.05,46.41 L533.07,45.06 L533.09,43.91" stroke-width="1.000"/>
<path d="M533.09,43.91 L533.11,42.99 L533.13,42.28 L533.15,41.79 L533.17,41.53 L533.19,41.50 L533.21,41.69 L533.23,42.11 L533.25,42.75 L533.27,43.61 L533.29,44.69 L533.31,45.98 L533.33,47.48 L533.35,49.18 L533.37,51.07 L533.39,53.14 L533.41,55.40 L533.42,57.82 L533.44,60.39 L533.46,63.11 L533.48,65.96 L533.50,68.94 L533.52,72.02 L533.54,75.20 L533.56,78.46 L533.58,81.79 L533.60,85.17" stroke-width="1.000"/>
</g>
</g></g>
<line x1="324.5" y1="180.75" x2="326.7" y2="180.75" stroke="#707070" stroke-width="1"/>
<line x1="531.4" y1="180.75" x2="533.6" y2="180.75" stroke="#707070" stroke-width="1"/>
<line x1="324.5" y1="137.50" x2="326.7" y2="137.50" stroke="#707070" stroke-width="1"/>
<line x1="531.4" y1="137.50" x2="533.6" y2="137.50" stroke="#707070" stroke-width="1"/>
<line x1="324.5" y1="94.25" x2="326.7" y2="94.25" stroke="#707070" stroke-width="1"/>
<line x1="531.4" y1="94.25" x2="533.6" y2="94.25" stroke="#707070" stroke-width="1"/>
<line x1="324.5" y1="51.00" x2="326.7" y2="51.00" stroke="#707070" stroke-width="1"/>
<line x1="531.4" y1="51.00" x2="533.6" y2="51.00" stroke="#707070" stroke-width="1"/>
<line x1="324.5" y1="7.75" x2="326.7" y2="7.75" stroke="#707070" stroke-width="1"/>
<line x1="531.4" y1="7.75" x2="533.6" y2="7.75" stroke="#707070" stroke-width="1"/>
<line x1="324.50" y1="180.8" x2="324.50" y2="178.60000000000002" stroke="#707070" stroke-width="1"/>
<line x1="324.50" y1="7.7" x2="324.50" y2="9.9" stroke="#707070" stroke-width="1"/>
<line x1="376.77" y1="180.8" x2="376.77" y2="178.60000000000002" stroke="#707070" stroke-width="1"/>
<line x1="376.77" y1="7.7" x2="376.77" y2="9.9" stroke="#707070" stroke-width="1"/>
<line x1="429.05" y1="180.8" x2="429.05" y2="178.60000000000002" stroke="#707070" stroke-width="1"/>
<line x1="429.05" y1="7.7" x2="429.05" y2="9.9" stroke="#707070" stroke-width="1"/>
<line x1="481.33" y1="180.8" x2="481.33" y2="178.60000000000002" stroke="#707070" stroke-width="1"/>
<line x1="481.33" y1="7.7" x2="481.33" y2="9.9" stroke="#707070" stroke-width="1"/>
<line x1="533.60" y1="180.8" x2="533.60" y2="178.60000000000002" stroke="#707070" stroke-width="1"/>
<line x1="533.60" y1="7.7" x2="533.60" y2="9.9" stroke="#707070" stroke-width="1"/>
<path d="M323.90,7.7H534.20M323.90,180.8H534.20" stroke="#707070" stroke-width="1.6" fill="none"/>
<path d="M324.5,7.7V180.8M533.6,7.7V180.8" stroke="#707070" stroke-width="1.2" fill="none"/>
<text transform="translate(320.90,186.35) scale(0.72,1)" text-anchor="end" class="tk">-0.1</text>
<text transform="translate(320.90,143.10) scale(0.72,1)" text-anchor="end" class="tk">-0.05</text>
<text transform="translate(320.90,99.85) scale(0.72,1)" text-anchor="end" class="tk">0</text>
<text transform="translate(320.90,56.60) scale(0.72,1)" text-anchor="end" class="tk">0.05</text>
<text transform="translate(320.90,13.35) scale(0.72,1)" text-anchor="end" class="tk">0.1</text>
<text transform="translate(324.50,197.80) scale(0.72,1)" text-anchor="middle" class="tk">0</text>
<text transform="translate(376.77,197.80) scale(0.72,1)" text-anchor="middle" class="tk">0.05</text>
<text transform="translate(429.05,197.80) scale(0.72,1)" text-anchor="middle" class="tk">0.1</text>
<text transform="translate(481.33,197.80) scale(0.72,1)" text-anchor="middle" class="tk">0.15</text>
<text transform="translate(533.60,197.80) scale(0.72,1)" text-anchor="middle" class="tk">0.2</text>
<text transform="translate(429.05,215.60) scale(0.72,1)" text-anchor="middle" class="xl">Time(sec)</text>
<text transform="translate(298.90,94.25) scale(0.68,1) rotate(-90)" text-anchor="middle" class="yl" textLength="48" lengthAdjust="spacingAndGlyphs">Vd in pu</text>
<text transform="translate(427.70,234.70) scale(0.72,1)" text-anchor="middle" class="cap">(b)</text>
<line x1="37.3" y1="409.60" x2="245.8" y2="409.60" stroke="#e6e6e6" stroke-width="0.9"/>
<line x1="37.3" y1="366.50" x2="245.8" y2="366.50" stroke="#e6e6e6" stroke-width="0.9"/>
<line x1="37.3" y1="323.40" x2="245.8" y2="323.40" stroke="#e6e6e6" stroke-width="0.9"/>
<line x1="89.42" y1="280.3" x2="89.42" y2="452.7" stroke="#e6e6e6" stroke-width="0.9"/>
<line x1="141.55" y1="280.3" x2="141.55" y2="452.7" stroke="#e6e6e6" stroke-width="0.9"/>
<line x1="193.68" y1="280.3" x2="193.68" y2="452.7" stroke="#e6e6e6" stroke-width="0.9"/>
<defs><clipPath id="cc"><rect x="37.30" y="280.30" width="208.50" height="172.40"/></clipPath></defs>
<g clip-path="url(#cc)"><g filter="url(#blr)">
<g transform="scale(1.0,1)" fill="none" stroke="#0000ff" stroke-linejoin="round">
<path d="M37.30,418.62 L37.52,418.97 L37.73,419.08 L37.94,418.97 L38.15,418.64 L38.36,418.08 L38.57,417.30 L38.77,416.31 L38.97,415.10 L39.17,413.68 L39.37,412.06 L39.57,410.24 L39.76,408.24 L39.95,406.06 L40.15,403.71 L40.33,401.20 L40.52,398.54 L40.71,395.74 L40.89,392.82 L41.08,389.78 L41.26,386.65 L41.44,383.43 L41.62,380.13 L41.80,376.78 L41.98,373.38 L42.15,369.96 L42.33,366.52 L42.50,363.08 L42.67,359.65 L42.84,356.26 L43.01,352.90 L43.18,349.61 L43.35,346.39 L43.51,343.25 L43.68,340.22 L43.84,337.29 L44.01,334.49 L44.17,331.83 L44.33,329.32 L44.49,326.97 L44.65,324.78 L44.81,322.78 L44.97,320.96 L45.12,319.34 L45.28,317.92 L45.43,316.71 L45.59,315.71 L45.74,314.93 L45.89,314.37" stroke-width="0.950"/>
<path d="M45.89,314.37 L46.04,314.03 L46.20,313.92 L46.35,314.03 L46.49,314.37 L46.64,314.93 L46.79,315.71 L46.94,316.72 L47.08,317.93 L47.23,319.35 L47.37,320.98 L47.52,322.79 L47.66,324.80 L47.80,326.99 L47.95,329.34 L48.09,331.85 L48.23,334.52 L48.37,337.32 L48.51,340.24 L48.65,343.28 L48.79,346.41 L48.92,349.64 L49.06,352.93 L49.20,356.28 L49.33,359.68 L49.47,363.11 L49.60,366.55 L49.74,369.99 L49.87,373.41 L50.00,376.81 L50.14,380.16 L50.27,383.45 L50.40,386.67 L50.53,389.81 L50.66,392.84 L50.79,395.76 L50.92,398.56 L51.05,401.22 L51.18,403.73 L51.31,406.08 L51.43,408.26 L51.56,410.26 L51.69,412.07 L51.81,413.69 L51.94,415.11 L52.06,416.32 L52.19,417.31 L52.31,418.09 L52.44,418.64" stroke-width="0.950"/>
<path d="M52.44,418.64 L52.56,418.97 L52.68,419.08 L52.81,418.96 L52.93,418.62 L53.05,418.06 L53.17,417.27 L53.29,416.26 L53.41,415.05 L53.53,413.62 L53.65,411.99 L53.77,410.17 L53.89,408.16 L54.01,405.97 L54.13,403.61 L54.24,401.10 L54.36,398.43 L54.48,395.63 L54.59,392.70 L54.71,389.66 L54.83,386.52 L54.94,383.30 L55.06,380.00 L55.17,376.65 L55.29,373.25 L55.40,369.83 L55.51,366.39 L55.63,362.95 L55.74,359.52 L55.85,356.13 L55.97,352.78 L56.08,349.48 L56.19,346.26 L56.30,343.13 L56.41,340.10 L56.52,337.18 L56.63,334.39 L56.74,331.73 L56.85,329.23 L56.96,326.88 L57.07,324.70 L57.18,322.71 L57.29,320.89 L57.40,319.28 L57.51,317.87 L57.62,316.66 L57.72,315.67 L57.83,314.90 L57.94,314.35" stroke-width="0.950"/>
<path d="M57.94,314.35 L58.04,314.02 L58.15,313.92 L58.26,314.04 L58.36,314.39 L58.47,314.96 L58.57,315.75 L58.68,316.76 L58.78,317.98 L58.89,319.41 L58.99,321.04 L59.10,322.87 L59.20,324.88 L59.30,327.07 L59.41,329.43 L59.51,331.95 L59.61,334.62 L59.72,337.43 L59.82,340.36 L59.92,343.40 L60.02,346.54 L60.12,349.76 L60.22,353.06 L60.33,356.41 L60.43,359.81 L60.53,363.24 L60.63,366.68 L60.73,370.12 L60.83,373.54 L60.93,376.94 L61.03,380.29 L61.13,383.58 L61.22,386.80 L61.32,389.93 L61.42,392.96 L61.52,395.87 L61.62,398.66 L61.72,401.32 L61.81,403.82 L61.91,406.16 L62.01,408.34 L62.10,410.33 L62.20,412.14 L62.30,413.75 L62.39,415.16 L62.49,416.36 L62.59,417.34 L62.68,418.11 L62.78,418.66" stroke-width="0.950"/>
<path d="M62.78,418.66 L62.87,418.98 L62.97,419.08 L63.06,418.95 L63.16,418.60 L63.25,418.03 L63.35,417.23 L63.44,416.22 L63.54,414.99 L63.63,413.56 L63.72,411.92 L63.82,410.09 L63.91,408.08 L64.00,405.88 L64.10,403.52 L64.19,401.00 L64.28,398.32 L64.37,395.52 L64.47,392.59 L64.56,389.54 L64.65,386.40 L64.74,383.17 L64.83,379.88 L64.92,376.52 L65.01,373.12 L65.11,369.69 L65.20,366.25 L65.29,362.81 L65.38,359.39 L65.47,356.00 L65.56,352.65 L65.65,349.36 L65.74,346.14 L65.83,343.01 L65.92,339.99 L66.01,337.07 L66.09,334.28 L66.18,331.63 L66.27,329.13 L66.36,326.79 L66.45,324.62 L66.54,322.63 L66.63,320.83 L66.71,319.22 L66.80,317.82 L66.89,316.62 L66.98,315.64 L67.06,314.88 L67.15,314.33" stroke-width="0.950"/>
<path d="M67.15,314.33 L67.24,314.01 L67.32,313.92 L67.41,314.05 L67.50,314.41 L67.58,314.98 L67.67,315.78 L67.76,316.80 L67.84,318.03 L67.93,319.47 L68.01,321.11 L68.10,322.94 L68.19,324.96 L68.27,327.16 L68.36,329.53 L68.44,332.05 L68.53,334.73 L68.61,337.54 L68.70,340.47 L68.78,343.52 L68.86,346.66 L68.95,349.89 L69.03,353.19 L69.12,356.55 L69.20,359.94 L69.28,363.37 L69.37,366.81 L69.45,370.25 L69.53,373.68 L69.62,377.07 L69.70,380.42 L69.78,383.70 L69.86,386.92 L69.95,390.05 L70.03,393.07 L70.11,395.98 L70.19,398.77 L70.28,401.42 L70.36,403.91 L70.44,406.25 L70.52,408.42 L70.60,410.41 L70.68,412.20 L70.77,413.81 L70.85,415.21 L70.93,416.40 L71.01,417.38 L71.09,418.14 L71.17,418.68" stroke-width="0.940"/>
<path d="M71.17,418.68 L71.25,418.99 L71.33,419.08 L71.41,418.95 L71.49,418.59 L71.57,418.00 L71.65,417.20 L71.73,416.18 L71.81,414.94 L71.89,413.50 L71.97,411.86 L72.05,410.02 L72.13,408.00 L72.21,405.79 L72.29,403.42 L72.37,400.89 L72.45,398.22 L72.52,395.41 L72.60,392.47 L72.68,389.42 L72.76,386.28 L72.84,383.05 L72.92,379.75 L72.99,376.39 L73.07,372.99 L73.15,369.56 L73.23,366.12 L73.31,362.68 L73.38,359.26 L73.46,355.87 L73.54,352.52 L73.61,349.23 L73.69,346.02 L73.77,342.89 L73.85,339.87 L73.92,336.96 L74.00,334.18 L74.08,331.53 L74.15,329.04 L74.23,326.71 L74.30,324.54 L74.38,322.56 L74.46,320.76 L74.53,319.16 L74.61,317.77 L74.68,316.58 L74.76,315.61 L74.84,314.85 L74.91,314.32" stroke-width="0.930"/>
<path d="M74.91,314.32 L74.99,314.01 L75.06,313.92 L75.14,314.06 L75.21,314.42 L75.29,315.01 L75.36,315.82 L75.44,316.85 L75.51,318.08 L75.59,319.53 L75.66,321.18 L75.74,323.02 L75.81,325.05 L75.88,327.25 L75.96,329.62 L76.03,332.16 L76.11,334.83 L76.18,337.65 L76.25,340.59 L76.33,343.64 L76.40,346.78 L76.47,350.01 L76.55,353.32 L76.62,356.68 L76.69,360.08 L76.77,363.50 L76.84,366.95 L76.91,370.39 L76.99,373.81 L77.06,377.20 L77.13,380.55 L77.20,383.83 L77.28,387.04 L77.35,390.16 L77.42,393.19 L77.49,396.09 L77.57,398.87 L77.64,401.52 L77.71,404.01 L77.78,406.34 L77.85,408.50 L77.92,410.48 L78.00,412.27 L78.07,413.87 L78.14,415.26 L78.21,416.44 L78.28,417.41 L78.35,418.16 L78.42,418.69" stroke-width="0.930"/>
<path d="M78.42,418.69 L78.50,419.00 L78.57,419.08 L78.64,418.94 L78.71,418.57 L78.78,417.98 L78.85,417.16 L78.92,416.13 L78.99,414.89 L79.06,413.44 L79.13,411.79 L79.20,409.95 L79.27,407.91 L79.34,405.71 L79.41,403.33 L79.48,400.79 L79.55,398.11 L79.62,395.30 L79.69,392.36 L79.76,389.30 L79.83,386.16 L79.90,382.92 L79.97,379.62 L80.04,376.26 L80.11,372.86 L80.18,369.43 L80.25,365.99 L80.31,362.55 L80.38,359.13 L80.45,355.74 L80.52,352.39 L80.59,349.11 L80.66,345.90 L80.73,342.78 L80.80,339.76 L80.86,336.85 L80.93,334.07 L81.00,331.44 L81.07,328.95 L81.14,326.62 L81.20,324.46 L81.27,322.49 L81.34,320.70 L81.41,319.11 L81.48,317.72 L81.54,316.54 L81.61,315.57 L81.68,314.83 L81.75,314.30" stroke-width="0.920"/>
<path d="M81.75,314.30 L81.81,314.00 L81.88,313.92 L81.95,314.07 L82.02,314.44 L82.08,315.04 L82.15,315.86 L82.22,316.89 L82.28,318.14 L82.35,319.59 L82.42,321.24 L82.48,323.09 L82.55,325.13 L82.62,327.34 L82.68,329.72 L82.75,332.26 L82.82,334.94 L82.88,337.76 L82.95,340.70 L83.02,343.76 L83.08,346.91 L83.15,350.14 L83.21,353.45 L83.28,356.81 L83.35,360.21 L83.41,363.64 L83.48,367.08 L83.54,370.52 L83.61,373.94 L83.67,377.33 L83.74,380.67 L83.80,383.96 L83.87,387.16 L83.94,390.28 L84.00,393.30 L84.07,396.20 L84.13,398.98 L84.20,401.61 L84.26,404.10 L84.33,406.42 L84.39,408.58 L84.46,410.55 L84.52,412.33 L84.58,413.92 L84.65,415.31 L84.71,416.48 L84.78,417.44 L84.84,418.19 L84.91,418.71" stroke-width="0.920"/>
<path d="M84.91,418.71 L84.97,419.01 L85.04,419.08 L85.10,418.93 L85.16,418.55 L85.23,417.95 L85.29,417.13 L85.36,416.09 L85.42,414.84 L85.48,413.38 L85.55,411.72 L85.61,409.87 L85.67,407.83 L85.74,405.62 L85.80,403.23 L85.86,400.69 L85.93,398.01 L85.99,395.18 L86.05,392.24 L86.12,389.18 L86.18,386.03 L86.24,382.80 L86.31,379.49 L86.37,376.13 L86.43,372.73 L86.50,369.30 L86.56,365.85 L86.62,362.42 L86.68,358.99 L86.75,355.61 L86.81,352.26 L86.87,348.98 L86.93,345.78 L87.00,342.66 L87.06,339.64 L87.12,336.74 L87.18,333.97 L87.25,331.34 L87.31,328.85 L87.37,326.53 L87.43,324.38 L87.49,322.41 L87.56,320.63 L87.62,319.05 L87.68,317.67 L87.74,316.50 L87.80,315.54 L87.86,314.80 L87.93,314.28" stroke-width="0.910"/>
<path d="M87.93,314.28 L87.99,313.99 L88.05,313.92 L88.11,314.08 L88.17,314.46 L88.23,315.07 L88.29,315.89 L88.36,316.93 L88.42,318.19 L88.48,319.65 L88.54,321.31 L88.60,323.17 L88.66,325.21 L88.72,327.43 L88.78,329.81 L88.84,332.36 L88.90,335.05 L88.97,337.87 L89.03,340.82 L89.09,343.88 L89.15,347.03 L89.21,350.27 L89.27,353.57 L89.33,356.94 L89.39,360.34 L89.45,363.77 L89.51,367.21 L89.57,370.65 L89.63,374.07 L89.69,377.46 L89.75,380.80 L89.81,384.08 L89.87,387.29 L89.93,390.40 L89.99,393.41 L90.05,396.31 L90.11,399.08 L90.17,401.71 L90.23,404.19 L90.29,406.51 L90.35,408.66 L90.41,410.62 L90.47,412.40 L90.53,413.98 L90.59,415.36 L90.65,416.52 L90.70,417.48 L90.76,418.21 L90.82,418.72" stroke-width="0.910"/>
<path d="M90.82,418.72 L90.88,419.01 L90.94,419.08 L91.00,418.92 L91.06,418.53 L91.12,417.92 L91.18,417.09 L91.24,416.04 L91.29,414.79 L91.35,413.32 L91.41,411.65 L91.47,409.79 L91.53,407.75 L91.59,405.53 L91.65,403.14 L91.70,400.59 L91.76,397.90 L91.82,395.07 L91.88,392.12 L91.94,389.06 L92.00,385.91 L92.05,382.67 L92.11,379.36 L92.17,376.00 L92.23,372.59 L92.29,369.16 L92.35,365.72 L92.40,362.28 L92.46,358.86 L92.52,355.48 L92.58,352.14 L92.63,348.86 L92.69,345.65 L92.75,342.54 L92.81,339.53 L92.87,336.63 L92.92,333.87 L92.98,331.24 L93.04,328.76 L93.10,326.45 L93.15,324.30 L93.21,322.34 L93.27,320.57 L93.32,318.99 L93.38,317.62 L93.44,316.46 L93.50,315.51 L93.55,314.78 L93.61,314.27" stroke-width="0.910"/>
<path d="M93.61,314.27 L93.67,313.98 L93.72,313.92 L93.78,314.09 L93.84,314.48 L93.89,315.09 L93.95,315.93 L94.01,316.98 L94.06,318.24 L94.12,319.71 L94.18,321.38 L94.23,323.24 L94.29,325.29 L94.35,327.52 L94.40,329.91 L94.46,332.46 L94.52,335.15 L94.57,337.98 L94.63,340.93 L94.69,344.00 L94.74,347.15 L94.80,350.39 L94.85,353.70 L94.91,357.07 L94.97,360.47 L95.02,363.90 L95.08,367.34 L95.13,370.78 L95.19,374.20 L95.25,377.59 L95.30,380.93 L95.36,384.21 L95.41,387.41 L95.47,390.52 L95.52,393.53 L95.58,396.42 L95.64,399.19 L95.69,401.81 L95.75,404.29 L95.80,406.60 L95.86,408.74 L95.91,410.70 L95.97,412.46 L96.02,414.04 L96.08,415.41 L96.13,416.56 L96.19,417.51 L96.24,418.24 L96.30,418.74" stroke-width="0.900"/>
<path d="M96.30,418.74 L96.35,419.02 L96.41,419.07 L96.46,418.90 L96.52,418.51 L96.57,417.89 L96.63,417.05 L96.68,416.00 L96.74,414.73 L96.79,413.26 L96.85,411.59 L96.90,409.72 L96.96,407.67 L97.01,405.44 L97.07,403.04 L97.12,400.49 L97.18,397.79 L97.23,394.96 L97.29,392.01 L97.34,388.94 L97.39,385.79 L97.45,382.54 L97.50,379.23 L97.56,375.87 L97.61,372.46 L97.67,369.03 L97.72,365.59 L97.77,362.15 L97.83,358.73 L97.88,355.35 L97.94,352.01 L97.99,348.73 L98.04,345.53 L98.10,342.42 L98.15,339.41 L98.20,336.52 L98.26,333.76 L98.31,331.14 L98.37,328.67 L98.42,326.36 L98.47,324.22 L98.53,322.27 L98.58,320.50 L98.63,318.93 L98.69,317.57 L98.74,316.42 L98.79,315.47 L98.85,314.75 L98.90,314.25" stroke-width="0.900"/>
<path d="M98.90,314.25 L98.95,313.98 L99.01,313.93 L99.06,314.10 L99.11,314.50 L99.17,315.12 L99.22,315.96 L99.27,317.02 L99.33,318.29 L99.38,319.77 L99.43,321.45 L99.49,323.32 L99.54,325.37 L99.59,327.61 L99.64,330.00 L99.70,332.56 L99.75,335.26 L99.80,338.09 L99.86,341.05 L99.91,344.12 L99.96,347.28 L100.01,350.52 L100.07,353.83 L100.12,357.20 L100.17,360.60 L100.22,364.04 L100.28,367.48 L100.33,370.92 L100.38,374.33 L100.43,377.72 L100.49,381.06 L100.54,384.33 L100.59,387.53 L100.64,390.64 L100.70,393.64 L100.75,396.53 L100.80,399.29 L100.85,401.91 L100.90,404.38 L100.96,406.68 L101.01,408.82 L101.06,410.77 L101.11,412.53 L101.16,414.09 L101.22,415.45 L101.27,416.61 L101.32,417.54 L101.37,418.26 L101.42,418.75" stroke-width="0.900"/>
<path d="M101.42,418.75 L101.47,419.03 L101.53,419.07 L101.58,418.89 L101.63,418.49 L101.68,417.86 L101.73,417.02 L101.78,415.95 L101.84,414.68 L101.89,413.20 L101.94,411.52 L101.99,409.64 L102.04,407.58 L102.09,405.35 L102.14,402.95 L102.20,400.39 L102.25,397.69 L102.30,394.85 L102.35,391.89 L102.40,388.82 L102.45,385.66 L102.50,382.42 L102.55,379.10 L102.61,375.74 L102.66,372.33 L102.71,368.90 L102.76,365.46 L102.81,362.02 L102.86,358.60 L102.91,355.22 L102.96,351.88 L103.01,348.61 L103.06,345.41 L103.11,342.30 L103.16,339.30 L103.22,336.41 L103.27,333.66 L103.32,331.04 L103.37,328.58 L103.42,326.27 L103.47,324.14 L103.52,322.20 L103.57,320.44 L103.62,318.88 L103.67,317.52 L103.72,316.37 L103.77,315.44 L103.82,314.73 L103.87,314.24" stroke-width="0.900"/>
<path d="M103.87,314.24 L103.92,313.97 L103.97,313.93 L104.02,314.11 L104.07,314.52 L104.12,315.15 L104.17,316.00 L104.22,317.07 L104.27,318.35 L104.32,319.83 L104.37,321.52 L104.42,323.39 L104.47,325.46 L104.52,327.70 L104.57,330.10 L104.62,332.66 L104.67,335.37 L104.72,338.21 L104.77,341.17 L104.82,344.24 L104.87,347.40 L104.92,350.65 L104.97,353.96 L105.02,357.33 L105.07,360.74 L105.12,364.17 L105.17,367.61 L105.22,371.05 L105.27,374.47 L105.32,377.85 L105.37,381.18 L105.42,384.46 L105.47,387.65 L105.52,390.76 L105.57,393.76 L105.62,396.64 L105.66,399.39 L105.71,402.01 L105.76,404.47 L105.81,406.77 L105.86,408.89 L105.91,410.84 L105.96,412.59 L106.01,414.15 L106.06,415.50 L106.11,416.65 L106.16,417.57 L106.21,418.28 L106.25,418.77" stroke-width="0.900"/>
<path d="M106.25,418.77 L106.30,419.03 L106.35,419.07 L106.40,418.88 L106.45,418.47 L106.50,417.84 L106.55,416.98 L106.60,415.91 L106.65,414.63 L106.69,413.14 L106.74,411.45 L106.79,409.57 L106.84,407.50 L106.89,405.26 L106.94,402.85 L106.99,400.29 L107.03,397.58 L107.08,394.74 L107.13,391.77 L107.18,388.70 L107.23,385.54 L107.28,382.29 L107.33,378.97 L107.37,375.61 L107.42,372.20 L107.47,368.76 L107.52,365.32 L107.57,361.89 L107.62,358.47 L107.66,355.09 L107.71,351.75 L107.76,348.48 L107.81,345.29 L107.86,342.19 L107.90,339.19 L107.95,336.31 L108.00,333.55 L108.05,330.94 L108.10,328.48 L108.14,326.19 L108.19,324.07 L108.24,322.13 L108.29,320.37 L108.34,318.82 L108.38,317.47 L108.43,316.33 L108.48,315.41 L108.53,314.71 L108.57,314.22" stroke-width="0.900"/>
<path d="M108.57,314.22 L108.62,313.97 L108.67,313.93 L108.72,314.12 L108.77,314.54 L108.81,315.18 L108.86,316.04 L108.91,317.11 L108.96,318.40 L109.00,319.89 L109.05,321.59 L109.10,323.47 L109.15,325.54 L109.19,327.79 L109.24,330.20 L109.29,332.76 L109.34,335.47 L109.38,338.32 L109.43,341.28 L109.48,344.36 L109.52,347.52 L109.57,350.77 L109.62,354.09 L109.67,357.46 L109.71,360.87 L109.76,364.30 L109.81,367.74 L109.85,371.18 L109.90,374.60 L109.95,377.98 L110.00,381.31 L110.04,384.58 L110.09,387.77 L110.14,390.87 L110.18,393.87 L110.23,396.75 L110.28,399.50 L110.32,402.11 L110.37,404.56 L110.42,406.85 L110.46,408.97 L110.51,410.91 L110.56,412.66 L110.61,414.21 L110.65,415.55 L110.70,416.69 L110.75,417.60 L110.79,418.30 L110.84,418.78" stroke-width="0.900"/>
<path d="M110.84,418.78 L110.89,419.04 L110.93,419.07 L110.98,418.87 L111.02,418.45 L111.07,417.81 L111.12,416.94 L111.16,415.86 L111.21,414.57 L111.26,413.08 L111.30,411.38 L111.35,409.49 L111.40,407.42 L111.44,405.17 L111.49,402.76 L111.53,400.19 L111.58,397.47 L111.63,394.63 L111.67,391.66 L111.72,388.58 L111.77,385.41 L111.81,382.16 L111.86,378.85 L111.90,375.47 L111.95,372.07 L112.00,368.63 L112.04,365.19 L112.09,361.75 L112.13,358.34 L112.18,354.96 L112.23,351.62 L112.27,348.36 L112.32,345.17 L112.36,342.07 L112.41,339.07 L112.46,336.20 L112.50,333.45 L112.55,330.84 L112.59,328.39 L112.64,326.10 L112.68,323.99 L112.73,322.05 L112.78,320.31 L112.82,318.77 L112.87,317.43 L112.91,316.30 L112.96,315.38 L113.00,314.68 L113.05,314.21" stroke-width="0.900"/>
<path d="M113.05,314.21 L113.09,313.96 L113.14,313.94 L113.19,314.14 L113.23,314.56 L113.28,315.21 L113.32,316.08 L113.37,317.16 L113.41,318.45 L113.46,319.95 L113.50,321.65 L113.55,323.55 L113.59,325.62 L113.64,327.88 L113.68,330.29 L113.73,332.87 L113.77,335.58 L113.82,338.43 L113.87,341.40 L113.91,344.48 L113.96,347.65 L114.00,350.90 L114.05,354.22 L114.09,357.59 L114.14,361.00 L114.18,364.43 L114.23,367.88 L114.27,371.31 L114.32,374.73 L114.36,378.11 L114.41,381.44 L114.45,384.71 L114.50,387.89 L114.54,390.99 L114.58,393.98 L114.63,396.86 L114.67,399.60 L114.72,402.20 L114.76,404.65 L114.81,406.94 L114.85,409.05 L114.90,410.98 L114.94,412.72 L114.99,414.26 L115.03,415.60 L115.08,416.72 L115.12,417.64 L115.17,418.33 L115.21,418.80" stroke-width="0.900"/>
<path d="M115.21,418.80 L115.25,419.04 L115.30,419.06 L115.34,418.86 L115.39,418.43 L115.43,417.78 L115.48,416.91 L115.52,415.82 L115.57,414.52 L115.61,413.01 L115.65,411.31 L115.70,409.41 L115.74,407.33 L115.79,405.08 L115.83,402.66 L115.88,400.08 L115.92,397.36 L115.96,394.51 L116.01,391.54 L116.05,388.46 L116.10,385.29 L116.14,382.04 L116.19,378.72 L116.23,375.34 L116.27,371.93 L116.32,368.50 L116.36,365.06 L116.41,361.62 L116.45,358.21 L116.49,354.83 L116.54,351.50 L116.58,348.23 L116.63,345.04 L116.67,341.95 L116.71,338.96 L116.76,336.09 L116.80,333.35 L116.84,330.75 L116.89,328.30 L116.93,326.02 L116.98,323.91 L117.02,321.98 L117.06,320.25 L117.11,318.71 L117.15,317.38 L117.19,316.26 L117.24,315.35 L117.28,314.66 L117.33,314.20" stroke-width="0.900"/>
<path d="M117.33,314.20 L117.37,313.95 L117.41,313.94 L117.46,314.15 L117.50,314.58 L117.54,315.24 L117.59,316.11 L117.63,317.21 L117.67,318.51 L117.72,320.02 L117.76,321.72 L117.80,323.62 L117.85,325.71 L117.89,327.97 L117.93,330.39 L117.98,332.97 L118.02,335.69 L118.06,338.54 L118.11,341.52 L118.15,344.60 L118.19,347.77 L118.24,351.03 L118.28,354.35 L118.32,357.72 L118.37,361.13 L118.41,364.57 L118.45,368.01 L118.50,371.45 L118.54,374.86 L118.58,378.24 L118.62,381.57 L118.67,384.83 L118.71,388.02 L118.75,391.11 L118.80,394.10 L118.84,396.97 L118.88,399.70 L118.93,402.30 L118.97,404.74 L119.01,407.02 L119.05,409.13 L119.10,411.05 L119.14,412.78 L119.18,414.32 L119.23,415.65 L119.27,416.76 L119.31,417.67 L119.35,418.35 L119.40,418.81" stroke-width="0.900"/>
<path d="M119.40,418.81 L119.44,419.05 L119.48,419.06 L119.52,418.85 L119.57,418.41 L119.61,417.75 L119.65,416.87 L119.70,415.77 L119.74,414.46 L119.78,412.95 L119.82,411.24 L119.87,409.34 L119.91,407.25 L119.95,404.99 L119.99,402.56 L120.04,399.98 L120.08,397.26 L120.12,394.40 L120.16,391.42 L120.21,388.34 L120.25,385.17 L120.29,381.91 L120.33,378.59 L120.37,375.21 L120.42,371.80 L120.46,368.37 L120.50,364.92 L120.54,361.49 L120.59,358.07 L120.63,354.70 L120.67,351.37 L120.71,348.11 L120.76,344.92 L120.80,341.83 L120.84,338.85 L120.88,335.98 L120.92,333.24 L120.97,330.65 L121.01,328.21 L121.05,325.93 L121.09,323.83 L121.13,321.91 L121.18,320.18 L121.22,318.66 L121.26,317.33 L121.30,316.22 L121.34,315.32 L121.39,314.64 L121.43,314.18" stroke-width="0.900"/>
<path d="M121.43,314.18 L121.47,313.95 L121.51,313.94 L121.55,314.16 L121.60,314.60 L121.64,315.27 L121.68,316.15 L121.72,317.25 L121.76,318.56 L121.80,320.08 L121.85,321.79 L121.89,323.70 L121.93,325.79 L121.97,328.06 L122.01,330.49 L122.05,333.07 L122.10,335.80 L122.14,338.66 L122.18,341.63 L122.22,344.72 L122.26,347.90 L122.30,351.15 L122.35,354.48 L122.39,357.85 L122.43,361.27 L122.47,364.70 L122.51,368.14 L122.55,371.58 L122.59,374.99 L122.64,378.37 L122.68,381.69 L122.72,384.96 L122.76,388.14 L122.80,391.23 L122.84,394.21 L122.88,397.07 L122.93,399.81 L122.97,402.40 L123.01,404.84 L123.05,407.11 L123.09,409.21 L123.13,411.12 L123.17,412.85 L123.21,414.37 L123.26,415.69 L123.30,416.80 L123.34,417.70 L123.38,418.37 L123.42,418.82" stroke-width="0.890"/>
<path d="M123.42,418.82 L123.46,419.05 L123.50,419.06 L123.54,418.83 L123.58,418.39 L123.63,417.72 L123.67,416.83 L123.71,415.73 L123.75,414.41 L123.79,412.89 L123.83,411.17 L123.87,409.26 L123.91,407.17 L123.95,404.90 L123.99,402.47 L124.04,399.88 L124.08,397.15 L124.12,394.29 L124.16,391.31 L124.20,388.22 L124.24,385.04 L124.28,381.78 L124.32,378.46 L124.36,375.08 L124.40,371.67 L124.44,368.23 L124.48,364.79 L124.52,361.36 L124.57,357.94 L124.61,354.57 L124.65,351.24 L124.69,347.98 L124.73,344.80 L124.77,341.71 L124.81,338.73 L124.85,335.87 L124.89,333.14 L124.93,330.55 L124.97,328.12 L125.01,325.85 L125.05,323.75 L125.09,321.84 L125.13,320.12 L125.17,318.60 L125.21,317.28 L125.25,316.18 L125.30,315.29 L125.34,314.62 L125.38,314.17" stroke-width="0.890"/>
<path d="M125.38,314.17 L125.42,313.95 L125.46,313.95 L125.50,314.17 L125.54,314.62 L125.58,315.30 L125.62,316.19 L125.66,317.30 L125.70,318.62 L125.74,320.14 L125.78,321.86 L125.82,323.78 L125.86,325.88 L125.90,328.15 L125.94,330.58 L125.98,333.17 L126.02,335.91 L126.06,338.77 L126.10,341.75 L126.14,344.84 L126.18,348.02 L126.22,351.28 L126.26,354.61 L126.30,357.98 L126.34,361.40 L126.38,364.83 L126.42,368.27 L126.46,371.71 L126.50,375.12 L126.54,378.50 L126.58,381.82 L126.62,385.08 L126.66,388.26 L126.70,391.34 L126.74,394.32 L126.78,397.18 L126.82,399.91 L126.86,402.49 L126.90,404.93 L126.94,407.19 L126.98,409.28 L127.02,411.19 L127.06,412.91 L127.10,414.43 L127.14,415.74 L127.18,416.84 L127.22,417.73 L127.26,418.39 L127.30,418.83" stroke-width="0.890"/>
<path d="M127.30,418.83 L127.34,419.05 L127.38,419.05 L127.42,418.82 L127.46,418.36 L127.50,417.68 L127.54,416.79 L127.58,415.68 L127.62,414.35 L127.65,412.82 L127.69,411.10 L127.73,409.18 L127.77,407.08 L127.81,404.80 L127.85,402.37 L127.89,399.77 L127.93,397.04 L127.97,394.17 L128.01,391.19 L128.05,388.10 L128.09,384.91 L128.13,381.65 L128.17,378.33 L128.21,374.95 L128.25,371.54 L128.29,368.10 L128.33,364.66 L128.36,361.23 L128.40,357.81 L128.44,354.44 L128.48,351.12 L128.52,347.86 L128.56,344.69 L128.60,341.60 L128.64,338.63 L128.68,335.77 L128.72,333.05 L128.76,330.47 L128.80,328.04 L128.84,325.78 L128.87,323.69 L128.91,321.79 L128.95,320.08 L128.99,318.57 L129.03,317.26 L129.07,316.16 L129.11,315.28 L129.15,314.62 L129.19,314.18" stroke-width="0.890"/>
<path d="M129.19,314.18 L129.23,313.97 L129.27,313.98 L129.30,314.22 L129.34,314.68 L129.38,315.36 L129.42,316.26 L129.46,317.38 L129.50,318.71 L129.54,320.24 L129.58,321.97 L129.62,323.89 L129.65,326.00 L129.69,328.27 L129.73,330.71 L129.77,333.31 L129.81,336.05 L129.85,338.91 L129.89,341.90 L129.93,344.99 L129.97,348.17 L130.00,351.43 L130.04,354.75 L130.08,358.13 L130.12,361.54 L130.16,364.97 L130.20,368.40 L130.24,371.83 L130.27,375.24 L130.31,378.61 L130.35,381.92 L130.39,385.17 L130.43,388.34 L130.47,391.41 L130.51,394.37 L130.55,397.22 L130.58,399.93 L130.62,402.50 L130.66,404.92 L130.70,407.17 L130.74,409.24 L130.78,411.14 L130.81,412.84 L130.85,414.34 L130.89,415.63 L130.93,416.72 L130.97,417.58 L131.01,418.23 L131.05,418.66" stroke-width="0.890"/>
<path d="M131.05,418.66 L131.08,418.86 L131.12,418.84 L131.16,418.60 L131.20,418.13 L131.24,417.44 L131.28,416.53 L131.31,415.41 L131.35,414.07 L131.39,412.54 L131.43,410.81 L131.47,408.88 L131.51,406.78 L131.54,404.50 L131.58,402.07 L131.62,399.48 L131.66,396.75 L131.70,393.89 L131.73,390.91 L131.77,387.83 L131.81,384.67 L131.85,381.42 L131.89,378.11 L131.93,374.76 L131.96,371.37 L132.00,367.96 L132.04,364.54 L132.08,361.14 L132.12,357.76 L132.15,354.42 L132.19,351.13 L132.23,347.91 L132.27,344.77 L132.31,341.73 L132.34,338.80 L132.38,335.98 L132.42,333.30 L132.46,330.76 L132.50,328.38 L132.53,326.16 L132.57,324.12 L132.61,322.26 L132.65,320.59 L132.68,319.12 L132.72,317.85 L132.76,316.79 L132.80,315.95 L132.84,315.32 L132.87,314.91" stroke-width="0.890"/>
<path d="M132.87,314.91 L132.91,314.73 L132.95,314.77 L132.99,315.02 L133.03,315.50 L133.06,316.20 L133.10,317.12 L133.14,318.24 L133.18,319.57 L133.21,321.10 L133.25,322.83 L133.29,324.74 L133.33,326.82 L133.36,329.08 L133.40,331.49 L133.44,334.06 L133.48,336.76 L133.51,339.58 L133.55,342.52 L133.59,345.56 L133.63,348.68 L133.67,351.88 L133.70,355.14 L133.74,358.44 L133.78,361.78 L133.82,365.13 L133.85,368.49 L133.89,371.83 L133.93,375.15 L133.97,378.43 L134.00,381.65 L134.04,384.81 L134.08,387.88 L134.11,390.86 L134.15,393.73 L134.19,396.49 L134.23,399.11 L134.26,401.59 L134.30,403.91 L134.34,406.08 L134.38,408.07 L134.41,409.88 L134.45,411.50 L134.49,412.93 L134.53,414.16 L134.56,415.19 L134.60,416.00 L134.64,416.60 L134.67,416.99" stroke-width="0.890"/>
<path d="M134.67,416.99 L134.71,417.16 L134.75,417.11 L134.79,416.85 L134.82,416.37 L134.86,415.68 L134.90,414.77 L134.94,413.66 L134.97,412.36 L135.01,410.85 L135.05,409.16 L135.08,407.29 L135.12,405.24 L135.16,403.03 L135.19,400.67 L135.23,398.16 L135.27,395.52 L135.31,392.75 L135.34,389.88 L135.38,386.91 L135.42,383.85 L135.45,380.73 L135.49,377.54 L135.53,374.31 L135.56,371.05 L135.60,367.77 L135.64,364.49 L135.68,361.22 L135.71,357.98 L135.75,354.77 L135.79,351.62 L135.82,348.53 L135.86,345.53 L135.90,342.61 L135.93,339.80 L135.97,337.10 L136.01,334.54 L136.04,332.11 L136.08,329.82 L136.12,327.70 L136.15,325.74 L136.19,323.96 L136.23,322.36 L136.26,320.96 L136.30,319.74 L136.34,318.73 L136.38,317.92 L136.41,317.32 L136.45,316.93" stroke-width="0.890"/>
<path d="M136.45,316.93 L136.49,316.75 L136.52,316.79 L136.56,317.04 L136.60,317.49 L136.63,318.16 L136.67,319.04 L136.70,320.11 L136.74,321.39 L136.78,322.86 L136.81,324.51 L136.85,326.34 L136.89,328.35 L136.92,330.51 L136.96,332.83 L137.00,335.30 L137.03,337.90 L137.07,340.62 L137.11,343.45 L137.14,346.38 L137.18,349.39 L137.22,352.48 L137.25,355.63 L137.29,358.82 L137.33,362.05 L137.36,365.30 L137.40,368.55 L137.43,371.80 L137.47,375.02 L137.51,378.21 L137.54,381.35 L137.58,384.43 L137.62,387.43 L137.65,390.34 L137.69,393.15 L137.73,395.85 L137.76,398.43 L137.80,400.86 L137.83,403.16 L137.87,405.29 L137.91,407.27 L137.94,409.06 L137.98,410.68 L138.02,412.11 L138.05,413.35 L138.09,414.38 L138.12,415.21 L138.16,415.84 L138.20,416.25" stroke-width="0.890"/>
<path d="M138.20,416.25 L138.23,416.45 L138.27,416.43 L138.30,416.21 L138.34,415.77 L138.38,415.11 L138.41,414.25 L138.45,413.19 L138.49,411.92 L138.52,410.46 L138.56,408.81 L138.59,406.98 L138.63,404.97 L138.67,402.80 L138.70,400.46 L138.74,397.99 L138.77,395.37 L138.81,392.63 L138.85,389.77 L138.88,386.82 L138.92,383.77 L138.95,380.64 L138.99,377.46 L139.03,374.22 L139.06,370.95 L139.10,367.65 L139.13,364.35 L139.17,361.05 L139.20,357.78 L139.24,354.54 L139.28,351.35 L139.31,348.21 L139.35,345.16 L139.38,342.19 L139.42,339.33 L139.46,336.58 L139.49,333.95 L139.53,331.47 L139.56,329.13 L139.60,326.94 L139.63,324.93 L139.67,323.09 L139.71,321.44 L139.74,319.98 L139.78,318.72 L139.81,317.66 L139.85,316.81 L139.88,316.17 L139.92,315.75" stroke-width="0.890"/>
<path d="M139.92,315.75 L139.96,315.55 L139.99,315.56 L140.03,315.79 L140.06,316.24 L140.10,316.91 L140.13,317.79 L140.17,318.88 L140.20,320.17 L140.24,321.67 L140.28,323.36 L140.31,325.23 L140.35,327.28 L140.38,329.51 L140.42,331.89 L140.45,334.42 L140.49,337.10 L140.52,339.90 L140.56,342.82 L140.60,345.84 L140.63,348.95 L140.67,352.14 L140.70,355.39 L140.74,358.69 L140.77,362.03 L140.81,365.39 L140.84,368.76 L140.88,372.11 L140.91,375.45 L140.95,378.75 L140.99,382.00 L141.02,385.18 L141.06,388.28 L141.09,391.30 L141.13,394.20 L141.16,396.99 L141.20,399.65 L141.23,402.17 L141.27,404.54 L141.30,406.74 L141.34,408.77 L141.37,410.62 L141.41,412.29 L141.44,413.75 L141.48,415.02 L141.51,416.07 L141.55,416.91 L141.58,417.54 L141.62,417.95" stroke-width="0.890"/>
<path d="M141.62,417.95 L141.66,418.13 L141.69,418.10 L141.73,417.84 L141.76,417.36 L141.80,416.67 L141.83,415.76 L141.87,414.63 L141.90,413.30 L141.94,411.77 L141.97,410.05 L142.01,408.13 L142.04,406.04 L142.08,403.78 L142.11,401.36 L142.15,398.79 L142.18,396.08 L142.22,393.24 L142.25,390.29 L142.29,387.24 L142.32,384.10 L142.36,380.88 L142.39,377.61 L142.43,374.28 L142.46,370.93 L142.50,367.55 L142.53,364.17 L142.57,360.80 L142.60,357.46 L142.64,354.16 L142.67,350.91 L142.71,347.73 L142.74,344.63 L142.78,341.62 L142.81,338.73 L142.85,335.95 L142.88,333.30 L142.91,330.80 L142.95,328.46 L142.98,326.28 L143.02,324.27 L143.05,322.44 L143.09,320.81 L143.12,319.37 L143.16,318.13 L143.19,317.10 L143.23,316.29 L143.26,315.69 L143.30,315.31" stroke-width="0.890"/>
<path d="M143.30,315.31 L143.33,315.15 L143.37,315.21 L143.40,315.48 L143.44,315.98 L143.47,316.70 L143.51,317.63 L143.54,318.76 L143.57,320.10 L143.61,321.64 L143.64,323.37 L143.68,325.29 L143.71,327.38 L143.75,329.63 L143.78,332.04 L143.82,334.60 L143.85,337.29 L143.89,340.11 L143.92,343.04 L143.96,346.06 L143.99,349.17 L144.02,352.36 L144.06,355.60 L144.09,358.88 L144.13,362.20 L144.16,365.53 L144.20,368.86 L144.23,372.18 L144.27,375.47 L144.30,378.72 L144.33,381.92 L144.37,385.05 L144.40,388.09 L144.44,391.04 L144.47,393.88 L144.51,396.61 L144.54,399.20 L144.58,401.65 L144.61,403.94 L144.64,406.08 L144.68,408.04 L144.71,409.82 L144.75,411.42 L144.78,412.82 L144.82,414.02 L144.85,415.02 L144.88,415.81 L144.92,416.39 L144.95,416.75" stroke-width="0.890"/>
<path d="M144.95,416.75 L144.99,416.90 L145.02,416.83 L145.06,416.55 L145.09,416.05 L145.12,415.34 L145.16,414.42 L145.19,413.30 L145.23,411.98 L145.26,410.46 L145.30,408.76 L145.33,406.88 L145.36,404.83 L145.40,402.61 L145.43,400.24 L145.47,397.73 L145.50,395.09 L145.53,392.32 L145.57,389.45 L145.60,386.48 L145.64,383.43 L145.67,380.31 L145.70,377.13 L145.74,373.91 L145.77,370.66 L145.81,367.39 L145.84,364.12 L145.88,360.86 L145.91,357.63 L145.94,354.44 L145.98,351.30 L146.01,348.23 L146.05,345.24 L146.08,342.34 L146.11,339.54 L146.15,336.86 L146.18,334.31 L146.21,331.90 L146.25,329.64 L146.28,327.54 L146.32,325.60 L146.35,323.84 L146.38,322.26 L146.42,320.87 L146.45,319.68 L146.49,318.69 L146.52,317.90 L146.55,317.32 L146.59,316.95" stroke-width="0.890"/>
<path d="M146.59,316.95 L146.62,316.79 L146.66,316.85 L146.69,317.12 L146.72,317.60 L146.76,318.28 L146.79,319.18 L146.82,320.27 L146.86,321.57 L146.89,323.05 L146.93,324.72 L146.96,326.57 L146.99,328.59 L147.03,330.78 L147.06,333.11 L147.09,335.59 L147.13,338.20 L147.16,340.93 L147.20,343.78 L147.23,346.72 L147.26,349.74 L147.30,352.84 L147.33,355.99 L147.36,359.19 L147.40,362.43 L147.43,365.68 L147.46,368.93 L147.50,372.18 L147.53,375.40 L147.57,378.59 L147.60,381.72 L147.63,384.79 L147.67,387.79 L147.70,390.69 L147.73,393.50 L147.77,396.18 L147.80,398.75 L147.83,401.17 L147.87,403.45 L147.90,405.57 L147.93,407.52 L147.97,409.30 L148.00,410.90 L148.04,412.31 L148.07,413.53 L148.10,414.54 L148.14,415.35 L148.17,415.95 L148.20,416.34" stroke-width="0.890"/>
<path d="M148.20,416.34 L148.24,416.51 L148.27,416.47 L148.30,416.22 L148.34,415.75 L148.37,415.08 L148.40,414.19 L148.44,413.10 L148.47,411.81 L148.50,410.33 L148.54,408.65 L148.57,406.80 L148.60,404.77 L148.64,402.57 L148.67,400.22 L148.70,397.72 L148.74,395.09 L148.77,392.33 L148.80,389.46 L148.84,386.49 L148.87,383.43 L148.90,380.29 L148.94,377.09 L148.97,373.85 L149.00,370.57 L149.04,367.27 L149.07,363.97 L149.10,360.67 L149.14,357.39 L149.17,354.15 L149.20,350.97 L149.23,347.84 L149.27,344.79 L149.30,341.83 L149.33,338.98 L149.37,336.24 L149.40,333.63 L149.43,331.16 L149.47,328.83 L149.50,326.67 L149.53,324.67 L149.57,322.86 L149.60,321.22 L149.63,319.78 L149.67,318.54 L149.70,317.51 L149.73,316.68 L149.76,316.07 L149.80,315.67" stroke-width="0.890"/>
<path d="M149.80,315.67 L149.83,315.49 L149.86,315.53 L149.90,315.78 L149.93,316.26 L149.96,316.95 L150.00,317.85 L150.03,318.97 L150.06,320.28 L150.09,321.80 L150.13,323.51 L150.16,325.41 L150.19,327.48 L150.23,329.73 L150.26,332.13 L150.29,334.68 L150.33,337.37 L150.36,340.19 L150.39,343.12 L150.42,346.16" stroke-width="0.890"/>
</g>
</g><g filter="url(#blr2)">
<g transform="scale(1.0,1)" fill="none" stroke="#0000ff" stroke-linejoin="round">
<path d="M150.42,346.16 L150.46,349.28 L150.49,352.49 L150.52,355.75 L150.56,359.06 L150.59,362.41 L150.62,365.78 L150.65,369.15 L150.69,372.52 L150.72,375.86 L150.75,379.16 L150.79,382.41 L150.82,385.60 L150.85,388.70 L150.88,391.71 L150.92,394.62 L150.95,397.41 L150.98,400.06 L151.01,402.58 L151.05,404.94 L151.08,407.14 L151.11,409.16 L151.15,411.00 L151.18,412.66 L151.21,414.11 L151.24,415.37 L151.28,416.41 L151.31,417.24 L151.34,417.85 L151.37,418.25 L151.41,418.42 L151.44,418.37 L151.47,418.09 L151.50,417.60 L151.54,416.88 L151.57,415.95 L151.60,414.81 L151.64,413.45 L151.67,411.90 L151.70,410.15 L151.73,408.21 L151.77,406.09 L151.80,403.80 L151.83,401.35 L151.86,398.75 L151.90,396.01 L151.93,393.15 L151.96,390.16 L151.99,387.08" stroke-width="0.890"/>
<path d="M151.99,387.08 L152.03,383.90 L152.06,380.65 L152.09,377.34 L152.12,373.97 L152.16,370.58 L152.19,367.17 L152.22,363.75 L152.25,360.34 L152.29,356.96 L152.32,353.62 L152.35,350.33 L152.38,347.11 L152.42,343.97 L152.45,340.93 L152.48,338.00 L152.51,335.19 L152.54,332.51 L152.58,329.97 L152.61,327.60 L152.64,325.39 L152.67,323.35 L152.71,321.50 L152.74,319.84 L152.77,318.38 L152.80,317.13 L152.84,316.09 L152.87,315.26 L152.90,314.66 L152.93,314.28 L152.97,314.12 L153.00,314.18 L153.03,314.47 L153.06,314.98 L153.09,315.72 L153.13,316.67 L153.16,317.83 L153.19,319.21 L153.22,320.79 L153.26,322.56 L153.29,324.52 L153.32,326.67 L153.35,328.98 L153.38,331.45 L153.42,334.08 L153.45,336.85 L153.48,339.74 L153.51,342.75 L153.54,345.86" stroke-width="0.890"/>
<path d="M153.54,345.86 L153.58,349.06 L153.61,352.33 L153.64,355.67 L153.67,359.05 L153.71,362.46 L153.74,365.90 L153.77,369.33 L153.80,372.76 L153.83,376.15 L153.87,379.51 L153.90,382.81 L153.93,386.04 L153.96,389.19 L153.99,392.24 L154.03,395.18 L154.06,398.00 L154.09,400.68 L154.12,403.22 L154.15,405.60 L154.19,407.81 L154.22,409.85 L154.25,411.70 L154.28,413.35 L154.31,414.81 L154.35,416.06 L154.38,417.09 L154.41,417.91 L154.44,418.51 L154.47,418.89 L154.51,419.04 L154.54,418.96 L154.57,418.67 L154.60,418.14 L154.63,417.40 L154.67,416.44 L154.70,415.26 L154.73,413.88 L154.76,412.29 L154.79,410.50 L154.82,408.53 L154.86,406.38 L154.89,404.05 L154.92,401.57 L154.95,398.93 L154.98,396.16 L155.02,393.25 L155.05,390.24 L155.08,387.12" stroke-width="0.890"/>
<path d="M155.08,387.12 L155.11,383.91 L155.14,380.63 L155.17,377.29 L155.21,373.90 L155.24,370.48 L155.27,367.04 L155.30,363.60 L155.33,360.17 L155.37,356.77 L155.40,353.41 L155.43,350.11 L155.46,346.87 L155.49,343.72 L155.52,340.67 L155.56,337.73 L155.59,334.91 L155.62,332.23 L155.65,329.70 L155.68,327.32 L155.71,325.11 L155.75,323.08 L155.78,321.23 L155.81,319.58 L155.84,318.13 L155.87,316.88 L155.90,315.85 L155.94,315.04 L155.97,314.44 L156.00,314.07 L156.03,313.93 L156.06,314.01 L156.09,314.31 L156.12,314.84 L156.16,315.59 L156.19,316.56 L156.22,317.74 L156.25,319.13 L156.28,320.72 L156.31,322.51 L156.35,324.49 L156.38,326.65 L156.41,328.98 L156.44,331.47 L156.47,334.11 L156.50,336.89 L156.53,339.79 L156.57,342.81 L156.60,345.94" stroke-width="0.890"/>
<path d="M156.60,345.94 L156.63,349.15 L156.66,352.43 L156.69,355.78 L156.72,359.17 L156.75,362.59 L156.79,366.03 L156.82,369.47 L156.85,372.90 L156.88,376.30 L156.91,379.66 L156.94,382.96 L156.97,386.19 L157.01,389.34 L157.04,392.39 L157.07,395.33 L157.10,398.15 L157.13,400.82 L157.16,403.36 L157.19,405.73 L157.22,407.94 L157.26,409.97 L157.29,411.81 L157.32,413.46 L157.35,414.91 L157.38,416.15 L157.41,417.17 L157.44,417.98 L157.47,418.57 L157.51,418.94 L157.54,419.08 L157.57,419.00 L157.60,418.69 L157.63,418.15 L157.66,417.40 L157.69,416.43 L157.72,415.24 L157.76,413.85 L157.79,412.25 L157.82,410.45 L157.85,408.47 L157.88,406.31 L157.91,403.98 L157.94,401.48 L157.97,398.84 L158.01,396.06 L158.04,393.15 L158.07,390.13 L158.10,387.00" stroke-width="0.890"/>
<path d="M158.10,387.00 L158.13,383.79 L158.16,380.51 L158.19,377.16 L158.22,373.77 L158.25,370.34 L158.29,366.90 L158.32,363.46 L158.35,360.04 L158.38,356.64 L158.41,353.28 L158.44,349.98 L158.47,346.74 L158.50,343.60 L158.53,340.55 L158.56,337.61 L158.60,334.80 L158.63,332.12 L158.66,329.59 L158.69,327.22 L158.72,325.02 L158.75,322.99 L158.78,321.16 L158.81,319.51 L158.84,318.07 L158.87,316.83 L158.91,315.81 L158.94,315.00 L158.97,314.42 L159.00,314.06 L159.03,313.92 L159.06,314.01 L159.09,314.32 L159.12,314.86 L159.15,315.62 L159.18,316.59 L159.21,317.78 L159.25,319.18 L159.28,320.78 L159.31,322.58 L159.34,324.57 L159.37,326.73 L159.40,329.07 L159.43,331.57 L159.46,334.21 L159.49,337.00 L159.52,339.91 L159.55,342.93 L159.58,346.06" stroke-width="0.890"/>
<path d="M159.58,346.06 L159.62,349.27 L159.65,352.56 L159.68,355.91 L159.71,359.30 L159.74,362.72 L159.77,366.16 L159.80,369.60 L159.83,373.03 L159.86,376.43 L159.89,379.79 L159.92,383.09 L159.95,386.32 L159.98,389.46 L160.02,392.51 L160.05,395.44 L160.08,398.25 L160.11,400.93 L160.14,403.45 L160.17,405.82 L160.20,408.02 L160.23,410.04 L160.26,411.88 L160.29,413.52 L160.32,414.96 L160.35,416.19 L160.38,417.21 L160.41,418.01 L160.44,418.59 L160.48,418.95 L160.51,419.08 L160.54,418.99 L160.57,418.67 L160.60,418.13 L160.63,417.37 L160.66,416.39 L160.69,415.19 L160.72,413.79 L160.75,412.18 L160.78,410.38 L160.81,408.39 L160.84,406.22 L160.87,403.88 L160.90,401.39 L160.93,398.74 L160.96,395.95 L160.99,393.04 L161.03,390.01 L161.06,386.88" stroke-width="0.900"/>
<path d="M161.06,386.88 L161.09,383.67 L161.12,380.38 L161.15,377.03 L161.18,373.64 L161.21,370.21 L161.24,366.77 L161.27,363.33 L161.30,359.90 L161.33,356.50 L161.36,353.15 L161.39,349.85 L161.42,346.62 L161.45,343.48 L161.48,340.44 L161.51,337.50 L161.54,334.70 L161.57,332.02 L161.60,329.50 L161.63,327.13 L161.66,324.94 L161.69,322.92 L161.73,321.09 L161.76,319.45 L161.79,318.02 L161.82,316.79 L161.85,315.77 L161.88,314.98 L161.91,314.40 L161.94,314.05 L161.97,313.92 L162.00,314.02 L162.03,314.34 L162.06,314.88 L162.09,315.65 L162.12,316.63 L162.15,317.83 L162.18,319.24 L162.21,320.85 L162.24,322.65 L162.27,324.65 L162.30,326.82 L162.33,329.16 L162.36,331.66 L162.39,334.32 L162.42,337.11 L162.45,340.02 L162.48,343.05 L162.51,346.18" stroke-width="0.900"/>
<path d="M162.51,346.18 L162.54,349.40 L162.57,352.69 L162.60,356.04 L162.63,359.43 L162.66,362.85 L162.69,366.29 L162.72,369.74 L162.75,373.16 L162.78,376.56 L162.81,379.92 L162.84,383.21 L162.87,386.44 L162.90,389.58 L162.93,392.62 L162.96,395.55 L162.99,398.36 L163.02,401.03 L163.05,403.55 L163.08,405.91 L163.11,408.10 L163.14,410.12 L163.17,411.95 L163.20,413.58 L163.24,415.01 L163.27,416.23 L163.30,417.24 L163.33,418.04 L163.36,418.61 L163.39,418.96 L163.42,419.08 L163.45,418.98 L163.48,418.65 L163.51,418.10 L163.54,417.33 L163.57,416.34 L163.60,415.14 L163.63,413.73 L163.66,412.12 L163.69,410.31 L163.71,408.31 L163.74,406.14 L163.77,403.79 L163.80,401.29 L163.83,398.63 L163.86,395.84 L163.89,392.92 L163.92,389.89 L163.95,386.76" stroke-width="0.900"/>
<path d="M163.95,386.76 L163.98,383.54 L164.01,380.25 L164.04,376.90 L164.07,373.50 L164.10,370.08 L164.13,366.64 L164.16,363.20 L164.19,359.77 L164.22,356.37 L164.25,353.02 L164.28,349.72 L164.31,346.50 L164.34,343.36 L164.37,340.32 L164.40,337.39 L164.43,334.59 L164.46,331.92 L164.49,329.41 L164.52,327.05 L164.55,324.86 L164.58,322.85 L164.61,321.02 L164.64,319.39 L164.67,317.96 L164.70,316.74 L164.73,315.74 L164.76,314.95 L164.79,314.38 L164.82,314.04 L164.85,313.92 L164.88,314.02 L164.91,314.35 L164.94,314.91 L164.97,315.68 L165.00,316.68 L165.03,317.88 L165.06,319.30 L165.09,320.92 L165.12,322.73 L165.15,324.73 L165.18,326.91 L165.20,329.26 L165.23,331.76 L165.26,334.42 L165.29,337.22 L165.32,340.14 L165.35,343.17 L165.38,346.30" stroke-width="0.910"/>
<path d="M165.38,346.30 L165.41,349.52 L165.44,352.82 L165.47,356.17 L165.50,359.56 L165.53,362.99 L165.56,366.43 L165.59,369.87 L165.62,373.29 L165.65,376.69 L165.68,380.04 L165.71,383.34 L165.74,386.56 L165.77,389.70 L165.80,392.74 L165.83,395.66 L165.86,398.46 L165.89,401.13 L165.91,403.64 L165.94,406.00 L165.97,408.18 L166.00,410.19 L166.03,412.01 L166.06,413.64 L166.09,415.06 L166.12,416.28 L166.15,417.28 L166.18,418.06 L166.21,418.63 L166.24,418.97 L166.27,419.08 L166.30,418.97 L166.33,418.64 L166.36,418.08 L166.39,417.30 L166.42,416.30 L166.45,415.09 L166.47,413.67 L166.50,412.05 L166.53,410.24 L166.56,408.23 L166.59,406.05 L166.62,403.70 L166.65,401.19 L166.68,398.53 L166.71,395.73 L166.74,392.81 L166.77,389.77 L166.80,386.64" stroke-width="0.910"/>
<path d="M166.80,386.64 L166.83,383.41 L166.86,380.12 L166.89,376.77 L166.91,373.37 L166.94,369.95 L166.97,366.51 L167.00,363.07 L167.03,359.64 L167.06,356.24 L167.09,352.89 L167.12,349.60 L167.15,346.38 L167.18,343.24 L167.21,340.20 L167.24,337.28 L167.27,334.48 L167.30,331.82 L167.32,329.31 L167.35,326.96 L167.38,324.78 L167.41,322.77 L167.44,320.95 L167.47,319.33 L167.50,317.91 L167.53,316.70 L167.56,315.70 L167.59,314.92 L167.62,314.36 L167.65,314.03 L167.68,313.92 L167.70,314.03 L167.73,314.37 L167.76,314.93 L167.79,315.72 L167.82,316.72 L167.85,317.93 L167.88,319.36 L167.91,320.98 L167.94,322.80 L167.97,324.81 L168.00,326.99 L168.03,329.35 L168.05,331.86 L168.08,334.53 L168.11,337.33 L168.14,340.25 L168.17,343.29 L168.20,346.43" stroke-width="0.910"/>
<path d="M168.20,346.43 L168.23,349.65 L168.26,352.94 L168.29,356.30 L168.32,359.69 L168.34,363.12 L168.37,366.56 L168.40,370.00 L168.43,373.43 L168.46,376.82 L168.49,380.17 L168.52,383.47 L168.55,386.69 L168.58,389.82 L168.61,392.85 L168.64,395.77 L168.66,398.57 L168.69,401.23 L168.72,403.74 L168.75,406.08 L168.78,408.26 L168.81,410.27 L168.84,412.08 L168.87,413.70 L168.90,415.11 L168.92,416.32 L168.95,417.31 L168.98,418.09 L169.01,418.64 L169.04,418.98 L169.07,419.08 L169.10,418.96 L169.13,418.62 L169.16,418.05 L169.18,417.26 L169.21,416.26 L169.24,415.04 L169.27,413.61 L169.30,411.98 L169.33,410.16 L169.36,408.15 L169.39,405.96 L169.42,403.60 L169.44,401.09 L169.47,398.42 L169.50,395.62 L169.53,392.69 L169.56,389.65 L169.59,386.51" stroke-width="0.920"/>
<path d="M169.59,386.51 L169.62,383.29 L169.65,379.99 L169.68,376.64 L169.70,373.24 L169.73,369.81 L169.76,366.37 L169.79,362.93 L169.82,359.51 L169.85,356.11 L169.88,352.76 L169.91,349.47 L169.93,346.25 L169.96,343.12 L169.99,340.09 L170.02,337.17 L170.05,334.38 L170.08,331.72 L170.11,329.22 L170.14,326.87 L170.16,324.70 L170.19,322.70 L170.22,320.89 L170.25,319.27 L170.28,317.86 L170.31,316.66 L170.34,315.67 L170.36,314.90 L170.39,314.35 L170.42,314.02 L170.45,313.92 L170.48,314.04 L170.51,314.39 L170.54,314.96 L170.57,315.75 L170.59,316.76 L170.62,317.99 L170.65,319.42 L170.68,321.05 L170.71,322.88 L170.74,324.89 L170.77,327.08 L170.79,329.44 L170.82,331.96 L170.85,334.63 L170.88,337.44 L170.91,340.37 L170.94,343.41 L170.97,346.55" stroke-width="0.920"/>
<path d="M170.97,346.55 L170.99,349.77 L171.02,353.07 L171.05,356.43 L171.08,359.83 L171.11,363.25 L171.14,366.69 L171.17,370.13 L171.19,373.56 L171.22,376.95 L171.25,380.30 L171.28,383.59 L171.31,386.81 L171.34,389.94 L171.37,392.97 L171.39,395.88 L171.42,398.67 L171.45,401.33 L171.48,403.83 L171.51,406.17 L171.54,408.35 L171.56,410.34 L171.59,412.14 L171.62,413.75 L171.65,415.16 L171.68,416.36 L171.71,417.35 L171.73,418.11 L171.76,418.66 L171.79,418.98 L171.82,419.08 L171.85,418.95 L171.88,418.60 L171.91,418.03 L171.93,417.23 L171.96,416.22 L171.99,414.99 L172.02,413.55 L172.05,411.92 L172.08,410.09 L172.10,408.07 L172.13,405.87 L172.16,403.51 L172.19,400.99 L172.22,398.31 L172.25,395.51 L172.27,392.58 L172.30,389.53 L172.33,386.39" stroke-width="0.920"/>
<path d="M172.33,386.39 L172.36,383.16 L172.39,379.86 L172.42,376.51 L172.44,373.11 L172.47,369.68 L172.50,366.24 L172.53,362.80 L172.56,359.38 L172.59,355.98 L172.61,352.63 L172.64,349.35 L172.67,346.13 L172.70,343.00 L172.73,339.97 L172.75,337.06 L172.78,334.27 L172.81,331.62 L172.84,329.12 L172.87,326.78 L172.90,324.61 L172.92,322.62 L172.95,320.82 L172.98,319.22 L173.01,317.81 L173.04,316.62 L173.07,315.64 L173.09,314.87 L173.12,314.33 L173.15,314.01 L173.18,313.92 L173.21,314.05 L173.23,314.41 L173.26,314.99 L173.29,315.79 L173.32,316.81 L173.35,318.04 L173.37,319.48 L173.40,321.12 L173.43,322.95 L173.46,324.97 L173.49,327.17 L173.52,329.54 L173.54,332.06 L173.57,334.74 L173.60,337.55 L173.63,340.48 L173.66,343.53 L173.68,346.67" stroke-width="0.920"/>
<path d="M173.68,346.67 L173.71,349.90 L173.74,353.20 L173.77,356.56 L173.80,359.96 L173.82,363.39 L173.85,366.83 L173.88,370.27 L173.91,373.69 L173.94,377.08 L173.96,380.43 L173.99,383.72 L174.02,386.93 L174.05,390.06 L174.08,393.08 L174.10,395.99 L174.13,398.78 L174.16,401.43 L174.19,403.92 L174.22,406.26 L174.24,408.43 L174.27,410.41 L174.30,412.21 L174.33,413.81 L174.36,415.21 L174.38,416.40 L174.41,417.38 L174.44,418.14 L174.47,418.68 L174.50,418.99 L174.52,419.08 L174.55,418.94 L174.58,418.58 L174.61,418.00 L174.64,417.19 L174.66,416.17 L174.69,414.94 L174.72,413.49 L174.75,411.85 L174.78,410.01 L174.80,407.99 L174.83,405.79 L174.86,403.41 L174.89,400.89 L174.91,398.21 L174.94,395.40 L174.97,392.46 L175.00,389.41 L175.03,386.27" stroke-width="0.930"/>
<path d="M175.03,386.27 L175.05,383.04 L175.08,379.73 L175.11,376.38 L175.14,372.98 L175.16,369.55 L175.19,366.11 L175.22,362.67 L175.25,359.24 L175.28,355.85 L175.30,352.51 L175.33,349.22 L175.36,346.01 L175.39,342.88 L175.42,339.86 L175.44,336.95 L175.47,334.17 L175.50,331.52 L175.53,329.03 L175.55,326.70 L175.58,324.53 L175.61,322.55 L175.64,320.76 L175.66,319.16 L175.69,317.76 L175.72,316.58 L175.75,315.60 L175.78,314.85 L175.80,314.31 L175.83,314.00 L175.86,313.92 L175.89,314.06 L175.91,314.43 L175.94,315.01 L175.97,315.82 L176.00,316.85 L176.02,318.09 L176.05,319.53 L176.08,321.18 L176.11,323.02 L176.14,325.05 L176.16,327.26 L176.19,329.63 L176.22,332.17 L176.25,334.84 L176.27,337.66 L176.30,340.60 L176.33,343.65 L176.36,346.80" stroke-width="0.930"/>
<path d="M176.36,346.80 L176.38,350.03 L176.41,353.33 L176.44,356.69 L176.47,360.09 L176.49,363.52 L176.52,366.96 L176.55,370.40 L176.58,373.82 L176.60,377.21 L176.63,380.56 L176.66,383.84 L176.69,387.05 L176.72,390.18 L176.74,393.20 L176.77,396.10 L176.80,398.88 L176.83,401.52 L176.85,404.02 L176.88,406.35 L176.91,408.51 L176.94,410.49 L176.96,412.28 L176.99,413.87 L177.02,415.26 L177.05,416.45 L177.07,417.41 L177.10,418.16 L177.13,418.69 L177.16,419.00 L177.18,419.08 L177.21,418.93 L177.24,418.57 L177.27,417.97 L177.29,417.16 L177.32,416.13 L177.35,414.89 L177.37,413.44 L177.40,411.78 L177.43,409.94 L177.46,407.91 L177.48,405.70 L177.51,403.32 L177.54,400.78 L177.57,398.10 L177.59,395.28 L177.62,392.34 L177.65,389.29 L177.68,386.14" stroke-width="0.930"/>
<path d="M177.68,386.14 L177.70,382.91 L177.73,379.61 L177.76,376.25 L177.79,372.84 L177.81,369.42 L177.84,365.97 L177.87,362.54 L177.90,359.11 L177.92,355.72 L177.95,352.38 L177.98,349.09 L178.00,345.89 L178.03,342.76 L178.06,339.75 L178.09,336.84 L178.11,334.06 L178.14,331.43 L178.17,328.94 L178.20,326.61 L178.22,324.45 L178.25,322.48 L178.28,320.69 L178.31,319.10 L178.33,317.71 L178.36,316.53 L178.39,315.57 L178.41,314.82 L178.44,314.30 L178.47,314.00 L178.50,313.92 L178.52,314.07 L178.55,314.44 L178.58,315.04 L178.61,315.86 L178.63,316.89 L178.66,318.14 L178.69,319.59 L178.71,321.25 L178.74,323.10 L178.77,325.14 L178.80,327.35 L178.82,329.73 L178.85,332.27 L178.88,334.95 L178.90,337.77 L178.93,340.71 L178.96,343.77 L178.99,346.92" stroke-width="0.930"/>
<path d="M178.99,346.92 L179.01,350.15 L179.04,353.46 L179.07,356.82 L179.09,360.22 L179.12,363.65 L179.15,367.09 L179.18,370.53 L179.20,373.95 L179.23,377.34 L179.26,380.69 L179.28,383.97 L179.31,387.18 L179.34,390.29 L179.37,393.31 L179.39,396.21 L179.42,398.99 L179.45,401.62 L179.47,404.11 L179.50,406.43 L179.53,408.59 L179.56,410.56 L179.58,412.34 L179.61,413.93 L179.64,415.31 L179.66,416.49 L179.69,417.45 L179.72,418.19 L179.74,418.71 L179.77,419.01 L179.80,419.08 L179.83,418.92 L179.85,418.55 L179.88,417.95 L179.91,417.12 L179.93,416.08 L179.96,414.83 L179.99,413.38 L180.02,411.72 L180.04,409.86 L180.07,407.82 L180.10,405.61 L180.12,403.22 L180.15,400.68 L180.18,398.00 L180.20,395.17 L180.23,392.23 L180.26,389.17 L180.28,386.02" stroke-width="0.940"/>
<path d="M180.28,386.02 L180.31,382.78 L180.34,379.48 L180.37,376.12 L180.39,372.71 L180.42,369.28 L180.45,365.84 L180.47,362.40 L180.50,358.98 L180.53,355.59 L180.55,352.25 L180.58,348.97 L180.61,345.76 L180.63,342.65 L180.66,339.63 L180.69,336.73 L180.72,333.96 L180.74,331.33 L180.77,328.84 L180.80,326.52 L180.82,324.37 L180.85,322.41 L180.88,320.63 L180.90,319.04 L180.93,317.66 L180.96,316.49 L180.98,315.54 L181.01,314.80 L181.04,314.28 L181.06,313.99 L181.09,313.92 L181.12,314.08 L181.15,314.46 L181.17,315.07 L181.20,315.89 L181.23,316.94 L181.25,318.19 L181.28,319.66 L181.31,321.32 L181.33,323.17 L181.36,325.22 L181.39,327.44 L181.41,329.82 L181.44,332.37 L181.47,335.06 L181.49,337.88 L181.52,340.83 L181.55,343.89 L181.57,347.04" stroke-width="0.940"/>
<path d="M181.57,347.04 L181.60,350.28 L181.63,353.59 L181.65,356.95 L181.68,360.35 L181.71,363.78 L181.73,367.22 L181.76,370.66 L181.79,374.08 L181.81,377.47 L181.84,380.81 L181.87,384.09 L181.89,387.30 L181.92,390.41 L181.95,393.43 L181.97,396.32 L182.00,399.09 L182.03,401.72 L182.05,404.20 L182.08,406.52 L182.11,408.67 L182.13,410.63 L182.16,412.41 L182.19,413.99 L182.21,415.36 L182.24,416.53 L182.27,417.48 L182.29,418.21 L182.32,418.73 L182.35,419.01 L182.37,419.08 L182.40,418.91 L182.43,418.53 L182.45,417.92 L182.48,417.09 L182.51,416.04 L182.53,414.78 L182.56,413.31 L182.59,411.65 L182.61,409.79 L182.64,407.74 L182.67,405.52 L182.69,403.13 L182.72,400.58 L182.75,397.89 L182.77,395.06 L182.80,392.11 L182.83,389.05 L182.85,385.90" stroke-width="0.940"/>
<path d="M182.85,385.90 L182.88,382.66 L182.91,379.35 L182.93,375.98 L182.96,372.58 L182.99,369.15 L183.01,365.71 L183.04,362.27 L183.07,358.85 L183.09,355.46 L183.12,352.12 L183.14,348.84 L183.17,345.64 L183.20,342.53 L183.22,339.52 L183.25,336.62 L183.28,333.85 L183.30,331.23 L183.33,328.75 L183.36,326.44 L183.38,324.30 L183.41,322.33 L183.44,320.56 L183.46,318.99 L183.49,317.61 L183.52,316.45 L183.54,315.50 L183.57,314.77 L183.59,314.27 L183.62,313.98 L183.65,313.92 L183.67,314.09 L183.70,314.48 L183.73,315.10 L183.75,315.93 L183.78,316.98 L183.81,318.25 L183.83,319.72 L183.86,321.39 L183.89,323.25 L183.91,325.30 L183.94,327.53 L183.96,329.92 L183.99,332.47 L184.02,335.16 L184.04,337.99 L184.07,340.95 L184.10,344.01 L184.12,347.17" stroke-width="0.940"/>
<path d="M184.12,347.17 L184.15,350.41 L184.18,353.72 L184.20,357.08 L184.23,360.49 L184.25,363.92 L184.28,367.36 L184.31,370.80 L184.33,374.22 L184.36,377.60 L184.39,380.94 L184.41,384.22 L184.44,387.42 L184.46,390.53 L184.49,393.54 L184.52,396.43 L184.54,399.20 L184.57,401.82 L184.60,404.29 L184.62,406.61 L184.65,408.74 L184.68,410.70 L184.70,412.47 L184.73,414.04 L184.75,415.41 L184.78,416.57 L184.81,417.51 L184.83,418.24 L184.86,418.74 L184.89,419.02 L184.91,419.07 L184.94,418.90 L184.96,418.51 L184.99,417.89 L185.02,417.05 L185.04,416.00 L185.07,414.73 L185.09,413.25 L185.12,411.58 L185.15,409.71 L185.17,407.66 L185.20,405.43 L185.23,403.03 L185.25,400.48 L185.28,397.78 L185.30,394.95 L185.33,392.00 L185.36,388.93 L185.38,385.77" stroke-width="0.950"/>
<path d="M185.38,385.77 L185.41,382.53 L185.44,379.22 L185.46,375.85 L185.49,372.45 L185.51,369.02 L185.54,365.58 L185.57,362.14 L185.59,358.72 L185.62,355.33 L185.64,351.99 L185.67,348.72 L185.70,345.52 L185.72,342.41 L185.75,339.40 L185.77,336.51 L185.80,333.75 L185.83,331.13 L185.85,328.66 L185.88,326.35 L185.91,324.22 L185.93,322.26 L185.96,320.50 L185.98,318.93 L186.01,317.57 L186.04,316.41 L186.06,315.47 L186.09,314.75 L186.11,314.25 L186.14,313.98 L186.17,313.93 L186.19,314.10 L186.22,314.50 L186.24,315.12 L186.27,315.97 L186.30,317.03 L186.32,318.30 L186.35,319.78 L186.37,321.45 L186.40,323.33 L186.43,325.38 L186.45,327.61 L186.48,330.01 L186.50,332.57 L186.53,335.27 L186.56,338.11 L186.58,341.06 L186.61,344.13 L186.63,347.29" stroke-width="0.950"/>
<path d="M186.63,347.29 L186.66,350.53 L186.69,353.84 L186.71,357.21 L186.74,360.62 L186.76,364.05 L186.79,367.49 L186.82,370.93 L186.84,374.35 L186.87,377.73 L186.89,381.07 L186.92,384.34 L186.95,387.54 L186.97,390.65 L187.00,393.65 L187.02,396.54 L187.05,399.30 L187.07,401.92 L187.10,404.39 L187.13,406.69 L187.15,408.82 L187.18,410.77 L187.20,412.54 L187.23,414.10 L187.26,415.46 L187.28,416.61 L187.31,417.54 L187.33,418.26 L187.36,418.76 L187.39,419.03 L187.41,419.07 L187.44,418.89 L187.46,418.49 L187.49,417.86 L187.51,417.01 L187.54,415.95 L187.57,414.68 L187.59,413.19 L187.62,411.51 L187.64,409.64 L187.67,407.58 L187.70,405.34 L187.72,402.94 L187.75,400.38 L187.77,397.68 L187.80,394.84 L187.82,391.88 L187.85,388.81 L187.88,385.65" stroke-width="0.950"/>
<path d="M187.88,385.65 L187.90,382.40 L187.93,379.09 L187.95,375.72 L187.98,372.32 L188.00,368.88 L188.03,365.44 L188.06,362.01 L188.08,358.59 L188.11,355.20 L188.13,351.87 L188.16,348.59 L188.18,345.40 L188.21,342.29 L188.24,339.29 L188.26,336.40 L188.29,333.65 L188.31,331.03 L188.34,328.57 L188.36,326.27 L188.39,324.14 L188.42,322.19 L188.44,320.43 L188.47,318.87 L188.49,317.52 L188.52,316.37 L188.54,315.44 L188.57,314.73 L188.60,314.24 L188.62,313.97 L188.65,313.93 L188.67,314.11 L188.70,314.52 L188.72,315.15 L188.75,316.00 L188.78,317.07 L188.80,318.35 L188.83,319.84 L188.85,321.52 L188.88,323.40 L188.90,325.47 L188.93,327.70 L188.96,330.11 L188.98,332.67 L189.01,335.38 L189.03,338.22 L189.06,341.18 L189.08,344.25 L189.11,347.41" stroke-width="0.950"/>
<path d="M189.11,347.41 L189.13,350.66 L189.16,353.97 L189.19,357.34 L189.21,360.75 L189.24,364.18 L189.26,367.62 L189.29,371.06 L189.31,374.48 L189.34,377.86 L189.36,381.20 L189.39,384.47 L189.42,387.66 L189.44,390.77 L189.47,393.77 L189.49,396.65 L189.52,399.40 L189.54,402.02 L189.57,404.48 L189.59,406.78 L189.62,408.90 L189.65,410.85 L189.67,412.60 L189.70,414.16 L189.72,415.51 L189.75,416.65 L189.77,417.58 L189.80,418.28 L189.82,418.77 L189.85,419.03 L189.88,419.07 L189.90,418.88 L189.93,418.47 L189.95,417.83 L189.98,416.98 L190.00,415.91 L190.03,414.62 L190.05,413.13 L190.08,411.44 L190.10,409.56 L190.13,407.49 L190.16,405.25 L190.18,402.84 L190.21,400.28 L190.23,397.57 L190.26,394.73 L190.28,391.76 L190.31,388.69 L190.33,385.53" stroke-width="0.950"/>
<path d="M190.33,385.53 L190.36,382.28 L190.38,378.96 L190.41,375.59 L190.44,372.18 L190.46,368.75 L190.49,365.31 L190.51,361.87 L190.54,358.46 L190.56,355.07 L190.59,351.74 L190.61,348.47 L190.64,345.28 L190.66,342.17 L190.69,339.18 L190.71,336.29 L190.74,333.54 L190.77,330.93 L190.79,328.48 L190.82,326.18 L190.84,324.06 L190.87,322.12 L190.89,320.37 L190.92,318.82 L190.94,317.47 L190.97,316.33 L190.99,315.41 L191.02,314.70 L191.04,314.22 L191.07,313.96 L191.09,313.93 L191.12,314.12 L191.15,314.54 L191.17,315.18 L191.20,316.04 L191.22,317.12 L191.25,318.41 L191.27,319.90 L191.30,321.59 L191.32,323.48 L191.35,325.55 L191.37,327.79 L191.40,330.21 L191.42,332.77 L191.45,335.48 L191.47,338.33 L191.50,341.30 L191.52,344.37 L191.55,347.54" stroke-width="0.960"/>
<path d="M191.55,347.54 L191.57,350.79 L191.60,354.10 L191.63,357.47 L191.65,360.88 L191.68,364.31 L191.70,367.76 L191.73,371.19 L191.75,374.61 L191.78,377.99 L191.80,381.32 L191.83,384.59 L191.85,387.79 L191.88,390.89 L191.90,393.88 L191.93,396.76 L191.95,399.51 L191.98,402.12 L192.00,404.57 L192.03,406.86 L192.05,408.98 L192.08,410.92 L192.10,412.66 L192.13,414.21 L192.15,415.56 L192.18,416.69 L192.21,417.61 L192.23,418.31 L192.26,418.78 L192.28,419.04 L192.31,419.07 L192.33,418.87 L192.36,418.45 L192.38,417.80 L192.41,416.94 L192.43,415.86 L192.46,414.57 L192.48,413.07 L192.51,411.37 L192.53,409.48 L192.56,407.41 L192.58,405.16 L192.61,402.75 L192.63,400.18 L192.66,397.46 L192.68,394.61 L192.71,391.65 L192.73,388.57 L192.76,385.40" stroke-width="0.960"/>
<path d="M192.76,385.40 L192.78,382.15 L192.81,378.83 L192.83,375.46 L192.86,372.05 L192.88,368.62 L192.91,365.18 L192.93,361.74 L192.96,358.32 L192.98,354.94 L193.01,351.61 L193.03,348.34 L193.06,345.15 L193.08,342.06 L193.11,339.06 L193.13,336.19 L193.16,333.44 L193.18,330.84 L193.21,328.38 L193.23,326.10 L193.26,323.98 L193.28,322.05 L193.31,320.30 L193.33,318.76 L193.36,317.42 L193.38,316.29 L193.41,315.38 L193.43,314.68 L193.46,314.21 L193.48,313.96 L193.51,313.94 L193.53,314.14 L193.56,314.56 L193.58,315.21 L193.61,316.08 L193.63,317.16 L193.66,318.46 L193.68,319.96 L193.71,321.66 L193.73,323.55 L193.76,325.63 L193.78,327.88 L193.81,330.30 L193.83,332.88 L193.86,335.59 L193.88,338.44 L193.91,341.41 L193.93,344.49 L193.96,347.66" stroke-width="0.960"/>
<path d="M193.96,347.66 L193.98,350.91 L194.01,354.23 L194.03,357.60 L194.06,361.01 L194.08,364.45 L194.11,367.89 L194.13,371.33 L194.16,374.74 L194.18,378.12 L194.21,381.45 L194.23,384.72 L194.26,387.91 L194.28,391.00 L194.31,393.99 L194.33,396.87 L194.36,399.61 L194.38,402.21 L194.41,404.66 L194.43,406.95 L194.46,409.06 L194.48,410.99 L194.50,412.73 L194.53,414.27 L194.55,415.60 L194.58,416.73 L194.60,417.64 L194.63,418.33 L194.65,418.80 L194.68,419.04 L194.70,419.06 L194.73,418.86 L194.75,418.43 L194.78,417.77 L194.80,416.90 L194.83,415.81 L194.85,414.51 L194.88,413.01 L194.90,411.30 L194.93,409.41 L194.95,407.33 L194.98,405.07 L195.00,402.65 L195.03,400.07 L195.05,397.35 L195.08,394.50 L195.10,391.53 L195.12,388.45 L195.15,385.28" stroke-width="0.960"/>
<path d="M195.15,385.28 L195.17,382.02 L195.20,378.70 L195.22,375.33 L195.25,371.92 L195.27,368.49 L195.30,365.04 L195.32,361.61 L195.35,358.19 L195.37,354.81 L195.40,351.48 L195.42,348.22 L195.45,345.03 L195.47,341.94 L195.50,338.95 L195.52,336.08 L195.55,333.34 L195.57,330.74 L195.59,328.29 L195.62,326.01 L195.64,323.90 L195.67,321.98 L195.69,320.24 L195.72,318.70 L195.74,317.37 L195.77,316.25 L195.79,315.35 L195.82,314.66 L195.84,314.19 L195.87,313.95 L195.89,313.94 L195.92,314.15 L195.94,314.58 L195.96,315.24 L195.99,316.12 L196.01,317.21 L196.04,318.51 L196.06,320.02 L196.09,321.73 L196.11,323.63 L196.14,325.72 L196.16,327.97 L196.19,330.40 L196.21,332.98 L196.24,335.70 L196.26,338.55 L196.28,341.53 L196.31,344.61 L196.33,347.78" stroke-width="0.960"/>
<path d="M196.33,347.78 L196.36,351.04 L196.38,354.36 L196.41,357.74 L196.43,361.15 L196.46,364.58 L196.48,368.02 L196.51,371.46 L196.53,374.87 L196.55,378.25 L196.58,381.58 L196.60,384.84 L196.63,388.03 L196.65,391.12 L196.68,394.11 L196.70,396.98 L196.73,399.71 L196.75,402.31 L196.78,404.75 L196.80,407.03 L196.82,409.14 L196.85,411.06 L196.87,412.79 L196.90,414.32 L196.92,415.65 L196.95,416.77 L196.97,417.67 L197.00,418.35 L197.02,418.81 L197.05,419.05 L197.07,419.06 L197.09,418.84 L197.12,418.41 L197.14,417.74 L197.17,416.86 L197.19,415.77 L197.22,414.46 L197.24,412.95 L197.27,411.23 L197.29,409.33 L197.31,407.24 L197.34,404.98 L197.36,402.55 L197.39,399.97 L197.41,397.25 L197.44,394.39 L197.46,391.41 L197.49,388.33 L197.51,385.15" stroke-width="0.970"/>
<path d="M197.51,385.15 L197.53,381.90 L197.56,378.57 L197.58,375.20 L197.61,371.79 L197.63,368.35 L197.66,364.91 L197.68,361.48 L197.71,358.06 L197.73,354.68 L197.75,351.36 L197.78,348.09 L197.80,344.91 L197.83,341.82 L197.85,338.84 L197.88,335.97 L197.90,333.23 L197.93,330.64 L197.95,328.20 L197.97,325.93 L198.00,323.82 L198.02,321.91 L198.05,320.18 L198.07,318.65 L198.10,317.33 L198.12,316.21 L198.14,315.32 L198.17,314.64 L198.19,314.18 L198.22,313.95 L198.24,313.94 L198.27,314.16 L198.29,314.60 L198.31,315.27 L198.34,316.16 L198.36,317.26 L198.39,318.57 L198.41,320.09 L198.44,321.80 L198.46,323.71 L198.48,325.80 L198.51,328.07 L198.53,330.50 L198.56,333.08 L198.58,335.81 L198.61,338.67 L198.63,341.65 L198.66,344.73 L198.68,347.91" stroke-width="0.970"/>
<path d="M198.68,347.91 L198.70,351.17 L198.73,354.49 L198.75,357.87 L198.78,361.28 L198.80,364.71 L198.82,368.16 L198.85,371.59 L198.87,375.00 L198.90,378.38 L198.92,381.71 L198.95,384.97 L198.97,388.15 L198.99,391.24 L199.02,394.22 L199.04,397.08 L199.07,399.82 L199.09,402.41 L199.12,404.84 L199.14,407.12 L199.16,409.21 L199.19,411.13 L199.21,412.85 L199.24,414.38 L199.26,415.70 L199.29,416.81 L199.31,417.70 L199.33,418.37 L199.36,418.83 L199.38,419.05 L199.41,419.05 L199.43,418.83 L199.45,418.38 L199.48,417.71 L199.50,416.83 L199.53,415.72 L199.55,414.40 L199.58,412.88 L199.60,411.16 L199.62,409.25 L199.65,407.16 L199.67,404.89 L199.70,402.46 L199.72,399.87 L199.74,397.14 L199.77,394.28 L199.79,391.30 L199.82,388.21 L199.84,385.03" stroke-width="0.970"/>
<path d="M199.84,385.03 L199.87,381.77 L199.89,378.44 L199.91,375.07 L199.94,371.66 L199.96,368.22 L199.99,364.78 L200.01,361.34 L200.03,357.93 L200.06,354.55 L200.08,351.23 L200.11,347.97 L200.13,344.79 L200.15,341.70 L200.18,338.72 L200.20,335.86 L200.23,333.13 L200.25,330.54 L200.27,328.11 L200.30,325.84 L200.32,323.75 L200.35,321.84 L200.37,320.12 L200.40,318.59 L200.42,317.28 L200.44,316.17 L200.47,315.29 L200.49,314.62 L200.52,314.17 L200.54,313.95 L200.56,313.95 L200.59,314.17 L200.61,314.63 L200.64,315.30 L200.66,316.19 L200.68,317.30 L200.71,318.62 L200.73,320.15 L200.76,321.87 L200.78,323.79 L200.80,325.88 L200.83,328.16 L200.85,330.59 L200.88,333.18 L200.90,335.92 L200.92,338.78 L200.95,341.76 L200.97,344.85 L201.00,348.03" stroke-width="0.970"/>
<path d="M201.00,348.03 L201.02,351.29 L201.04,354.62 L201.07,358.00 L201.09,361.41 L201.12,364.85 L201.14,368.29 L201.16,371.72 L201.19,375.13 L201.21,378.51 L201.24,381.83 L201.26,385.09 L201.28,388.27 L201.31,391.36 L201.33,394.33 L201.36,397.19 L201.38,399.92 L201.40,402.51 L201.43,404.94 L201.45,407.20 L201.47,409.29 L201.50,411.20 L201.52,412.92 L201.55,414.43 L201.57,415.74 L201.59,416.85 L201.62,417.73 L201.64,418.40 L201.67,418.84 L201.69,419.06 L201.71,419.05 L201.74,418.82 L201.76,418.36 L201.79,417.68 L201.81,416.79 L201.83,415.67 L201.86,414.35 L201.88,412.82 L201.90,411.09 L201.93,409.18 L201.95,407.07 L201.98,404.80 L202.00,402.36 L202.02,399.77 L202.05,397.03 L202.07,394.16 L202.10,391.18 L202.12,388.09 L202.14,384.90" stroke-width="0.970"/>
<path d="M202.14,384.90 L202.17,381.64 L202.19,378.31 L202.21,374.94 L202.24,371.52 L202.26,368.09 L202.29,364.65 L202.31,361.21 L202.33,357.80 L202.36,354.43 L202.38,351.10 L202.41,347.85 L202.43,344.67 L202.45,341.59 L202.48,338.61 L202.50,335.75 L202.52,333.03 L202.55,330.45 L202.57,328.02 L202.60,325.76 L202.62,323.67 L202.64,321.77 L202.67,320.05 L202.69,318.54 L202.71,317.23 L202.74,316.14 L202.76,315.26 L202.79,314.59 L202.81,314.16 L202.83,313.94 L202.86,313.95 L202.88,314.19 L202.90,314.65 L202.93,315.33 L202.95,316.23 L202.98,317.35 L203.00,318.68 L203.02,320.21 L203.05,321.94 L203.07,323.86 L203.09,325.97 L203.12,328.25 L203.14,330.69 L203.17,333.29 L203.19,336.02 L203.21,338.89 L203.24,341.88 L203.26,344.97 L203.28,348.16" stroke-width="0.970"/>
<path d="M203.28,348.16 L203.31,351.42 L203.33,354.75 L203.36,358.13 L203.38,361.54 L203.40,364.98 L203.43,368.42 L203.45,371.85 L203.47,375.27 L203.50,378.64 L203.52,381.96 L203.54,385.22 L203.57,388.39 L203.59,391.47 L203.62,394.45 L203.64,397.30 L203.66,400.02 L203.69,402.60 L203.71,405.03 L203.73,407.28 L203.76,409.37 L203.78,411.27 L203.80,412.98 L203.83,414.49 L203.85,415.79 L203.88,416.88 L203.90,417.76 L203.92,418.42 L203.95,418.85 L203.97,419.06 L203.99,419.05 L204.02,418.81 L204.04,418.34 L204.06,417.65 L204.09,416.75 L204.11,415.63 L204.13,414.29 L204.16,412.76 L204.18,411.02 L204.21,409.10 L204.23,406.99 L204.25,404.71 L204.28,402.26 L204.30,399.66 L204.32,396.92 L204.35,394.05 L204.37,391.06 L204.39,387.97 L204.42,384.78" stroke-width="0.970"/>
<path d="M204.42,384.78 L204.44,381.51 L204.46,378.19 L204.49,374.81 L204.51,371.39 L204.54,367.95 L204.56,364.51 L204.58,361.08 L204.61,357.67 L204.63,354.30 L204.65,350.98 L204.68,347.72 L204.70,344.55 L204.72,341.47 L204.75,338.50 L204.77,335.65 L204.79,332.93 L204.82,330.35 L204.84,327.93 L204.86,325.67 L204.89,323.59 L204.91,321.70 L204.94,319.99 L204.96,318.49 L204.98,317.19 L205.01,316.10 L205.03,315.23 L205.05,314.57 L205.08,314.14 L205.10,313.94 L205.12,313.96 L205.15,314.20 L205.17,314.67 L205.19,315.36 L205.22,316.27 L205.24,317.40 L205.26,318.73 L205.29,320.27 L205.31,322.01 L205.33,323.94 L205.36,326.05 L205.38,328.34 L205.40,330.79 L205.43,333.39 L205.45,336.13 L205.47,339.01 L205.50,342.00 L205.52,345.09 L205.55,348.28" stroke-width="0.980"/>
<path d="M205.55,348.28 L205.57,351.55 L205.59,354.88 L205.62,358.26 L205.64,361.68 L205.66,365.11 L205.69,368.55 L205.71,371.99 L205.73,375.40 L205.76,378.77 L205.78,382.09 L205.80,385.34 L205.83,388.51 L205.85,391.59 L205.87,394.56 L205.90,397.41 L205.92,400.13 L205.94,402.70 L205.97,405.12 L205.99,407.37 L206.01,409.45 L206.04,411.34 L206.06,413.04 L206.08,414.54 L206.11,415.84 L206.13,416.92 L206.15,417.79 L206.18,418.44 L206.20,418.86 L206.22,419.06 L206.25,419.04 L206.27,418.79 L206.29,418.32 L206.32,417.62 L206.34,416.71 L206.36,415.58 L206.39,414.24 L206.41,412.69 L206.43,410.95 L206.46,409.02 L206.48,406.90 L206.50,404.62 L206.53,402.16 L206.55,399.56 L206.57,396.81 L206.60,393.94 L206.62,390.94 L206.64,387.84 L206.67,384.65" stroke-width="0.980"/>
<path d="M206.67,384.65 L206.69,381.39 L206.71,378.06 L206.74,374.67 L206.76,371.26 L206.78,367.82 L206.81,364.38 L206.83,360.95 L206.85,357.54 L206.88,354.17 L206.90,350.85 L206.92,347.60 L206.94,344.43 L206.97,341.35 L206.99,338.38 L207.01,335.54 L207.04,332.82 L207.06,330.25 L207.08,327.84 L207.11,325.59 L207.13,323.52 L207.15,321.63 L207.18,319.93 L207.20,318.43 L207.22,317.14 L207.25,316.06 L207.27,315.20 L207.29,314.55 L207.32,314.13 L207.34,313.93 L207.36,313.96 L207.39,314.22 L207.41,314.69 L207.43,315.39 L207.46,316.31 L207.48,317.44 L207.50,318.79 L207.53,320.34 L207.55,322.08 L207.57,324.02 L207.59,326.14 L207.62,328.43 L207.64,330.88 L207.66,333.49 L207.69,336.24 L207.71,339.12 L207.73,342.12 L207.76,345.22 L207.78,348.41" stroke-width="0.980"/>
<path d="M207.78,348.41 L207.80,351.68 L207.83,355.01 L207.85,358.39 L207.87,361.81 L207.90,365.24 L207.92,368.69 L207.94,372.12 L207.96,375.53 L207.99,378.90 L208.01,382.21 L208.03,385.46 L208.06,388.63 L208.08,391.71 L208.10,394.67 L208.13,397.52 L208.15,400.23 L208.17,402.79 L208.20,405.21 L208.22,407.45 L208.24,409.52 L208.27,411.41 L208.29,413.10 L208.31,414.60 L208.33,415.88 L208.36,416.96 L208.38,417.82 L208.40,418.46 L208.43,418.88 L208.45,419.07 L208.47,419.04 L208.50,418.78 L208.52,418.30 L208.54,417.59 L208.57,416.67 L208.59,415.53 L208.61,414.18 L208.63,412.63 L208.66,410.88 L208.68,408.94 L208.70,406.82 L208.73,404.52 L208.75,402.07 L208.77,399.46 L208.80,396.70 L208.82,393.82 L208.84,390.83 L208.86,387.72 L208.89,384.53" stroke-width="0.980"/>
<path d="M208.89,384.53 L208.91,381.26 L208.93,377.93 L208.96,374.54 L208.98,371.13 L209.00,367.69 L209.03,364.25 L209.05,360.81 L209.07,357.41 L209.09,354.04 L209.12,350.72 L209.14,347.47 L209.16,344.31 L209.19,341.24 L209.21,338.27 L209.23,335.43 L209.26,332.72 L209.28,330.16 L209.30,327.75 L209.32,325.51 L209.35,323.44 L209.37,321.56 L209.39,319.87 L209.42,318.38 L209.44,317.09 L209.46,316.02 L209.49,315.17 L209.51,314.53 L209.53,314.12 L209.55,313.93 L209.58,313.97 L209.60,314.23 L209.62,314.72 L209.65,315.42 L209.67,316.35 L209.69,317.49 L209.71,318.84 L209.74,320.40 L209.76,322.15 L209.78,324.10 L209.81,326.22 L209.83,328.52 L209.85,330.98 L209.87,333.60 L209.90,336.35 L209.92,339.23 L209.94,342.23 L209.97,345.34 L209.99,348.53" stroke-width="0.980"/>
<path d="M209.99,348.53 L210.01,351.80 L210.04,355.14 L210.06,358.52 L210.08,361.94 L210.10,365.38 L210.13,368.82 L210.15,372.25 L210.17,375.66 L210.20,379.03 L210.22,382.34 L210.24,385.59 L210.26,388.75 L210.29,391.82 L210.31,394.78 L210.33,397.62 L210.36,400.33 L210.38,402.89 L210.40,405.30 L210.42,407.54 L210.45,409.60 L210.47,411.48 L210.49,413.16 L210.52,414.65 L210.54,415.93 L210.56,417.00 L210.58,417.85 L210.61,418.48 L210.63,418.89 L210.65,419.07 L210.67,419.03 L210.70,418.76 L210.72,418.27 L210.74,417.56 L210.77,416.63 L210.79,415.48 L210.81,414.13 L210.83,412.57 L210.86,410.81 L210.88,408.86 L210.90,406.73 L210.93,404.43 L210.95,401.97 L210.97,399.35 L210.99,396.60 L211.02,393.71 L211.04,390.71 L211.06,387.60 L211.08,384.41" stroke-width="0.980"/>
<path d="M211.08,384.41 L211.11,381.13 L211.13,377.80 L211.15,374.41 L211.18,370.99 L211.20,367.56 L211.22,364.11 L211.24,360.68 L211.27,357.28 L211.29,353.91 L211.31,350.60 L211.34,347.35 L211.36,344.19 L211.38,341.12 L211.40,338.16 L211.43,335.32 L211.45,332.62 L211.47,330.06 L211.49,327.66 L211.52,325.42 L211.54,323.36 L211.56,321.49 L211.59,319.81 L211.61,318.32 L211.63,317.05 L211.65,315.99 L211.68,315.14 L211.70,314.51 L211.72,314.11 L211.74,313.93 L211.77,313.97 L211.79,314.24 L211.81,314.74 L211.83,315.46 L211.86,316.39 L211.88,317.54 L211.90,318.90 L211.93,320.47 L211.95,322.23 L211.97,324.18 L211.99,326.31 L212.02,328.61 L212.04,331.08 L212.06,333.70 L212.08,336.46 L212.11,339.35 L212.13,342.35 L212.15,345.46 L212.17,348.66" stroke-width="0.990"/>
<path d="M212.17,348.66 L212.20,351.93 L212.22,355.27 L212.24,358.65 L212.27,362.07 L212.29,365.51 L212.31,368.95 L212.33,372.38 L212.36,375.79 L212.38,379.16 L212.40,382.47 L212.42,385.71 L212.45,388.87 L212.47,391.94 L212.49,394.90 L212.51,397.73 L212.54,400.43 L212.56,402.99 L212.58,405.39 L212.60,407.62 L212.63,409.67 L212.65,411.55 L212.67,413.22 L212.69,414.70 L212.72,415.97 L212.74,417.03 L212.76,417.88 L212.78,418.50 L212.81,418.90 L212.83,419.07 L212.85,419.02 L212.88,418.75 L212.90,418.25 L212.92,417.53 L212.94,416.59 L212.97,415.43 L212.99,414.07 L213.01,412.50 L213.03,410.74 L213.06,408.78 L213.08,406.65 L213.10,404.34 L213.12,401.87 L213.15,399.25 L213.17,396.49 L213.19,393.60 L213.21,390.59 L213.24,387.48 L213.26,384.28" stroke-width="0.990"/>
<path d="M213.26,384.28 L213.28,381.00 L213.30,377.67 L213.33,374.28 L213.35,370.86 L213.37,367.42 L213.39,363.98 L213.42,360.55 L213.44,357.14 L213.46,353.78 L213.48,350.47 L213.51,347.23 L213.53,344.07 L213.55,341.00 L213.57,338.05 L213.60,335.22 L213.62,332.52 L213.64,329.97 L213.66,327.57 L213.69,325.34 L213.71,323.29 L213.73,321.42 L213.75,319.75 L213.78,318.27 L213.80,317.00 L213.82,315.95 L213.84,315.11 L213.87,314.49 L213.89,314.10 L213.91,313.93 L213.93,313.98 L213.95,314.26 L213.98,314.76 L214.00,315.49 L214.02,316.43 L214.04,317.59 L214.07,318.96 L214.09,320.53 L214.11,322.30 L214.13,324.26 L214.16,326.40 L214.18,328.71 L214.20,331.18 L214.22,333.80 L214.25,336.57 L214.27,339.46 L214.29,342.47 L214.31,345.58 L214.34,348.78" stroke-width="0.990"/>
<path d="M214.34,348.78 L214.36,352.06 L214.38,355.40 L214.40,358.79 L214.43,362.20 L214.45,365.64 L214.47,369.08 L214.49,372.52 L214.52,375.92 L214.54,379.29 L214.56,382.59 L214.58,385.84 L214.60,388.99 L214.63,392.06 L214.65,395.01 L214.67,397.84 L214.69,400.53 L214.72,403.08 L214.74,405.48 L214.76,407.70 L214.78,409.75 L214.81,411.61 L214.83,413.28 L214.85,414.75 L214.87,416.02 L214.90,417.07 L214.92,417.90 L214.94,418.52 L214.96,418.91 L214.98,419.08 L215.01,419.02 L215.03,418.73 L215.05,418.23 L215.07,417.50 L215.10,416.55 L215.12,415.39 L215.14,414.01 L215.16,412.44 L215.19,410.67 L215.21,408.70 L215.23,406.56 L215.25,404.25 L215.27,401.77 L215.30,399.14 L215.32,396.38 L215.34,393.48 L215.36,390.47 L215.39,387.36 L215.41,384.16" stroke-width="0.990"/>
<path d="M215.41,384.16 L215.43,380.88 L215.45,377.54 L215.47,374.15 L215.50,370.73 L215.52,367.29 L215.54,363.85 L215.56,360.42 L215.59,357.01 L215.61,353.65 L215.63,350.34 L215.65,347.10 L215.68,343.95 L215.70,340.89 L215.72,337.94 L215.74,335.11 L215.76,332.42 L215.79,329.87 L215.81,327.48 L215.83,325.26 L215.85,323.21 L215.88,321.35 L215.90,319.68 L215.92,318.22 L215.94,316.96 L215.96,315.91 L215.99,315.08 L216.01,314.47 L216.03,314.09 L216.05,313.92 L216.08,313.99 L216.10,314.27 L216.12,314.79 L216.14,315.52 L216.16,316.47 L216.19,317.64 L216.21,319.01 L216.23,320.59 L216.25,322.37 L216.28,324.34 L216.30,326.48 L216.32,328.80 L216.34,331.28 L216.36,333.91 L216.39,336.68 L216.41,339.57 L216.43,342.59 L216.45,345.70 L216.47,348.91" stroke-width="0.990"/>
<path d="M216.47,348.91 L216.50,352.19 L216.52,355.53 L216.54,358.92 L216.56,362.34 L216.59,365.78 L216.61,369.22 L216.63,372.65 L216.65,376.05 L216.67,379.41 L216.70,382.72 L216.72,385.96 L216.74,389.11 L216.76,392.17 L216.78,395.12 L216.81,397.94 L216.83,400.63 L216.85,403.18 L216.87,405.56 L216.90,407.78 L216.92,409.83 L216.94,411.68 L216.96,413.35 L216.98,414.81 L217.01,416.06 L217.03,417.11 L217.05,417.93 L217.07,418.54 L217.09,418.92 L217.12,419.08 L217.14,419.01 L217.16,418.72 L217.18,418.20 L217.20,417.46 L217.23,416.51 L217.25,415.34 L217.27,413.96 L217.29,412.37 L217.32,410.59 L217.34,408.62 L217.36,406.48 L217.38,404.15 L217.40,401.67 L217.43,399.04 L217.45,396.27 L217.47,393.37 L217.49,390.35 L217.51,387.24 L217.54,384.03" stroke-width="0.990"/>
<path d="M217.54,384.03 L217.56,380.75 L217.58,377.41 L217.60,374.02 L217.62,370.60 L217.65,367.16 L217.67,363.72 L217.69,360.29 L217.71,356.88 L217.73,353.52 L217.76,350.22 L217.78,346.98 L217.80,343.83 L217.82,340.77 L217.84,337.83 L217.87,335.00 L217.89,332.32 L217.91,329.77 L217.93,327.39 L217.95,325.18 L217.98,323.14 L218.00,321.28 L218.02,319.62 L218.04,318.17 L218.06,316.92 L218.09,315.88 L218.11,315.05 L218.13,314.45 L218.15,314.08 L218.17,313.92 L218.20,313.99 L218.22,314.29 L218.24,314.81 L218.26,315.55 L218.28,316.51 L218.31,317.69 L218.33,319.07 L218.35,320.66 L218.37,322.44 L218.39,324.42 L218.42,326.57 L218.44,328.89 L218.46,331.38 L218.48,334.01 L218.50,336.79 L218.53,339.69 L218.55,342.71 L218.57,345.83 L218.59,349.03" stroke-width="0.990"/>
<path d="M218.59,349.03 L218.61,352.32 L218.63,355.66 L218.66,359.05 L218.68,362.47 L218.70,365.91 L218.72,369.35 L218.74,372.78 L218.77,376.18 L218.79,379.54 L218.81,382.85 L218.83,386.08 L218.85,389.23 L218.88,392.29 L218.90,395.23 L218.92,398.05 L218.94,400.73 L218.96,403.27 L218.99,405.65 L219.01,407.87 L219.03,409.90 L219.05,411.75 L219.07,413.41 L219.09,414.86 L219.12,416.11 L219.14,417.14 L219.16,417.96 L219.18,418.56 L219.20,418.93 L219.23,419.08 L219.25,419.00 L219.27,418.70 L219.29,418.18 L219.31,417.43 L219.34,416.47 L219.36,415.29 L219.38,413.90 L219.40,412.31 L219.42,410.52 L219.44,408.55 L219.47,406.39 L219.49,404.06 L219.51,401.57 L219.53,398.94 L219.55,396.16 L219.58,393.25 L219.60,390.23 L219.62,387.11 L219.64,383.90" stroke-width="0.990"/>
<path d="M219.64,383.90 L219.66,380.62 L219.68,377.28 L219.71,373.89 L219.73,370.46 L219.75,367.02 L219.77,363.58 L219.79,360.15 L219.82,356.75 L219.84,353.39 L219.86,350.09 L219.88,346.86 L219.90,343.71 L219.92,340.66 L219.95,337.71 L219.97,334.90 L219.99,332.21 L220.01,329.68 L220.03,327.30 L220.06,325.09 L220.08,323.06 L220.10,321.22 L220.12,319.56 L220.14,318.11 L220.16,316.87 L220.19,315.84 L220.21,315.03 L220.23,314.43 L220.25,314.07 L220.27,313.92 L220.29,314.00 L220.32,314.31 L220.34,314.84 L220.36,315.59 L220.38,316.55 L220.40,317.74 L220.43,319.13 L220.45,320.72 L220.47,322.52 L220.49,324.49 L220.51,326.65 L220.53,328.98 L220.56,331.48 L220.58,334.12 L220.60,336.90 L220.62,339.80 L220.64,342.82 L220.66,345.95 L220.69,349.16" stroke-width="1.000"/>
<path d="M220.69,349.16 L220.71,352.44 L220.73,355.79 L220.75,359.18 L220.77,362.60 L220.79,366.04 L220.82,369.48 L220.84,372.91 L220.86,376.31 L220.88,379.67 L220.90,382.97 L220.92,386.21 L220.95,389.35 L220.97,392.40 L220.99,395.34 L221.01,398.16 L221.03,400.84 L221.05,403.37 L221.08,405.74 L221.10,407.95 L221.12,409.98 L221.14,411.82 L221.16,413.47 L221.18,414.91 L221.21,416.15 L221.23,417.18 L221.25,417.99 L221.27,418.57 L221.29,418.94 L221.31,419.08 L221.34,419.00 L221.36,418.69 L221.38,418.15 L221.40,417.40 L221.42,416.42 L221.44,415.24 L221.47,413.84 L221.49,412.24 L221.51,410.45 L221.53,408.47 L221.55,406.30 L221.57,403.97 L221.60,401.47 L221.62,398.83 L221.64,396.05 L221.66,393.14 L221.68,390.12 L221.70,386.99 L221.73,383.78" stroke-width="1.000"/>
<path d="M221.73,383.78 L221.75,380.49 L221.77,377.15 L221.79,373.75 L221.81,370.33 L221.83,366.89 L221.86,363.45 L221.88,360.02 L221.90,356.62 L221.92,353.26 L221.94,349.96 L221.96,346.73 L221.98,343.59 L222.01,340.54 L222.03,337.60 L222.05,334.79 L222.07,332.11 L222.09,329.59 L222.11,327.21 L222.14,325.01 L222.16,322.99 L222.18,321.15 L222.20,319.50 L222.22,318.06 L222.24,316.83 L222.27,315.81 L222.29,315.00 L222.31,314.42 L222.33,314.06 L222.35,313.92 L222.37,314.01 L222.39,314.32 L222.42,314.86 L222.44,315.62 L222.46,316.60 L222.48,317.79 L222.50,319.19 L222.52,320.79 L222.55,322.59 L222.57,324.57 L222.59,326.74 L222.61,329.08 L222.63,331.57 L222.65,334.22 L222.67,337.01 L222.70,339.92 L222.72,342.94 L222.74,346.07 L222.76,349.28" stroke-width="1.000"/>
<path d="M222.76,349.28 L222.78,352.57 L222.80,355.92 L222.82,359.31 L222.85,362.74 L222.87,366.17 L222.89,369.62 L222.91,373.04 L222.93,376.44 L222.95,379.80 L222.98,383.10 L223.00,386.33 L223.02,389.47 L223.04,392.52 L223.06,395.45 L223.08,398.26 L223.10,400.94 L223.13,403.46 L223.15,405.83 L223.17,408.03 L223.19,410.05 L223.21,411.89 L223.23,413.53 L223.25,414.96 L223.28,416.19 L223.30,417.21 L223.32,418.01 L223.34,418.59 L223.36,418.95 L223.38,419.08 L223.40,418.99 L223.43,418.67 L223.45,418.13 L223.47,417.36 L223.49,416.38 L223.51,415.19 L223.53,413.78 L223.55,412.18 L223.58,410.38 L223.60,408.38 L223.62,406.22 L223.64,403.88 L223.66,401.38 L223.68,398.73 L223.70,395.94 L223.73,393.02 L223.75,390.00 L223.77,386.87 L223.79,383.65" stroke-width="1.000"/>
<path d="M223.79,383.65 L223.81,380.36 L223.83,377.02 L223.85,373.62 L223.88,370.20 L223.90,366.76 L223.92,363.32 L223.94,359.89 L223.96,356.49 L223.98,353.14 L224.00,349.84 L224.02,346.61 L224.05,343.47 L224.07,340.42 L224.09,337.49 L224.11,334.68 L224.13,332.01 L224.15,329.49 L224.17,327.13 L224.20,324.93 L224.22,322.91 L224.24,321.08 L224.26,319.45 L224.28,318.01 L224.30,316.78 L224.32,315.77 L224.35,314.97 L224.37,314.40 L224.39,314.05 L224.41,313.92 L224.43,314.02 L224.45,314.34 L224.47,314.89 L224.49,315.65 L224.52,316.64 L224.54,317.84 L224.56,319.25 L224.58,320.86 L224.60,322.66 L224.62,324.66 L224.64,326.83 L224.67,329.17 L224.69,331.67 L224.71,334.33 L224.73,337.12 L224.75,340.03 L224.77,343.06 L224.79,346.19 L224.81,349.41" stroke-width="1.000"/>
<path d="M224.81,349.41 L224.84,352.70 L224.86,356.05 L224.88,359.44 L224.90,362.87 L224.92,366.31 L224.94,369.75 L224.96,373.18 L224.98,376.57 L225.01,379.93 L225.03,383.23 L225.05,386.45 L225.07,389.59 L225.09,392.63 L225.11,395.56 L225.13,398.37 L225.15,401.04 L225.18,403.56 L225.20,405.92 L225.22,408.11 L225.24,410.12 L225.26,411.95 L225.28,413.58 L225.30,415.02 L225.32,416.24 L225.35,417.25 L225.37,418.04 L225.39,418.61 L225.41,418.96 L225.43,419.08 L225.45,418.98 L225.47,418.65 L225.49,418.10 L225.52,417.33 L225.54,416.34 L225.56,415.14 L225.58,413.73 L225.60,412.11 L225.62,410.30 L225.64,408.30 L225.66,406.13 L225.69,403.78 L225.71,401.28 L225.73,398.62 L225.75,395.83 L225.77,392.91 L225.79,389.88 L225.81,386.75 L225.83,383.53" stroke-width="1.000"/>
<path d="M225.83,383.53 L225.86,380.24 L225.88,376.89 L225.90,373.49 L225.92,370.07 L225.94,366.63 L225.96,363.19 L225.98,359.76 L226.00,356.36 L226.02,353.01 L226.05,349.71 L226.07,346.49 L226.09,343.35 L226.11,340.31 L226.13,337.38 L226.15,334.58 L226.17,331.91 L226.19,329.40 L226.21,327.04 L226.24,324.85 L226.26,322.84 L226.28,321.01 L226.30,319.39 L226.32,317.96 L226.34,316.74 L226.36,315.74 L226.38,314.95 L226.41,314.38 L226.43,314.04 L226.45,313.92 L226.47,314.02 L226.49,314.36 L226.51,314.91 L226.53,315.69 L226.55,316.68 L226.57,317.89 L226.60,319.30 L226.62,320.92 L226.64,322.74 L226.66,324.74 L226.68,326.92 L226.70,329.27 L226.72,331.77 L226.74,334.43 L226.76,337.23 L226.79,340.15 L226.81,343.18 L226.83,346.32 L226.85,349.54" stroke-width="1.000"/>
<path d="M226.85,349.54 L226.87,352.83 L226.89,356.18 L226.91,359.57 L226.93,363.00 L226.95,366.44 L226.98,369.88 L227.00,373.31 L227.02,376.70 L227.04,380.06 L227.06,383.35 L227.08,386.57 L227.10,389.71 L227.12,392.75 L227.14,395.67 L227.16,398.47 L227.19,401.14 L227.21,403.65 L227.23,406.01 L227.25,408.19 L227.27,410.20 L227.29,412.02 L227.31,413.64 L227.33,415.07 L227.35,416.28 L227.38,417.28 L227.40,418.07 L227.42,418.63 L227.44,418.97 L227.46,419.08 L227.48,418.97 L227.50,418.64 L227.52,418.08 L227.54,417.30 L227.56,416.30 L227.59,415.09 L227.61,413.67 L227.63,412.04 L227.65,410.23 L227.67,408.22 L227.69,406.04 L227.71,403.69 L227.73,401.18 L227.75,398.52 L227.77,395.72 L227.80,392.79 L227.82,389.76 L227.84,386.62 L227.86,383.40" stroke-width="1.000"/>
<path d="M227.86,383.40 L227.88,380.11 L227.90,376.76 L227.92,373.36 L227.94,369.93 L227.96,366.49 L227.98,363.05 L228.01,359.63 L228.03,356.23 L228.05,352.88 L228.07,349.58 L228.09,346.36 L228.11,343.23 L228.13,340.19 L228.15,337.27 L228.17,334.47 L228.19,331.81 L228.22,329.30 L228.24,326.95 L228.26,324.77 L228.28,322.76 L228.30,320.95 L228.32,319.33 L228.34,317.91 L228.36,316.70 L228.38,315.70 L228.40,314.92 L228.42,314.36 L228.45,314.03 L228.47,313.92 L228.49,314.03 L228.51,314.37 L228.53,314.94 L228.55,315.72 L228.57,316.72 L228.59,317.94 L228.61,319.36 L228.63,320.99 L228.65,322.81 L228.68,324.82 L228.70,327.00 L228.72,329.36 L228.74,331.87 L228.76,334.54 L228.78,337.34 L228.80,340.26 L228.82,343.30 L228.84,346.44 L228.86,349.66" stroke-width="1.000"/>
<path d="M228.86,349.66 L228.88,352.96 L228.91,356.31 L228.93,359.71 L228.95,363.13 L228.97,366.57 L228.99,370.01 L229.01,373.44 L229.03,376.83 L229.05,380.19 L229.07,383.48 L229.09,386.70 L229.11,389.83 L229.14,392.86 L229.16,395.78 L229.18,398.58 L229.20,401.24 L229.22,403.74 L229.24,406.09 L229.26,408.27 L229.28,410.27 L229.30,412.09 L229.32,413.70 L229.34,415.12 L229.36,416.32 L229.39,417.32 L229.41,418.09 L229.43,418.65 L229.45,418.98 L229.47,419.08 L229.49,418.96 L229.51,418.62 L229.53,418.05 L229.55,417.26 L229.57,416.25 L229.59,415.04 L229.61,413.61 L229.64,411.98 L229.66,410.15 L229.68,408.14 L229.70,405.95 L229.72,403.59 L229.74,401.08 L229.76,398.41 L229.78,395.61 L229.80,392.68 L229.82,389.64 L229.84,386.50 L229.86,383.28" stroke-width="1.000"/>
<path d="M229.86,383.28 L229.89,379.98 L229.91,376.63 L229.93,373.23 L229.95,369.80 L229.97,366.36 L229.99,362.92 L230.01,359.50 L230.03,356.10 L230.05,352.75 L230.07,349.46 L230.09,346.24 L230.11,343.11 L230.13,340.08 L230.16,337.16 L230.18,334.37 L230.20,331.71 L230.22,329.21 L230.24,326.86 L230.26,324.69 L230.28,322.69 L230.30,320.88 L230.32,319.27 L230.34,317.86 L230.36,316.66 L230.38,315.67 L230.40,314.90 L230.43,314.35 L230.45,314.02 L230.47,313.92 L230.49,314.04 L230.51,314.39 L230.53,314.96 L230.55,315.76 L230.57,316.77 L230.59,317.99 L230.61,319.42 L230.63,321.06 L230.65,322.88 L230.67,324.90 L230.70,327.09 L230.72,329.45 L230.74,331.97 L230.76,334.64 L230.78,337.45 L230.80,340.38 L230.82,343.42 L230.84,346.56 L230.86,349.79" stroke-width="1.000"/>
<path d="M230.86,349.79 L230.88,353.08 L230.90,356.44 L230.92,359.84 L230.94,363.27 L230.96,366.71 L230.99,370.15 L231.01,373.57 L231.03,376.96 L231.05,380.31 L231.07,383.60 L231.09,386.82 L231.11,389.95 L231.13,392.98 L231.15,395.89 L231.17,398.68 L231.19,401.34 L231.21,403.84 L231.23,406.18 L231.25,408.35 L231.27,410.35 L231.30,412.15 L231.32,413.76 L231.34,415.17 L231.36,416.37 L231.38,417.35 L231.40,418.12 L231.42,418.66 L231.44,418.98 L231.46,419.08 L231.48,418.95 L231.50,418.60 L231.52,418.02 L231.54,417.23 L231.56,416.21 L231.58,414.98 L231.61,413.55 L231.63,411.91 L231.65,410.08 L231.67,408.06 L231.69,405.86 L231.71,403.50 L231.73,400.98 L231.75,398.30 L231.77,395.50 L231.79,392.56 L231.81,389.52 L231.83,386.38 L231.85,383.15" stroke-width="1.000"/>
<path d="M231.85,383.15 L231.87,379.85 L231.89,376.49 L231.91,373.10 L231.93,369.67 L231.96,366.23 L231.98,362.79 L232.00,359.36 L232.02,355.97 L232.04,352.62 L232.06,349.33 L232.08,346.12 L232.10,342.99 L232.12,339.96 L232.14,337.05 L232.16,334.26 L232.18,331.61 L232.20,329.11 L232.22,326.78 L232.24,324.61 L232.26,322.62 L232.28,320.82 L232.31,319.21 L232.33,317.81 L232.35,316.61 L232.37,315.63 L232.39,314.87 L232.41,314.33 L232.43,314.01 L232.45,313.92 L232.47,314.05 L232.49,314.41 L232.51,314.99 L232.53,315.79 L232.55,316.81 L232.57,318.04 L232.59,319.48 L232.61,321.12 L232.63,322.96 L232.65,324.98 L232.68,327.18 L232.70,329.55 L232.72,332.07 L232.74,334.75 L232.76,337.56 L232.78,340.49 L232.80,343.54 L232.82,346.68 L232.84,349.91" stroke-width="1.000"/>
<path d="M232.84,349.91 L232.86,353.21 L232.88,356.57 L232.90,359.97 L232.92,363.40 L232.94,366.84 L232.96,370.28 L232.98,373.70 L233.00,377.09 L233.02,380.44 L233.04,383.73 L233.07,386.94 L233.09,390.07 L233.11,393.09 L233.13,396.00 L233.15,398.79 L233.17,401.44 L233.19,403.93 L233.21,406.27 L233.23,408.43 L233.25,410.42 L233.27,412.22 L233.29,413.82 L233.31,415.22 L233.33,416.41 L233.35,417.38 L233.37,418.14 L233.39,418.68 L233.41,418.99 L233.43,419.08 L233.45,418.94 L233.47,418.58 L233.50,418.00 L233.52,417.19 L233.54,416.17 L233.56,414.93 L233.58,413.49 L233.60,411.84 L233.62,410.01 L233.64,407.98 L233.66,405.78 L233.68,403.40 L233.70,400.88 L233.72,398.20 L233.74,395.39 L233.76,392.45 L233.78,389.40 L233.80,386.25 L233.82,383.02" stroke-width="1.000"/>
<path d="M233.82,383.02 L233.84,379.72 L233.86,376.36 L233.88,372.96 L233.90,369.54 L233.92,366.09 L233.95,362.65 L233.97,359.23 L233.99,355.84 L234.01,352.49 L234.03,349.21 L234.05,346.00 L234.07,342.87 L234.09,339.85 L234.11,336.94 L234.13,334.16 L234.15,331.51 L234.17,329.02 L234.19,326.69 L234.21,324.53 L234.23,322.54 L234.25,320.75 L234.27,319.15 L234.29,317.76 L234.31,316.57 L234.33,315.60 L234.35,314.85 L234.37,314.31 L234.39,314.00 L234.41,313.92 L234.43,314.06 L234.45,314.43 L234.48,315.02 L234.50,315.83 L234.52,316.85 L234.54,318.09 L234.56,319.54 L234.58,321.19 L234.60,323.03 L234.62,325.06 L234.64,327.27 L234.66,329.64 L234.68,332.18 L234.70,334.85 L234.72,337.67 L234.74,340.61 L234.76,343.66 L234.78,346.81 L234.80,350.04" stroke-width="1.000"/>
<path d="M234.80,350.04 L234.82,353.34 L234.84,356.70 L234.86,360.10 L234.88,363.53 L234.90,366.97 L234.92,370.41 L234.94,373.83 L234.96,377.23 L234.98,380.57 L235.00,383.85 L235.02,387.07 L235.05,390.19 L235.07,393.21 L235.09,396.11 L235.11,398.89 L235.13,401.53 L235.15,404.03 L235.17,406.35 L235.19,408.51 L235.21,410.49 L235.23,412.28 L235.25,413.88 L235.27,415.27 L235.29,416.45 L235.31,417.42 L235.33,418.17 L235.35,418.70 L235.37,419.00 L235.39,419.08 L235.41,418.93 L235.43,418.56 L235.45,417.97 L235.47,417.16 L235.49,416.12 L235.51,414.88 L235.53,413.43 L235.55,411.78 L235.57,409.93 L235.59,407.90 L235.61,405.69 L235.63,403.31 L235.65,400.77 L235.67,398.09 L235.69,395.27 L235.71,392.33 L235.73,389.28 L235.76,386.13 L235.78,382.90" stroke-width="1.000"/>
<path d="M235.78,382.90 L235.80,379.59 L235.82,376.23 L235.84,372.83 L235.86,369.40 L235.88,365.96 L235.90,362.52 L235.92,359.10 L235.94,355.71 L235.96,352.37 L235.98,349.08 L236.00,345.87 L236.02,342.75 L236.04,339.73 L236.06,336.83 L236.08,334.05 L236.10,331.42 L236.12,328.93 L236.14,326.60 L236.16,324.45 L236.18,322.47 L236.20,320.68 L236.22,319.09 L236.24,317.71 L236.26,316.53 L236.28,315.57 L236.30,314.82 L236.32,314.30 L236.34,314.00 L236.36,313.92 L236.38,314.07 L236.40,314.45 L236.42,315.04 L236.44,315.86 L236.46,316.90 L236.48,318.15 L236.50,319.60 L236.52,321.26 L236.54,323.11 L236.56,325.14 L236.58,327.36 L236.60,329.74 L236.62,332.28 L236.64,334.96 L236.66,337.78 L236.68,340.73 L236.71,343.78 L236.73,346.93 L236.75,350.17" stroke-width="1.000"/>
<path d="M236.75,350.17 L236.77,353.47 L236.79,356.83 L236.81,360.23 L236.83,363.66 L236.85,367.11 L236.87,370.54 L236.89,373.97 L236.91,377.36 L236.93,380.70 L236.95,383.98 L236.97,387.19 L236.99,390.31 L237.01,393.32 L237.03,396.22 L237.05,399.00 L237.07,401.63 L237.09,404.12 L237.11,406.44 L237.13,408.59 L237.15,410.56 L237.17,412.35 L237.19,413.93 L237.21,415.32 L237.23,416.49 L237.25,417.45 L237.27,418.19 L237.29,418.71 L237.31,419.01 L237.33,419.08 L237.35,418.92 L237.37,418.54 L237.39,417.94 L237.41,417.12 L237.43,416.08 L237.45,414.83 L237.47,413.37 L237.49,411.71 L237.51,409.86 L237.53,407.82 L237.55,405.60 L237.57,403.22 L237.59,400.67 L237.61,397.99 L237.63,395.16 L237.65,392.22 L237.67,389.16 L237.69,386.01 L237.71,382.77" stroke-width="1.000"/>
<path d="M237.71,382.77 L237.73,379.46 L237.75,376.10 L237.77,372.70 L237.79,369.27 L237.81,365.83 L237.83,362.39 L237.85,358.97 L237.87,355.58 L237.89,352.24 L237.91,348.96 L237.93,345.75 L237.95,342.63 L237.97,339.62 L237.99,336.72 L238.01,333.95 L238.03,331.32 L238.05,328.84 L238.07,326.52 L238.09,324.37 L238.11,322.40 L238.13,320.62 L238.15,319.04 L238.17,317.66 L238.19,316.49 L238.21,315.53 L238.23,314.80 L238.25,314.28 L238.27,313.99 L238.29,313.92 L238.31,314.08 L238.33,314.46 L238.35,315.07 L238.37,315.90 L238.39,316.94 L238.41,318.20 L238.43,319.66 L238.45,321.32 L238.47,323.18 L238.49,325.23 L238.51,327.45 L238.53,329.83 L238.55,332.38 L238.57,335.07 L238.59,337.89 L238.61,340.84 L238.63,343.90 L238.65,347.05 L238.67,350.29" stroke-width="1.000"/>
<path d="M238.67,350.29 L238.69,353.60 L238.71,356.96 L238.73,360.37 L238.75,363.80 L238.77,367.24 L238.79,370.68 L238.81,374.10 L238.83,377.49 L238.85,380.83 L238.87,384.11 L238.89,387.31 L238.91,390.42 L238.93,393.44 L238.95,396.33 L238.97,399.10 L238.99,401.73 L239.01,404.21 L239.03,406.53 L239.05,408.67 L239.07,410.64 L239.09,412.41 L239.11,413.99 L239.13,415.37 L239.15,416.53 L239.17,417.48 L239.19,418.22 L239.21,418.73 L239.23,419.01 L239.25,419.08 L239.27,418.91 L239.29,418.53 L239.31,417.91 L239.33,417.08 L239.35,416.04 L239.37,414.78 L239.39,413.31 L239.41,411.64 L239.43,409.78 L239.45,407.73 L239.47,405.51 L239.49,403.12 L239.51,400.57 L239.53,397.88 L239.55,395.05 L239.57,392.10 L239.59,389.04 L239.61,385.88 L239.63,382.64" stroke-width="1.000"/>
<path d="M239.63,382.64 L239.65,379.34 L239.67,375.97 L239.69,372.57 L239.71,369.14 L239.73,365.70 L239.75,362.26 L239.77,358.84 L239.79,355.45 L239.81,352.11 L239.83,348.83 L239.85,345.63 L239.87,342.52 L239.89,339.51 L239.91,336.61 L239.93,333.84 L239.95,331.22 L239.97,328.74 L239.99,326.43 L240.01,324.29 L240.03,322.33 L240.05,320.55 L240.07,318.98 L240.09,317.61 L240.11,316.45 L240.13,315.50 L240.15,314.77 L240.17,314.27 L240.19,313.98 L240.21,313.92 L240.23,314.09 L240.25,314.48 L240.27,315.10 L240.29,315.93 L240.31,316.99 L240.33,318.25 L240.35,319.72 L240.37,321.39 L240.39,323.26 L240.41,325.31 L240.43,327.53 L240.45,329.93 L240.47,332.48 L240.49,335.17 L240.51,338.00 L240.53,340.96 L240.54,344.02 L240.56,347.18 L240.58,350.42" stroke-width="1.000"/>
<path d="M240.58,350.42 L240.60,353.73 L240.62,357.09 L240.64,360.50 L240.66,363.93 L240.68,367.37 L240.70,370.81 L240.72,374.23 L240.74,377.62 L240.76,380.95 L240.78,384.23 L240.80,387.43 L240.82,390.54 L240.84,393.55 L240.86,396.44 L240.88,399.21 L240.90,401.83 L240.92,404.30 L240.94,406.61 L240.96,408.75 L240.98,410.71 L241.00,412.48 L241.02,414.05 L241.04,415.42 L241.06,416.57 L241.08,417.52 L241.10,418.24 L241.12,418.74 L241.14,419.02 L241.16,419.07 L241.18,418.90 L241.20,418.51 L241.22,417.89 L241.24,417.05 L241.26,415.99 L241.28,414.72 L241.30,413.25 L241.32,411.57 L241.34,409.70 L241.36,407.65 L241.38,405.42 L241.40,403.02 L241.42,400.47 L241.44,397.77 L241.46,394.94 L241.48,391.98 L241.49,388.92 L241.51,385.76 L241.53,382.52" stroke-width="1.000"/>
<path d="M241.53,382.52 L241.55,379.21 L241.57,375.84 L241.59,372.44 L241.61,369.00 L241.63,365.56 L241.65,362.12 L241.67,358.71 L241.69,355.32 L241.71,351.98 L241.73,348.71 L241.75,345.51 L241.77,342.40 L241.79,339.39 L241.81,336.50 L241.83,333.74 L241.85,331.12 L241.87,328.65 L241.89,326.34 L241.91,324.21 L241.93,322.25 L241.95,320.49 L241.97,318.92 L241.99,317.56 L242.01,316.41 L242.03,315.47 L242.05,314.75 L242.07,314.25 L242.09,313.98 L242.11,313.93 L242.13,314.10 L242.15,314.50 L242.17,315.13 L242.19,315.97 L242.20,317.03 L242.22,318.30 L242.24,319.78 L242.26,321.46 L242.28,323.33 L242.30,325.39 L242.32,327.62 L242.34,330.02 L242.36,332.58 L242.38,335.28 L242.40,338.12 L242.42,341.07 L242.44,344.14 L242.46,347.30 L242.48,350.55" stroke-width="1.000"/>
<path d="M242.48,350.55 L242.50,353.86 L242.52,357.22 L242.54,360.63 L242.56,364.06 L242.58,367.50 L242.60,370.94 L242.62,374.36 L242.64,377.74 L242.66,381.08 L242.68,384.36 L242.70,387.55 L242.72,390.66 L242.74,393.67 L242.76,396.55 L242.78,399.31 L242.79,401.93 L242.81,404.40 L242.83,406.70 L242.85,408.83 L242.87,410.78 L242.89,412.54 L242.91,414.10 L242.93,415.46 L242.95,416.61 L242.97,417.55 L242.99,418.26 L243.01,418.76 L243.03,419.03 L243.05,419.07 L243.07,418.89 L243.09,418.49 L243.11,417.86 L243.13,417.01 L243.15,415.95 L243.17,414.67 L243.19,413.19 L243.21,411.50 L243.23,409.63 L243.25,407.57 L243.27,405.33 L243.29,402.93 L243.30,400.37 L243.32,397.67 L243.34,394.83 L243.36,391.87 L243.38,388.80 L243.40,385.64 L243.42,382.39" stroke-width="1.000"/>
<path d="M243.42,382.39 L243.44,379.08 L243.46,375.71 L243.48,372.30 L243.50,368.87 L243.52,365.43 L243.54,361.99 L243.56,358.57 L243.58,355.19 L243.60,351.85 L243.62,348.58 L243.64,345.39 L243.66,342.28 L243.68,339.28 L243.70,336.39 L243.72,333.64 L243.74,331.02 L243.76,328.56 L243.77,326.26 L243.79,324.13 L243.81,322.18 L243.83,320.43 L243.85,318.87 L243.87,317.51 L243.89,316.37 L243.91,315.44 L243.93,314.73 L243.95,314.24 L243.97,313.97 L243.99,313.93 L244.01,314.11 L244.03,314.52 L244.05,315.16 L244.07,316.01 L244.09,317.08 L244.11,318.36 L244.13,319.84 L244.15,321.53 L244.17,323.41 L244.19,325.47 L244.20,327.71 L244.22,330.12 L244.24,332.68 L244.26,335.39 L244.28,338.23 L244.30,341.19 L244.32,344.26 L244.34,347.42 L244.36,350.67" stroke-width="1.000"/>
<path d="M244.36,350.67 L244.38,353.99 L244.40,357.35 L244.42,360.76 L244.44,364.19 L244.46,367.64 L244.48,371.07 L244.50,374.49 L244.52,377.87 L244.54,381.21 L244.56,384.48 L244.58,387.68 L244.59,390.78 L244.61,393.78 L244.63,396.66 L244.65,399.42 L244.67,402.03 L244.69,404.49 L244.71,406.79 L244.73,408.91 L244.75,410.85 L244.77,412.61 L244.79,414.16 L244.81,415.51 L244.83,416.65 L244.85,417.58 L244.87,418.29 L244.89,418.77 L244.91,419.03 L244.93,419.07 L244.95,418.88 L244.96,418.47 L244.98,417.83 L245.00,416.97 L245.02,415.90 L245.04,414.62 L245.06,413.13 L245.08,411.44 L245.10,409.55 L245.12,407.48 L245.14,405.24 L245.16,402.83 L245.18,400.27 L245.20,397.56 L245.22,394.72 L245.24,391.75 L245.26,388.68 L245.28,385.51 L245.30,382.26" stroke-width="1.000"/>
<path d="M245.30,382.26 L245.31,378.95 L245.33,375.58 L245.35,372.17 L245.37,368.74 L245.39,365.30 L245.41,361.86 L245.43,358.44 L245.45,355.06 L245.47,351.73 L245.49,348.46 L245.51,345.26 L245.53,342.16 L245.55,339.16 L245.57,336.28 L245.59,333.53 L245.61,330.92 L245.63,328.47 L245.64,326.17 L245.66,324.05 L245.68,322.11 L245.70,320.36 L245.72,318.81 L245.74,317.46 L245.76,316.33 L245.78,315.41 L245.80,314.70" stroke-width="1.000"/>
</g>
</g></g>
<line x1="37.3" y1="452.70" x2="39.5" y2="452.70" stroke="#707070" stroke-width="1"/>
<line x1="243.60000000000002" y1="452.70" x2="245.8" y2="452.70" stroke="#707070" stroke-width="1"/>
<line x1="37.3" y1="409.60" x2="39.5" y2="409.60" stroke="#707070" stroke-width="1"/>
<line x1="243.60000000000002" y1="409.60" x2="245.8" y2="409.60" stroke="#707070" stroke-width="1"/>
<line x1="37.3" y1="366.50" x2="39.5" y2="366.50" stroke="#707070" stroke-width="1"/>
<line x1="243.60000000000002" y1="366.50" x2="245.8" y2="366.50" stroke="#707070" stroke-width="1"/>
<line x1="37.3" y1="323.40" x2="39.5" y2="323.40" stroke="#707070" stroke-width="1"/>
<line x1="243.60000000000002" y1="323.40" x2="245.8" y2="323.40" stroke="#707070" stroke-width="1"/>
<line x1="37.3" y1="280.30" x2="39.5" y2="280.30" stroke="#707070" stroke-width="1"/>
<line x1="243.60000000000002" y1="280.30" x2="245.8" y2="280.30" stroke="#707070" stroke-width="1"/>
<line x1="37.30" y1="452.7" x2="37.30" y2="450.5" stroke="#707070" stroke-width="1"/>
<line x1="37.30" y1="280.3" x2="37.30" y2="282.5" stroke="#707070" stroke-width="1"/>
<line x1="89.42" y1="452.7" x2="89.42" y2="450.5" stroke="#707070" stroke-width="1"/>
<line x1="89.42" y1="280.3" x2="89.42" y2="282.5" stroke="#707070" stroke-width="1"/>
<line x1="141.55" y1="452.7" x2="141.55" y2="450.5" stroke="#707070" stroke-width="1"/>
<line x1="141.55" y1="280.3" x2="141.55" y2="282.5" stroke="#707070" stroke-width="1"/>
<line x1="193.68" y1="452.7" x2="193.68" y2="450.5" stroke="#707070" stroke-width="1"/>
<line x1="193.68" y1="280.3" x2="193.68" y2="282.5" stroke="#707070" stroke-width="1"/>
<line x1="245.80" y1="452.7" x2="245.80" y2="450.5" stroke="#707070" stroke-width="1"/>
<line x1="245.80" y1="280.3" x2="245.80" y2="282.5" stroke="#707070" stroke-width="1"/>
<path d="M36.70,280.3H246.40M36.70,452.7H246.40" stroke="#707070" stroke-width="1.6" fill="none"/>
<path d="M37.3,280.3V452.7M245.8,280.3V452.7" stroke="#707070" stroke-width="1.2" fill="none"/>
<text transform="translate(33.70,458.30) scale(0.72,1)" text-anchor="end" class="tk">-0.1</text>
<text transform="translate(33.70,415.20) scale(0.72,1)" text-anchor="end" class="tk">-0.05</text>
<text transform="translate(33.70,372.10) scale(0.72,1)" text-anchor="end" class="tk">0</text>
<text transform="translate(33.70,329.00) scale(0.72,1)" text-anchor="end" class="tk">0.05</text>
<text transform="translate(33.70,285.90) scale(0.72,1)" text-anchor="end" class="tk">0.1</text>
<text transform="translate(37.30,469.70) scale(0.72,1)" text-anchor="middle" class="tk">0</text>
<text transform="translate(89.42,469.70) scale(0.72,1)" text-anchor="middle" class="tk">0.05</text>
<text transform="translate(141.55,469.70) scale(0.72,1)" text-anchor="middle" class="tk">0.1</text>
<text transform="translate(193.68,469.70) scale(0.72,1)" text-anchor="middle" class="tk">0.15</text>
<text transform="translate(245.80,469.70) scale(0.72,1)" text-anchor="middle" class="tk">0.2</text>
<text transform="translate(141.55,488.70) scale(0.72,1)" text-anchor="middle" class="xl">Time(sec)</text>
<text transform="translate(12.40,366.50) scale(0.68,1) rotate(-90)" text-anchor="middle" class="yl" textLength="48.3" lengthAdjust="spacingAndGlyphs">Vq in pu</text>
<text transform="translate(138.90,516.00) scale(0.72,1)" text-anchor="middle" class="cap">(c)</text>
<line x1="333.4" y1="406.10" x2="541.6" y2="406.10" stroke="#e6e6e6" stroke-width="0.9"/>
<line x1="333.4" y1="362.88" x2="541.6" y2="362.88" stroke="#e6e6e6" stroke-width="0.9"/>
<line x1="333.4" y1="319.66" x2="541.6" y2="319.66" stroke="#e6e6e6" stroke-width="0.9"/>
<line x1="385.45" y1="276.6" x2="385.45" y2="449.5" stroke="#e6e6e6" stroke-width="0.9"/>
<line x1="437.50" y1="276.6" x2="437.50" y2="449.5" stroke="#e6e6e6" stroke-width="0.9"/>
<line x1="489.55" y1="276.6" x2="489.55" y2="449.5" stroke="#e6e6e6" stroke-width="0.9"/>
<defs><clipPath id="cd"><rect x="333.40" y="276.60" width="208.20" height="172.90"/></clipPath></defs>
<g clip-path="url(#cd)">
<polyline points="333.40,406.30 333.67,406.28 333.93,406.22 334.20,406.12 334.47,406.01 334.73,405.89 335.00,405.78 335.27,405.68 335.53,405.62 335.80,405.60 336.05,405.35 336.30,404.62 336.55,403.40 336.81,401.71 337.06,399.55 337.31,396.96 337.56,393.94 337.81,390.53 338.06,386.74 338.31,382.61 338.57,378.18 338.82,373.48 339.07,368.54 339.32,363.42 339.57,358.13 339.82,352.74 340.07,347.29 340.33,341.81 340.58,336.36 340.83,330.97 341.08,325.68 341.33,320.56 341.58,315.62 341.83,310.92 342.09,306.49 342.34,302.36 342.59,298.57 342.84,295.16 343.09,292.14 343.34,289.55 343.59,287.39 343.85,285.70 344.10,284.48 344.35,283.75 344.60,283.50 344.86,283.95 345.11,285.28 345.37,287.48 345.63,290.52 345.89,294.36 346.14,298.96 346.40,304.25 346.66,310.18 346.91,316.66 347.17,323.61 347.43,330.95 347.69,338.58 347.94,346.42 348.20,354.35 348.46,362.28 348.71,370.12 348.97,377.75 349.23,385.09 349.49,392.04 349.74,398.52 350.00,404.45 350.26,409.74 350.51,414.34 350.77,418.18 351.03,421.22 351.29,423.42 351.54,424.75 351.80,425.20 352.06,424.80 352.31,423.61 352.57,421.64 352.83,418.96 353.09,415.62 353.34,411.68 353.60,407.25 353.86,402.42 354.11,397.29 354.37,391.98 354.63,386.62 354.89,381.31 355.14,376.18 355.40,371.35 355.66,366.92 355.91,362.98 356.17,359.64 356.43,356.96 356.69,354.99 356.94,353.80 357.20,353.40 357.46,353.82 357.72,355.08 357.98,357.13 358.24,359.90 358.49,363.29 358.75,367.20 359.01,371.49 359.27,376.00 359.53,380.60 359.79,385.11 360.05,389.40 360.31,393.31 360.56,396.70 360.82,399.47 361.08,401.52 361.34,402.78 361.60,403.20 361.85,402.94 362.10,402.16 362.35,400.89 362.60,399.19 362.85,397.11 363.10,394.74 363.35,392.17 363.60,389.50 363.85,386.83 364.10,384.26 364.35,381.89 364.60,379.81 364.85,378.11 365.10,376.84 365.35,376.06 365.60,375.80 365.86,376.09 366.12,376.95 366.38,378.33 366.64,380.18 366.90,382.43 367.16,384.96 367.42,387.66 367.68,390.44 367.94,393.14 368.20,395.68 368.46,397.92 368.72,399.77 368.98,401.15 369.24,402.01 369.50,402.30 369.75,402.14 370.00,401.68 370.25,400.93 370.50,399.91 370.75,398.68 371.00,397.27 371.25,395.74 371.50,394.15 371.75,392.56 372.00,391.03 372.25,389.62 372.50,388.39 372.75,387.37 373.00,386.62 373.25,386.16 373.50,386.00 373.75,386.16 374.00,386.61 374.25,387.35 374.50,388.33 374.75,389.51 375.00,390.82 375.25,392.20 375.50,393.58 375.75,394.89 376.00,396.07 376.25,397.05 376.50,397.79 376.75,398.24 377.00,398.40 377.27,398.21 377.53,397.67 377.80,396.80 378.07,395.68 378.33,394.36 378.60,392.95 378.87,391.54 379.13,390.23 379.40,389.10 379.67,388.23 379.93,387.69 380.20,387.50 380.46,387.66 380.72,388.14 380.98,388.89 381.23,389.88 381.49,391.02 381.75,392.25 382.01,393.48 382.27,394.62 382.52,395.61 382.78,396.36 383.04,396.84 383.30,397.00 383.56,396.86 383.82,396.46 384.08,395.83 384.34,395.03 384.60,394.15 384.86,393.27 385.12,392.47 385.38,391.84 385.64,391.44 385.90,391.30 386.16,391.46 386.42,391.94 386.68,392.68 386.94,393.61 387.20,394.65 387.46,395.69 387.72,396.62 387.98,397.36 388.24,397.84 388.50,398.00 388.75,397.90 389.01,397.62 389.26,397.17 389.52,396.60 389.77,395.94 390.03,395.26 390.28,394.60 390.54,394.03 390.79,393.58 391.05,393.30 391.30,393.20 391.57,393.31 391.84,393.61 392.11,394.09 392.38,394.69 392.65,395.35 392.92,396.01 393.19,396.61 393.46,397.09 393.73,397.39 394.00,397.50 394.27,397.42 394.54,397.18 394.81,396.82 395.08,396.36 395.35,395.85 395.62,395.34 395.89,394.88 396.16,394.52 396.43,394.28 396.70,394.20 396.96,394.28 397.23,394.51 397.50,394.86 397.76,395.31 398.02,395.80 398.29,396.30 398.55,396.74 398.82,397.10 399.08,397.33 399.35,397.41 399.61,397.35 399.88,397.21 400.14,396.98 400.41,396.69 400.67,396.37 400.94,396.04 401.20,395.75 401.47,395.53 401.73,395.38 402.00,395.33 402.26,395.38 402.53,395.52 402.79,395.75 403.06,396.04 403.32,396.36 403.59,396.68 403.85,396.97 404.12,397.20 404.38,397.34 404.65,397.39 404.91,397.36 405.18,397.28 405.44,397.14 405.71,396.96 405.97,396.77 406.24,396.58 406.50,396.40 406.77,396.26 407.03,396.18 407.30,396.15 407.56,396.18 407.83,396.28 408.09,396.44 408.36,396.63 408.62,396.85 408.89,397.07 409.15,397.26 409.42,397.42 409.68,397.52 409.95,397.55 410.21,397.53 410.48,397.48 410.74,397.40 411.01,397.30 411.27,397.19 411.54,397.08 411.80,396.98 412.07,396.90 412.33,396.85 412.60,396.83 412.86,396.86 413.13,396.93 413.39,397.03 413.66,397.17 413.92,397.32 414.19,397.47 414.45,397.61 414.72,397.72 414.98,397.79 415.25,397.81 415.51,397.80 415.78,397.78 416.04,397.73 416.31,397.68 416.57,397.62 416.84,397.56 417.10,397.51 417.37,397.47 417.63,397.44 417.90,397.43 418.16,397.45 418.43,397.50 418.69,397.58 418.96,397.68 419.22,397.79 419.49,397.90 419.75,398.00 420.02,398.07 420.28,398.12 420.55,398.14 420.81,398.14 421.08,398.13 421.34,398.11 421.61,398.09 421.87,398.06 422.14,398.04 422.40,398.01 422.67,398.00 422.93,397.98 423.20,397.98 423.46,397.99 423.73,398.03 423.99,398.09 424.26,398.17 424.52,398.25 424.79,398.33 425.05,398.41 425.32,398.46 425.58,398.50 425.85,398.52 426.11,398.51 426.38,398.51 426.64,398.51 426.91,398.51 427.17,398.50 427.44,398.50 427.70,398.50 427.97,398.50 428.23,398.49 428.50,398.49 428.76,398.50 429.01,398.51 429.27,398.54 429.52,398.57 429.78,398.61 430.04,398.67 430.29,398.73 430.55,398.79 430.80,398.87 431.06,398.95 431.31,399.04 431.57,399.13 431.83,399.23 432.08,399.33 432.34,399.43 432.59,399.54 432.85,399.65 433.11,399.75 433.36,399.86 433.62,399.96 433.87,400.06 434.13,400.16 434.39,400.25 434.64,400.34 434.90,400.42 435.15,400.50 435.41,400.57 435.66,400.63 435.92,400.68 436.18,400.72 436.43,400.76 436.69,400.78 436.94,400.80 437.20,400.80 437.45,400.79 437.71,400.76 437.96,400.71 438.22,400.64 438.48,400.55 438.73,400.45 438.99,400.34 439.24,400.21 439.50,400.08 439.75,399.95 440.00,399.82 440.26,399.69 440.51,399.56 440.77,399.45 441.02,399.35 441.28,399.26 441.54,399.19 441.79,399.14 442.05,399.11 442.30,399.10 442.56,399.11 442.81,399.13 443.06,399.17 443.32,399.21 443.57,399.28 443.83,399.35 444.08,399.43 444.34,399.51 444.59,399.61 444.85,399.70 445.11,399.79 445.36,399.89 445.62,399.97 445.87,400.05 446.12,400.12 446.38,400.19 446.63,400.23 446.89,400.27 447.14,400.29 447.40,400.30 447.66,400.30 447.91,400.29 448.17,400.27 448.43,400.25 448.69,400.22 448.94,400.19 449.20,400.15 449.46,400.11 449.71,400.07 449.97,400.02 450.23,399.97 450.49,399.91 450.74,399.86 451.00,399.80 451.26,399.74 451.51,399.69 451.77,399.63 452.03,399.58 452.29,399.53 452.54,399.49 452.80,399.45 453.06,399.41 453.31,399.38 453.57,399.35 453.83,399.33 454.09,399.31 454.34,399.30 454.60,399.30 454.85,399.30 455.11,399.31 455.36,399.31 455.61,399.32 455.87,399.33 456.12,399.35 456.38,399.36 456.63,399.38 456.88,399.40 457.14,399.43 457.39,399.45 457.64,399.48 457.90,399.51 458.15,399.54 458.40,399.57 458.66,399.60 458.91,399.63 459.17,399.66 459.42,399.70 459.67,399.73 459.93,399.77 460.18,399.80 460.43,399.84 460.69,399.87 460.94,399.90 461.20,399.93 461.45,399.96 461.70,399.99 461.96,400.02 462.21,400.05 462.46,400.07 462.72,400.10 462.97,400.12 463.22,400.14 463.48,400.15 463.73,400.17 463.99,400.18 464.24,400.19 464.49,400.19 464.75,400.20 465.00,400.20 465.25,400.20 465.50,400.20 465.75,400.20 466.00,400.20 466.25,400.20 466.50,400.20 466.75,400.21 467.00,400.21 467.25,400.21 467.50,400.21 467.75,400.22 468.00,400.22 468.25,400.22 468.50,400.23 468.75,400.23 469.00,400.24 469.25,400.24 469.50,400.24 469.75,400.25 470.00,400.25 470.25,400.26 470.50,400.27 470.75,400.27 471.00,400.28 471.25,400.28 471.50,400.29 471.75,400.30 472.00,400.31 472.25,400.31 472.50,400.32 472.75,400.33 473.00,400.34 473.25,400.34 473.50,400.35 473.75,400.36 474.00,400.37 474.25,400.38 474.50,400.39 474.75,400.40 475.00,400.41 475.25,400.42 475.50,400.43 475.75,400.44 476.00,400.45 476.25,400.46 476.50,400.47 476.75,400.48 477.00,400.49 477.25,400.50 477.50,400.51 477.75,400.52 478.00,400.53 478.25,400.55 478.50,400.56 478.75,400.57 479.00,400.58 479.25,400.59 479.50,400.60 479.75,400.62 480.00,400.63 480.25,400.64 480.50,400.65 480.75,400.66 481.00,400.68 481.25,400.69 481.50,400.70 481.75,400.71 482.00,400.73 482.25,400.74 482.50,400.75 482.75,400.76 483.00,400.77 483.25,400.79 483.50,400.80 483.75,400.81 484.00,400.82 484.25,400.84 484.50,400.85 484.75,400.86 485.00,400.87 485.25,400.88 485.50,400.90 485.75,400.91 486.00,400.92 486.25,400.93 486.50,400.94 486.75,400.95 487.00,400.97 487.25,400.98 487.50,400.99 487.75,401.00 488.00,401.01 488.25,401.02 488.50,401.03 488.75,401.04 489.00,401.05 489.25,401.06 489.50,401.07 489.75,401.08 490.00,401.09 490.25,401.10 490.50,401.11 490.75,401.12 491.00,401.13 491.25,401.14 491.50,401.15 491.75,401.16 492.00,401.16 492.25,401.17 492.50,401.18 492.75,401.19 493.00,401.19 493.25,401.20 493.50,401.21 493.75,401.22 494.00,401.22 494.25,401.23 494.50,401.23 494.75,401.24 495.00,401.25 495.25,401.25 495.50,401.26 495.75,401.26 496.00,401.26 496.25,401.27 496.50,401.27 496.75,401.28 497.00,401.28 497.25,401.28 497.50,401.29 497.75,401.29 498.00,401.29 498.25,401.29 498.50,401.30 498.75,401.30 499.00,401.30 499.25,401.30 499.50,401.30 499.75,401.30 500.00,401.30 500.25,401.30 500.50,401.30 500.75,401.30 501.00,401.30 501.25,401.30 501.50,401.30 501.75,401.31 502.00,401.31 502.26,401.31 502.51,401.31 502.76,401.31 503.01,401.32 503.26,401.32 503.51,401.32 503.76,401.32 504.01,401.33 504.26,401.33 504.51,401.33 504.76,401.34 505.01,401.34 505.26,401.35 505.51,401.35 505.76,401.36 506.01,401.36 506.27,401.37 506.52,401.37 506.77,401.38 507.02,401.38 507.27,401.39 507.52,401.39 507.77,401.40 508.02,401.41 508.27,401.41 508.52,401.42 508.77,401.43 509.02,401.43 509.27,401.44 509.52,401.45 509.77,401.46 510.02,401.46 510.27,401.47 510.53,401.48 510.78,401.49 511.03,401.50 511.28,401.50 511.53,401.51 511.78,401.52 512.03,401.53 512.28,401.54 512.53,401.55 512.78,401.56 513.03,401.57 513.28,401.58 513.53,401.59 513.78,401.60 514.03,401.61 514.28,401.62 514.53,401.63 514.79,401.64 515.04,401.65 515.29,401.66 515.54,401.67 515.79,401.68 516.04,401.69 516.29,401.70 516.54,401.71 516.79,401.72 517.04,401.73 517.29,401.74 517.54,401.75 517.79,401.76 518.04,401.78 518.29,401.79 518.54,401.80 518.80,401.81 519.05,401.82 519.30,401.83 519.55,401.84 519.80,401.85 520.05,401.87 520.30,401.88 520.55,401.89 520.80,401.90 521.05,401.91 521.30,401.92 521.55,401.93 521.80,401.95 522.05,401.96 522.30,401.97 522.55,401.98 522.80,401.99 523.06,402.00 523.31,402.01 523.56,402.02 523.81,402.04 524.06,402.05 524.31,402.06 524.56,402.07 524.81,402.08 525.06,402.09 525.31,402.10 525.56,402.11 525.81,402.12 526.06,402.13 526.31,402.14 526.56,402.15 526.81,402.16 527.07,402.17 527.32,402.18 527.57,402.19 527.82,402.20 528.07,402.21 528.32,402.22 528.57,402.23 528.82,402.24 529.07,402.25 529.32,402.26 529.57,402.27 529.82,402.28 530.07,402.29 530.32,402.30 530.57,402.30 530.82,402.31 531.07,402.32 531.33,402.33 531.58,402.34 531.83,402.34 532.08,402.35 532.33,402.36 532.58,402.37 532.83,402.37 533.08,402.38 533.33,402.39 533.58,402.39 533.83,402.40 534.08,402.41 534.33,402.41 534.58,402.42 534.83,402.42 535.08,402.43 535.33,402.43 535.59,402.44 535.84,402.44 536.09,402.45 536.34,402.45 536.59,402.46 536.84,402.46 537.09,402.47 537.34,402.47 537.59,402.47 537.84,402.48 538.09,402.48 538.34,402.48 538.59,402.48 538.84,402.49 539.09,402.49 539.34,402.49 539.60,402.49 539.85,402.49 540.10,402.50 540.35,402.50 540.60,402.50 540.85,402.50 541.10,402.50 541.35,402.50 541.60,402.50" fill="none" stroke="#0000ff" stroke-width="1.55" stroke-linejoin="round" />
</g>
<line x1="333.4" y1="449.32" x2="335.59999999999997" y2="449.32" stroke="#707070" stroke-width="1"/>
<line x1="539.4" y1="449.32" x2="541.6" y2="449.32" stroke="#707070" stroke-width="1"/>
<line x1="333.4" y1="406.10" x2="335.59999999999997" y2="406.10" stroke="#707070" stroke-width="1"/>
<line x1="539.4" y1="406.10" x2="541.6" y2="406.10" stroke="#707070" stroke-width="1"/>
<line x1="333.4" y1="362.88" x2="335.59999999999997" y2="362.88" stroke="#707070" stroke-width="1"/>
<line x1="539.4" y1="362.88" x2="541.6" y2="362.88" stroke="#707070" stroke-width="1"/>
<line x1="333.4" y1="319.66" x2="335.59999999999997" y2="319.66" stroke="#707070" stroke-width="1"/>
<line x1="539.4" y1="319.66" x2="541.6" y2="319.66" stroke="#707070" stroke-width="1"/>
<line x1="333.4" y1="276.44" x2="335.59999999999997" y2="276.44" stroke="#707070" stroke-width="1"/>
<line x1="539.4" y1="276.44" x2="541.6" y2="276.44" stroke="#707070" stroke-width="1"/>
<line x1="333.40" y1="449.5" x2="333.40" y2="447.3" stroke="#707070" stroke-width="1"/>
<line x1="333.40" y1="276.6" x2="333.40" y2="278.8" stroke="#707070" stroke-width="1"/>
<line x1="385.45" y1="449.5" x2="385.45" y2="447.3" stroke="#707070" stroke-width="1"/>
<line x1="385.45" y1="276.6" x2="385.45" y2="278.8" stroke="#707070" stroke-width="1"/>
<line x1="437.50" y1="449.5" x2="437.50" y2="447.3" stroke="#707070" stroke-width="1"/>
<line x1="437.50" y1="276.6" x2="437.50" y2="278.8" stroke="#707070" stroke-width="1"/>
<line x1="489.55" y1="449.5" x2="489.55" y2="447.3" stroke="#707070" stroke-width="1"/>
<line x1="489.55" y1="276.6" x2="489.55" y2="278.8" stroke="#707070" stroke-width="1"/>
<line x1="541.60" y1="449.5" x2="541.60" y2="447.3" stroke="#707070" stroke-width="1"/>
<line x1="541.60" y1="276.6" x2="541.60" y2="278.8" stroke="#707070" stroke-width="1"/>
<path d="M332.80,276.6H542.20M332.80,449.5H542.20" stroke="#707070" stroke-width="1.6" fill="none"/>
<path d="M333.4,276.6V449.5M541.6,276.6V449.5" stroke="#707070" stroke-width="1.2" fill="none"/>
<text transform="translate(329.80,454.92) scale(0.72,1)" text-anchor="end" class="tk">-0.01</text>
<text transform="translate(329.80,411.70) scale(0.72,1)" text-anchor="end" class="tk">0</text>
<text transform="translate(329.80,368.48) scale(0.72,1)" text-anchor="end" class="tk">0.01</text>
<text transform="translate(329.80,325.26) scale(0.72,1)" text-anchor="end" class="tk">0.02</text>
<text transform="translate(329.80,282.04) scale(0.72,1)" text-anchor="end" class="tk">0.03</text>
<text transform="translate(333.40,466.50) scale(0.72,1)" text-anchor="middle" class="tk">0</text>
<text transform="translate(385.45,466.50) scale(0.72,1)" text-anchor="middle" class="tk">0.05</text>
<text transform="translate(437.50,466.50) scale(0.72,1)" text-anchor="middle" class="tk">0.1</text>
<text transform="translate(489.55,466.50) scale(0.72,1)" text-anchor="middle" class="tk">0.15</text>
<text transform="translate(541.60,466.50) scale(0.72,1)" text-anchor="middle" class="tk">0.2</text>
<text transform="translate(437.50,484.80) scale(0.72,1)" text-anchor="middle" class="xl">Time(sec)</text>
<text transform="translate(307.00,363.05) scale(0.68,1) rotate(-90)" text-anchor="middle" class="yl" textLength="97.3" lengthAdjust="spacingAndGlyphs">Torque(Te) in pu</text>
<text transform="translate(433.80,515.60) scale(0.72,1)" text-anchor="middle" class="cap">(d)</text>
</svg></body></html>
